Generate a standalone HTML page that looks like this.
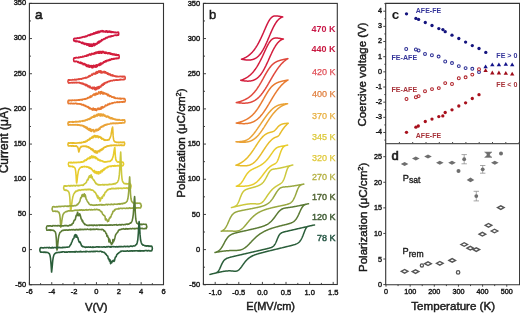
<!DOCTYPE html>
<html><head><meta charset="utf-8"><title>Figure</title>
<style>
html,body{margin:0;padding:0;background:#fff;}
svg{display:block;}
text{font-family:'Liberation Sans', Arial, Helvetica, sans-serif;}
</style></head>
<body>
<svg width="520" height="313" viewBox="0 0 520 313">
<rect width="520" height="313" fill="#fff"/>
<path d="M73.9 38.65 L74.12 38.82 L74.35 38.72 L74.57 38.39 L74.79 38.35 L75.02 38.33 L75.24 38.52 L75.46 38.3 L75.68 38.58 L75.91 38.51 L76.13 38.73 L76.35 38.62 L76.58 38.14 L76.8 38.21 L77.02 38.09 L77.25 38.34 L77.47 38.25 L77.69 37.9 L77.91 38.26 L78.14 37.99 L78.36 38.04 L78.58 38.22 L78.81 37.82 L79.03 37.97 L79.25 38.06 L79.48 38.19 L79.7 37.77 L79.92 37.55 L80.14 37.43 L80.37 37.88 L80.59 37.91 L80.81 37.74 L81.04 37.62 L81.26 37.75 L81.48 37.45 L81.7 37.11 L81.93 37.48 L82.15 37.55 L82.37 37.19 L82.6 36.87 L82.82 36.92 L83.04 36.78 L83.27 36.78 L83.49 36.92 L83.71 36.62 L83.94 36.93 L84.16 37.08 L84.38 36.59 L84.6 36.6 L84.83 37.02 L85.05 36.32 L85.27 36.3 L85.5 36.53 L85.72 35.97 L85.94 36.21 L86.17 36.65 L86.39 36.2 L86.61 36.27 L86.83 36.41 L87.06 36.32 L87.28 35.8 L87.5 35.45 L87.73 35.33 L87.95 35.39 L88.17 35.44 L88.4 35.02 L88.62 35.04 L88.84 34.88 L89.06 35.4 L89.29 34.94 L89.51 34.98 L89.73 35.42 L89.96 34.92 L90.18 34.41 L90.4 34.61 L90.62 35.08 L90.85 34.07 L91.07 34.57 L91.29 34.5 L91.52 34.4 L91.74 34.73 L91.96 33.9 L92 33.77 L92.19 34.15 L92.41 33.81 L92.63 34.34 L92.86 34.32 L93.08 34.19 L93.3 33.32 L93.52 33.41 L93.75 32.87 L93.97 33.1 L94.19 33.99 L94.42 33.89 L94.64 33.84 L94.86 32.71 L95.09 32.59 L95.31 33.14 L95.53 33.38 L95.75 33.03 L95.98 32.1 L96.2 33.28 L96.42 32.97 L96.65 32.02 L96.87 32.18 L97.09 33.12 L97.31 32.16 L97.54 32.61 L97.76 31.59 L97.98 32.78 L98.21 31.5 L98.43 32.8 L98.65 31.72 L98.88 31.31 L99.1 32.64 L99.32 31.86 L99.55 31.66 L99.77 32.27 L99.99 31.28 L100.21 31.22 L100.44 31.22 L100.66 30.97 L100.88 31.31 L101 31.68 L101.11 31.39 L101.33 31.5 L101.55 31.51 L101.78 31.35 L102 30.61 L102.22 30.87 L102.44 31.77 L102.67 31.1 L102.89 31.47 L103.11 30.73 L103.34 30.95 L103.56 31.8 L103.78 31.46 L104 32.02 L104.23 31.54 L104.45 31.38 L104.67 31.3 L104.9 31.34 L105.12 31.7 L105.34 32.08 L105.57 31.5 L105.79 31.94 L106.01 30.87 L106.23 30.82 L106.46 30.84 L106.68 31.91 L106.9 31.01 L107.13 31.77 L107.35 32.11 L107.57 31.19 L107.8 31.47 L108.02 32.31 L108.24 31.2 L108.47 31.71 L108.69 31.31 L108.91 32.04 L109.13 31.84 L109.36 31.18 L109.58 31.99 L109.8 31.31 L110.03 32.24 L110.25 31.43 L110.47 31.38 L110.69 31.7 L110.92 31.91 L111.14 32.4 L111.36 31.65 L111.59 32.16 L111.81 31.65 L112.03 32.34 L112.26 31.7 L112.48 32.33 L112.7 31.77 L112.93 31.78 L113.15 32.21 L113.37 32.33 L113.59 32.07 L113.82 32.35 L114.04 31.96 L114.26 31.93 L114.49 32.2 L114.71 32.64 L114.93 32.41 L115.16 32.29 L115.38 32.21 L115.6 32.66 L115.82 32.19 L116.05 32.85 L116.27 32.76 L116.49 32.49 L116.72 32.41 L116.94 32.66 L117.16 32.39 L117.38 32.68 L117.61 32.45 L117.83 32.17 L118.05 32.19 L118.28 32.34 L118.5 32.21 Q119.04 34 118.5 35.14 L118.5 35.14 L118.28 34.75 L118.05 35.14 L117.83 34.8 L117.61 34.96 L117.38 35.17 L117.16 35.32 L116.94 35.45 L116.72 35.19 L116.49 35.43 L116.27 35.21 L116.05 35.04 L115.82 35.31 L115.6 35.39 L115.38 35.09 L115.16 35.13 L114.93 35.26 L114.71 35.37 L114.49 35.42 L114.26 35.39 L114.04 35.41 L113.82 35.49 L113.59 35.46 L113.37 36.03 L113.15 35.68 L112.93 36.08 L112.7 36.12 L112.48 36.13 L112.26 36.27 L112.03 35.97 L111.81 35.77 L111.59 36.26 L111.36 36.47 L111.14 36.06 L110.92 36.58 L110.69 36.07 L110.47 36.6 L110.25 36.28 L110.03 36.87 L109.8 36.95 L109.58 36.66 L109.36 36.58 L109.13 36.74 L108.91 36.47 L108.69 36.78 L108.47 36.87 L108.24 37.02 L108.02 37.44 L107.8 37.23 L107.57 37.72 L107.35 37.83 L107.13 37.16 L106.9 37.78 L106.68 38.05 L106.46 37.93 L106.23 37.61 L106.01 37.9 L105.79 37.69 L105.57 38.63 L105.34 38.02 L105.12 38.79 L104.9 38.99 L104.67 38.64 L104.45 38.95 L104.23 38.85 L104 38.89 L103.78 39.4 L103.56 39.21 L103.34 39.04 L103.11 39.54 L102.89 39.97 L102.67 39.74 L102.44 39.93 L102.22 39.95 L102 40.56 L101.78 39.78 L101.55 39.66 L101.33 40.59 L101.11 41.35 L101 41.4 L100.88 40.75 L100.66 41.65 L100.44 40.97 L100.21 41.4 L99.99 41.03 L99.77 41.02 L99.55 42.36 L99.32 42.63 L99.1 42.25 L98.88 41.18 L98.65 42.34 L98.43 42.7 L98.21 43.18 L97.98 43.29 L97.76 42.08 L97.54 42.24 L97.31 44.01 L97.09 42.96 L96.87 43.97 L96.65 44.08 L96.42 43.51 L96.2 44.31 L95.98 44.15 L95.75 44.59 L95.53 43.96 L95.31 45.05 L95.09 43.51 L94.86 43.65 L94.64 44.06 L94.42 45.66 L94.19 44.43 L93.97 45.1 L93.75 44.16 L93.52 43.61 L93.3 44.87 L93.08 45.48 L92.86 45.7 L92.63 46.2 L92.41 44.33 L92.19 45.76 L92 45.77 L91.96 44.76 L91.74 45.61 L91.52 46.33 L91.29 43.97 L91.07 44.28 L90.85 46.28 L90.62 44.32 L90.4 44.58 L90.18 44.17 L89.96 45.09 L89.73 46.31 L89.51 44.17 L89.29 44.69 L89.06 44.18 L88.84 45.86 L88.62 44.62 L88.4 44.08 L88.17 43.81 L87.95 44.02 L87.73 43.75 L87.5 44.97 L87.28 44.38 L87.06 45.18 L86.83 45.07 L86.61 43.45 L86.39 44.57 L86.17 44.64 L85.94 44.3 L85.72 43.92 L85.5 43.54 L85.27 43.89 L85.05 43.33 L84.83 43.1 L84.6 44.37 L84.38 43.43 L84.16 44.14 L83.94 44.08 L83.71 43.23 L83.49 43.86 L83.27 42.73 L83.04 43.5 L82.82 42.37 L82.6 42.84 L82.37 43.07 L82.15 42.41 L81.93 43.37 L81.7 42.86 L81.48 42.73 L81.26 43.03 L81.04 42.29 L80.81 42.4 L80.59 41.96 L80.37 42.23 L80.14 42.28 L79.92 41.99 L79.7 42.25 L79.48 41.44 L79.25 41.59 L79.03 42.19 L78.81 41.8 L78.58 41.88 L78.36 41.41 L78.14 41.66 L77.91 41.46 L77.69 41.2 L77.47 41.03 L77.25 41.29 L77.02 41.46 L76.8 41.64 L76.58 40.98 L76.35 41.11 L76.13 40.87 L75.91 41.15 L75.68 41.6 L75.46 40.97 L75.24 41.45 L75.02 40.84 L74.79 41.11 L74.57 41.15 L74.35 41.04 L74.12 40.81 L73.9 40.87 Q73.36 39.7 73.9 38.65Z" fill="none" stroke="#d01840" stroke-width="1.6" stroke-linejoin="round"/>
<path d="M73.9 58.29 L74.12 57.89 L74.35 57.87 L74.58 57.76 L74.8 57.81 L75.03 58.25 L75.25 57.75 L75.48 57.77 L75.7 57.53 L75.93 57.83 L76.15 57.62 L76.38 57.45 L76.6 57.48 L76.83 57.42 L77.05 57.57 L77.28 57.74 L77.5 57.83 L77.73 57.77 L77.95 57.51 L78.18 57.9 L78.4 57.69 L78.62 57.16 L78.85 57.74 L79.08 57.59 L79.3 57.11 L79.53 57.35 L79.75 57.54 L79.98 57.34 L80.2 57.37 L80.43 56.98 L80.65 56.85 L80.88 56.79 L81.1 57.11 L81.33 57.12 L81.55 56.96 L81.78 57.17 L82 56.88 L82.23 56.96 L82.45 56.98 L82.68 56.35 L82.9 56.88 L83.12 56.84 L83.35 56.56 L83.58 56.49 L83.8 56.71 L84.03 56.54 L84.25 56 L84.48 56.52 L84.7 56.29 L84.93 55.71 L85.15 56.27 L85.38 56.22 L85.6 55.99 L85.83 55.87 L86.05 56.27 L86.28 56.3 L86.5 55.17 L86.73 56 L86.95 55.51 L87.18 55.16 L87.4 55.09 L87.62 54.93 L87.85 55.84 L88.08 55.61 L88.3 55.63 L88.53 54.73 L88.75 54.98 L88.98 54.28 L89.2 54.79 L89.43 54.3 L89.65 54.45 L89.88 53.94 L90.1 55.03 L90.33 55.08 L90.55 54.98 L90.78 54.15 L91 54.99 L91.23 53.98 L91.45 53.78 L91.68 53.44 L91.9 53.64 L92.12 53.51 L92.35 53.84 L92.58 53.55 L92.8 54.3 L93 53.83 L93.03 54.33 L93.25 53.91 L93.48 53.86 L93.7 53.83 L93.93 52.99 L94.15 54.01 L94.38 53.18 L94.6 52.82 L94.83 53.93 L95.05 53.32 L95.28 53.09 L95.5 52.35 L95.73 52.37 L95.95 52.83 L96.18 53.52 L96.4 52.65 L96.62 52.13 L96.85 52.36 L97.08 52.13 L97.3 52.7 L97.53 52.99 L97.75 52.34 L97.98 52.23 L98.2 51.61 L98.43 53.28 L98.65 52.38 L98.88 53.03 L99.1 51.9 L99.33 52.12 L99.55 53.15 L99.78 52.98 L100 51.38 L100.23 53 L100.45 52.41 L100.68 52.04 L100.9 52.85 L101.12 53.13 L101.35 51.51 L101.58 52.28 L101.8 53.07 L102.03 52.53 L102.25 52.19 L102.48 51.43 L102.7 51.8 L102.93 52.58 L103.15 51.65 L103.38 52.6 L103.6 51.67 L103.83 52.44 L104.05 52.22 L104.28 52.63 L104.5 52.13 L104.73 53.31 L104.95 53.21 L105.18 52.12 L105.4 53.4 L105.62 52.32 L105.85 52.69 L106.08 52.6 L106.3 53.05 L106.53 52.37 L106.75 52.59 L106.98 53.2 L107.2 53.42 L107.43 53 L107.65 53.78 L107.88 53.58 L108.1 52.71 L108.33 52.88 L108.55 53.23 L108.78 52.88 L109 53.58 L109.23 52.88 L109.45 53.03 L109.68 52.99 L109.9 52.93 L110.12 54.14 L110.35 53.96 L110.58 54.27 L110.8 53.33 L111.03 54.12 L111.25 54.06 L111.48 53.74 L111.7 53.53 L111.93 53.73 L112.15 54.6 L112.38 54.65 L112.6 53.97 L112.83 54.56 L113.05 53.72 L113.28 54.14 L113.5 53.98 L113.73 54.81 L113.95 54.32 L114.18 54.74 L114.4 54.01 L114.62 54.98 L114.85 54.83 L115.08 54.46 L115.3 55.11 L115.53 54.46 L115.75 54.55 L115.98 54.29 L116.2 55.19 L116.43 55.25 L116.65 54.62 L116.88 55.31 L117.1 54.82 L117.33 54.89 L117.55 55.36 L117.78 55.27 L118 55.31 L118.23 55.15 L118.45 54.93 L118.68 55.34 L118.9 54.88 Q119.56 57 118.9 58.37 L118.9 58.37 L118.68 57.97 L118.45 58.17 L118.23 58.17 L118 58.47 L117.78 58.47 L117.55 58.14 L117.33 58.36 L117.1 58.23 L116.88 58.72 L116.65 58.43 L116.43 58.15 L116.2 58.59 L115.98 58.7 L115.75 58.4 L115.53 58.74 L115.3 58.7 L115.08 58.49 L114.85 58.97 L114.62 58.55 L114.4 58.44 L114.18 58.46 L113.95 59.06 L113.73 58.52 L113.5 58.81 L113.28 59.28 L113.05 58.98 L112.83 58.99 L112.6 59.35 L112.38 58.91 L112.15 58.89 L111.93 59.12 L111.7 58.89 L111.48 59.21 L111.25 59.31 L111.03 59.06 L110.8 59.92 L110.58 59.44 L110.35 60.11 L110.12 60.08 L109.9 59.69 L109.68 59.43 L109.45 60.4 L109.23 59.91 L109 60.54 L108.78 60.08 L108.55 59.92 L108.33 60.81 L108.1 60.7 L107.88 60.2 L107.65 60.38 L107.43 60.34 L107.2 61.05 L106.98 60.5 L106.75 60.86 L106.53 60.48 L106.3 61.7 L106.08 60.95 L105.85 61.6 L105.62 60.82 L105.4 61.86 L105.18 61.33 L104.95 61.76 L104.73 62.12 L104.5 61.96 L104.28 61.39 L104.05 61.82 L103.83 62.49 L103.6 61.79 L103.38 62.92 L103.15 62.3 L102.93 62.5 L102.7 63.68 L102.48 63.57 L102.25 63.29 L102.03 63.8 L101.8 63.85 L101.58 63.9 L101.35 63.02 L101.12 63.31 L100.9 64.62 L100.68 64.89 L100.45 63.14 L100.23 64.22 L100 64.82 L99.78 63.49 L99.55 65.36 L99.33 64.61 L99.1 64.28 L98.88 64.31 L98.65 65.34 L98.43 64.3 L98.2 64.74 L97.98 64.97 L97.75 65.5 L97.53 65.33 L97.3 66.56 L97.08 65.13 L96.85 64.8 L96.62 64.87 L96.4 65.06 L96.18 67.27 L95.95 65.39 L95.73 67.19 L95.5 65.36 L95.28 66.01 L95.05 65.82 L94.83 65.77 L94.6 67.05 L94.38 66.06 L94.15 65.54 L93.93 65.36 L93.7 66.94 L93.48 66.46 L93.25 65.43 L93.03 66.75 L93 67.71 L92.8 67.45 L92.58 67.83 L92.35 65.83 L92.12 66.02 L91.9 67.76 L91.68 67.48 L91.45 65.43 L91.23 66.39 L91 66.78 L90.78 66.25 L90.55 65.95 L90.33 66.99 L90.1 65.45 L89.88 66.99 L89.65 67.16 L89.43 65.88 L89.2 65.72 L88.98 66.12 L88.75 64.94 L88.53 66.96 L88.3 66.43 L88.08 65.89 L87.85 64.95 L87.62 65.78 L87.4 65.83 L87.18 66.56 L86.95 64.97 L86.73 66.41 L86.5 65.21 L86.28 66.14 L86.05 64.49 L85.83 64.24 L85.6 64.86 L85.38 64.42 L85.15 65.13 L84.93 64.2 L84.7 63.62 L84.48 64.09 L84.25 63.9 L84.03 63.49 L83.8 64.37 L83.58 64.39 L83.35 63.77 L83.12 64.68 L82.9 63.28 L82.68 63.29 L82.45 63.19 L82.23 62.8 L82 63.45 L81.78 63.68 L81.55 62.47 L81.33 63.39 L81.1 63.22 L80.88 63.42 L80.65 62.67 L80.43 62.14 L80.2 62.95 L79.98 63.13 L79.75 62.96 L79.53 62.88 L79.3 62.41 L79.08 62.69 L78.85 62.39 L78.62 62.56 L78.4 62.26 L78.18 61.64 L77.95 61.78 L77.73 62.32 L77.5 62.02 L77.28 61.82 L77.05 61.46 L76.83 61.2 L76.6 61.53 L76.38 61.35 L76.15 61.54 L75.93 61.49 L75.7 61.33 L75.48 61.27 L75.25 61.77 L75.03 61.36 L74.8 61.68 L74.58 61.21 L74.35 61.18 L74.12 60.97 L73.9 61.3 Q73.24 59.3 73.9 58.29Z" fill="none" stroke="#d41e3c" stroke-width="1.6" stroke-linejoin="round"/>
<path d="M68.3 79.95 L68.58 79.8 L68.87 79.96 L69.15 80.27 L69.43 79.88 L69.72 79.76 L70 80.12 L70.28 79.81 L70.56 80.03 L70.85 80.08 L71.13 80.01 L71.41 80.1 L71.7 79.92 L71.98 80 L72.26 79.69 L72.55 79.61 L72.83 79.85 L73.11 79.72 L73.39 79.76 L73.68 79.93 L73.96 80.02 L74.24 79.68 L74.53 79.88 L74.81 79.37 L75.09 79.4 L75.38 79.9 L75.66 79.85 L75.94 79.79 L76.22 79.38 L76.51 79.79 L76.79 79.54 L77.07 79.28 L77.36 79.2 L77.64 79.24 L77.92 79.46 L78.2 79.02 L78.49 79.42 L78.77 79.14 L79.05 79.42 L79.34 78.9 L79.62 79.08 L79.9 79.21 L80.19 78.84 L80.47 78.97 L80.75 78.85 L81.03 78.8 L81.32 78.78 L81.6 79.09 L81.88 78.67 L82.17 78.89 L82.45 78.28 L82.73 78.54 L83.02 78.45 L83.3 78.43 L83.58 77.99 L83.86 78.43 L84.15 77.89 L84.43 78.04 L84.71 77.76 L85 78 L85.28 77.53 L85.56 78.08 L85.85 77.4 L86.13 78.04 L86.41 77.47 L86.69 77.83 L86.98 77.7 L87.26 77.51 L87.54 77.36 L87.83 76.8 L88.11 77.18 L88.39 76.32 L88.68 76.55 L88.96 75.91 L89.24 76.55 L89.53 75.5 L89.81 76.33 L90.09 76.31 L90.37 75.83 L90.66 75.72 L90.94 75.26 L91.22 75.12 L91.51 74.99 L91.79 74.14 L92.07 74.76 L92.36 75.07 L92.64 74.4 L92.92 74.27 L93.2 73.49 L93.49 73.26 L93.77 73.89 L94.05 73.99 L94.34 74.05 L94.62 73.47 L94.9 73.32 L95 74.19 L95.19 73.92 L95.47 73.54 L95.75 72.28 L96.03 72.8 L96.32 73.61 L96.6 73.23 L96.88 71.52 L97.17 72.98 L97.45 73.21 L97.73 72.95 L98.02 72.16 L98.3 71.41 L98.58 72.04 L98.86 70.89 L99.15 71.13 L99.43 72.31 L99.71 71.08 L100 70.93 L100 72.16 L100.28 72.71 L100.56 72.01 L100.84 70.89 L101.13 72.14 L101.41 72.55 L101.69 73.02 L101.98 71.58 L102.26 71.81 L102.54 72.55 L102.83 72.77 L103.11 72.42 L103.39 72.36 L103.68 71.83 L103.96 71.31 L104.24 72.65 L104.52 72.52 L104.81 71.82 L105.09 72.99 L105.37 71.78 L105.66 72.11 L105.94 72.46 L106.22 73.27 L106.5 73.44 L106.79 72.66 L107.07 72.98 L107.35 72.85 L107.64 74.31 L107.92 73.63 L108.2 73.11 L108.49 74.13 L108.77 74.37 L109.05 74.93 L109.34 74 L109.62 73.82 L109.9 74.46 L110.18 74.1 L110.47 74.16 L110.75 75.5 L111.03 74.64 L111.32 75.13 L111.6 75.6 L111.88 75.09 L112.17 74.88 L112.45 75.81 L112.73 75.03 L113.01 75.92 L113.3 75.99 L113.58 75.53 L113.86 75.61 L114.15 75.79 L114.43 76.19 L114.71 76.26 L115 76.17 L115.28 76.43 L115.56 76.02 L115.84 76.67 L116.13 76.63 L116.41 76.16 L116.69 76.59 L116.98 76.62 L117.26 76.75 L117.54 76.29 L117.83 76.61 L118.11 76.66 L118.39 76.53 L118.67 76.71 L118.96 76.54 L119.24 76.65 L119.52 76.41 L119.81 76.33 L120.09 76.39 L120.37 76.37 L120.66 76.53 L120.94 76.33 L121.22 76.77 L121.5 76.77 L121.79 76.36 L122.07 76.55 L122.35 76.83 L122.64 76.35 L122.92 76.88 L123.2 76.37 L123.49 76.36 L123.77 76.81 L124.05 76.67 L124.33 76.65 L124.62 76.32 L124.9 76.71 Q125.74 78 124.9 79.22 L124.9 79.22 L124.62 79.18 L124.33 79.31 L124.05 79.65 L123.77 79.66 L123.49 79.21 L123.2 79.33 L122.92 79.79 L122.64 79.76 L122.35 79.8 L122.07 79.77 L121.79 79.65 L121.5 79.76 L121.22 79.71 L120.94 79.38 L120.66 79.46 L120.37 79.95 L120.09 79.42 L119.81 79.98 L119.52 79.82 L119.24 79.65 L118.96 79.92 L118.67 80.03 L118.39 80.04 L118.11 80.14 L117.83 79.99 L117.54 80.15 L117.26 79.81 L116.98 79.84 L116.69 80.24 L116.41 79.83 L116.13 79.72 L115.84 79.87 L115.56 80.16 L115.28 80.12 L115 80.1 L114.71 80.02 L114.43 80.42 L114.15 80.4 L113.86 79.97 L113.58 80.05 L113.3 80.33 L113.01 80.38 L112.73 80.68 L112.45 80.65 L112.17 80.82 L111.88 80.46 L111.6 80.43 L111.32 80.83 L111.03 80.87 L110.75 80.58 L110.47 80.97 L110.18 81.23 L109.9 80.87 L109.62 81.2 L109.34 81.6 L109.05 81.56 L108.77 81.4 L108.49 81.42 L108.2 81.8 L107.92 81.55 L107.64 82.18 L107.35 82.17 L107.07 81.78 L106.79 82.77 L106.5 82.4 L106.22 82.23 L105.94 82.83 L105.66 82.7 L105.37 82.86 L105.09 82.58 L104.81 83.01 L104.52 84.11 L104.24 83.63 L103.96 83.39 L103.68 83.33 L103.39 84.55 L103.11 85.28 L102.83 84.26 L102.54 84.08 L102.26 84.48 L101.98 85.75 L101.69 85.6 L101.41 85.19 L101.13 85.64 L100.84 87.05 L100.56 87.03 L100.28 86.53 L100 86.29 L100 86.67 L99.71 87.41 L99.43 87.85 L99.15 88.13 L98.86 86.53 L98.58 87 L98.3 87 L98.02 88.75 L97.73 86.96 L97.45 87.4 L97.17 87.2 L96.88 87.79 L96.6 89.38 L96.32 87.47 L96.03 89.6 L95.75 89.73 L95.47 89.34 L95.19 89.85 L95 87.59 L94.9 88.23 L94.62 87.38 L94.34 89.29 L94.05 87.44 L93.77 87.31 L93.49 88.32 L93.2 88.24 L92.92 87.36 L92.64 87.48 L92.36 88.91 L92.07 87.46 L91.79 88.31 L91.51 87.76 L91.22 88.17 L90.94 87.86 L90.66 87.1 L90.37 87.52 L90.09 86.42 L89.81 86.12 L89.53 87.1 L89.24 87.63 L88.96 86.14 L88.68 86.27 L88.39 86.14 L88.11 85.58 L87.83 86.64 L87.54 85.36 L87.26 85.11 L86.98 85.73 L86.69 85.19 L86.41 84.52 L86.13 85.79 L85.85 84.37 L85.56 85.44 L85.28 84.62 L85 85.07 L84.71 84.08 L84.43 84.24 L84.15 84.26 L83.86 84.48 L83.58 83.94 L83.3 83.4 L83.02 84.09 L82.73 83.91 L82.45 83.89 L82.17 83.11 L81.88 83.03 L81.6 83.71 L81.32 83.1 L81.03 83.17 L80.75 83.44 L80.47 82.81 L80.19 83.1 L79.9 82.57 L79.62 82.89 L79.34 82.51 L79.05 82.82 L78.77 82.53 L78.49 82.49 L78.2 82.57 L77.92 82.47 L77.64 82.73 L77.36 82.44 L77.07 82.54 L76.79 82.7 L76.51 82.35 L76.22 82.79 L75.94 82.57 L75.66 82.52 L75.38 82.66 L75.09 82.41 L74.81 82.48 L74.53 82.88 L74.24 82.82 L73.96 82.38 L73.68 82.73 L73.39 82.48 L73.11 82.96 L72.83 82.56 L72.55 82.92 L72.26 82.54 L71.98 82.52 L71.7 82.64 L71.41 82.61 L71.13 82.52 L70.85 82.97 L70.56 82.88 L70.28 82.74 L70 82.78 L69.72 82.82 L69.43 82.59 L69.15 83.15 L68.87 83.16 L68.58 82.92 L68.3 82.64 Q67.46 81.5 68.3 79.95Z" fill="none" stroke="#e0483c" stroke-width="1.6" stroke-linejoin="round"/>
<path d="M68.3 100.39 L68.58 100.2 L68.87 100.35 L69.15 100.39 L69.43 100.74 L69.72 100.66 L70 100.16 L70.28 100.4 L70.56 100.33 L70.85 100.44 L71.13 100.63 L71.41 100.59 L71.7 100.09 L71.98 100.54 L72.26 100.07 L72.55 100.35 L72.83 100.16 L73.11 100.24 L73.39 100.18 L73.68 100.18 L73.96 100.42 L74.24 100.05 L74.53 100.02 L74.81 100.39 L75.09 100.33 L75.38 100.18 L75.66 100.47 L75.94 100.45 L76.22 100.01 L76.51 100.43 L76.79 100.09 L77.07 99.98 L77.36 100.15 L77.64 100.27 L77.92 99.99 L78.2 99.84 L78.49 100.15 L78.77 99.8 L79.05 100.17 L79.34 99.72 L79.62 100.19 L79.9 99.7 L80.19 100.01 L80.47 99.61 L80.75 99.63 L81.03 99.79 L81.32 99.61 L81.6 100.03 L81.88 99.36 L82.17 99.31 L82.45 99.91 L82.73 99.67 L83.02 99.21 L83.3 99.08 L83.58 99.24 L83.86 99.18 L84.15 99.36 L84.43 99.24 L84.71 98.74 L85 98.89 L85.28 99.26 L85.56 98.88 L85.85 98.65 L86.13 98.85 L86.41 98.81 L86.69 98.8 L86.98 98.48 L87.26 98.03 L87.54 97.67 L87.83 98.32 L88.11 98.04 L88.39 97.67 L88.68 97.79 L88.96 97.73 L89.24 96.97 L89.53 97.62 L89.81 97.1 L90.09 96.32 L90.37 96.34 L90.66 97.34 L90.94 95.93 L91.22 96.46 L91.51 96.26 L91.79 96.63 L92.07 95.79 L92.36 95.29 L92.64 95.45 L92.92 94.8 L93.2 95.07 L93.49 94.76 L93.77 94.1 L94.05 94.73 L94.34 94.44 L94.62 94.04 L94.9 95.37 L95.19 93.73 L95.47 93.96 L95.75 93.25 L96 94.63 L96.03 93.87 L96.32 93.2 L96.6 93.37 L96.88 94.32 L97.17 93.42 L97.45 93.51 L97.73 94.1 L98.02 94.06 L98.3 92.85 L98.58 92.9 L98.86 91.81 L99.15 92.43 L99.43 92.44 L99.71 92.71 L100 93.26 L100.28 93.9 L100.5 91.74 L100.56 93.84 L100.84 91.94 L101.13 93.16 L101.41 91.65 L101.69 93.25 L101.98 91.93 L102.26 92.29 L102.54 92.62 L102.83 94.01 L103.11 92.31 L103.39 93.43 L103.68 93.64 L103.96 93.99 L104.24 92.72 L104.52 93.58 L104.81 93.47 L105.09 93.83 L105.37 93.25 L105.66 93.92 L105.94 93.98 L106.22 94.16 L106.5 94.38 L106.79 93.45 L107.07 94.49 L107.35 95 L107.64 94.59 L107.92 95.79 L108.2 95.33 L108.49 94.4 L108.77 95.67 L109.05 95.21 L109.34 95.64 L109.62 96.39 L109.9 96.23 L110.18 95.78 L110.47 95.95 L110.75 96.31 L111.03 96 L111.32 96.42 L111.6 97.07 L111.88 97.18 L112.17 96.87 L112.45 96.99 L112.73 97.27 L113.01 96.99 L113.3 97.06 L113.58 97.53 L113.86 96.98 L114.15 97.96 L114.43 97.19 L114.71 97.24 L115 98.21 L115.28 98.02 L115.56 98.32 L115.84 98.11 L116.13 98.24 L116.41 98.28 L116.69 98.32 L116.98 98.45 L117.26 98.02 L117.54 98.55 L117.83 98.49 L118.11 98.66 L118.39 98.49 L118.67 98.33 L118.96 98.38 L119.24 98.64 L119.52 98.25 L119.81 98.27 L120.09 98.83 L120.37 98.92 L120.66 98.32 L120.94 98.72 L121.22 99 L121.5 98.63 L121.79 98.79 L122.07 98.48 L122.35 98.4 L122.64 98.48 L122.92 98.47 L123.2 98.5 L123.49 98.87 L123.77 98.88 L124.05 98.46 L124.33 98.87 L124.62 98.88 L124.9 98.82 Q125.8 100.3 124.9 101.94 L124.9 101.94 L124.62 101.57 L124.33 102.04 L124.05 102.01 L123.77 101.66 L123.49 101.71 L123.2 101.58 L122.92 102.11 L122.64 102.18 L122.35 102.02 L122.07 101.62 L121.79 101.76 L121.5 101.7 L121.22 101.94 L120.94 102.24 L120.66 101.92 L120.37 101.97 L120.09 102.06 L119.81 101.8 L119.52 102.09 L119.24 102.34 L118.96 102.05 L118.67 102.06 L118.39 101.98 L118.11 102.34 L117.83 102.09 L117.54 102.47 L117.26 101.92 L116.98 101.99 L116.69 102.26 L116.41 102.12 L116.13 102.42 L115.84 102.47 L115.56 102.5 L115.28 102.67 L115 102.58 L114.71 102.32 L114.43 102.45 L114.15 102.68 L113.86 102.86 L113.58 102.97 L113.3 102.87 L113.01 102.72 L112.73 103.17 L112.45 103.39 L112.17 102.87 L111.88 103.06 L111.6 103.03 L111.32 103.34 L111.03 103.32 L110.75 103.72 L110.47 103.53 L110.18 104.01 L109.9 103.88 L109.62 103.37 L109.34 103.95 L109.05 104.6 L108.77 104.68 L108.49 104.43 L108.2 104.59 L107.92 104.03 L107.64 104.58 L107.35 105.25 L107.07 105.03 L106.79 105.55 L106.5 105.73 L106.22 105.36 L105.94 104.99 L105.66 104.99 L105.37 105.25 L105.09 105.58 L104.81 106.74 L104.52 106.67 L104.24 106.75 L103.96 107.17 L103.68 107.44 L103.39 107.4 L103.11 107.77 L102.83 107.75 L102.54 106.66 L102.26 108.04 L101.98 106.9 L101.69 107.26 L101.41 108.87 L101.13 107.01 L100.84 108.91 L100.56 108.94 L100.5 109.07 L100.28 109.23 L100 108.24 L99.71 108.98 L99.43 108.72 L99.15 108.26 L98.86 109.49 L98.58 108.29 L98.3 108.53 L98.02 108.63 L97.73 108.9 L97.45 108.39 L97.17 108.85 L96.88 110.19 L96.6 109.78 L96.32 110.61 L96.03 109.62 L96 109.8 L95.75 110.16 L95.47 108.75 L95.19 110.21 L94.9 109.5 L94.62 110.01 L94.34 108.79 L94.05 109.81 L93.77 109.08 L93.49 108.97 L93.2 108.09 L92.92 110.22 L92.64 109.61 L92.36 109.33 L92.07 109.84 L91.79 108.76 L91.51 108.92 L91.22 108.98 L90.94 108.55 L90.66 108.31 L90.37 108.74 L90.09 108.11 L89.81 108.85 L89.53 107.54 L89.24 107.93 L88.96 108.31 L88.68 107.19 L88.39 107.14 L88.11 106.64 L87.83 107.32 L87.54 106.68 L87.26 106.89 L86.98 106.47 L86.69 106.69 L86.41 106.58 L86.13 106.71 L85.85 105.62 L85.56 106.24 L85.28 105.66 L85 105.96 L84.71 105.66 L84.43 105.36 L84.15 105.29 L83.86 105.53 L83.58 104.53 L83.3 104.64 L83.02 105.03 L82.73 104.72 L82.45 105.01 L82.17 104.49 L81.88 104.99 L81.6 104.67 L81.32 104.07 L81.03 103.98 L80.75 104.07 L80.47 103.86 L80.19 104.41 L79.9 103.88 L79.62 103.78 L79.34 103.91 L79.05 103.96 L78.77 103.81 L78.49 104 L78.2 104.04 L77.92 103.61 L77.64 103.82 L77.36 103.86 L77.07 103.62 L76.79 103.9 L76.51 103.6 L76.22 103.42 L75.94 103.24 L75.66 103.27 L75.38 103.46 L75.09 103.42 L74.81 103.7 L74.53 103.69 L74.24 103.58 L73.96 103.48 L73.68 103.29 L73.39 103.75 L73.11 103.68 L72.83 103.46 L72.55 103.65 L72.26 103.46 L71.98 103.76 L71.7 103.28 L71.41 103.26 L71.13 103.22 L70.85 103.3 L70.56 103.6 L70.28 103.65 L70 103.43 L69.72 103.56 L69.43 103.5 L69.15 103.39 L68.87 103.64 L68.58 103.36 L68.3 103.47 Q67.4 102 68.3 100.39Z" fill="none" stroke="#e87a30" stroke-width="1.6" stroke-linejoin="round"/>
<path d="M68.3 122.07 L68.58 121.94 L68.86 122.21 L69.14 121.77 L69.43 122.25 L69.71 121.93 L69.99 121.83 L70.27 122.02 L70.55 121.93 L70.83 121.97 L71.11 121.78 L71.4 121.9 L71.68 122.05 L71.96 121.89 L72.24 122.21 L72.52 121.97 L72.8 121.65 L73.09 122.03 L73.37 121.79 L73.65 122.17 L73.93 121.93 L74.21 121.81 L74.49 121.77 L74.77 121.89 L75.06 122 L75.34 121.49 L75.62 121.73 L75.9 121.96 L76.18 121.46 L76.46 121.92 L76.75 121.75 L77.03 121.91 L77.31 121.79 L77.59 121.55 L77.87 121.66 L78.15 121.41 L78.43 121.86 L78.72 121.62 L79 121.5 L79.28 121.33 L79.56 121.66 L79.84 121.15 L80.12 121.58 L80.4 121.42 L80.69 121.59 L80.97 121.27 L81.25 121.02 L81.53 120.97 L81.81 121.05 L82.09 121.03 L82.38 120.79 L82.66 121.38 L82.94 120.64 L83.22 121.11 L83.5 120.9 L83.78 120.77 L84.06 120.3 L84.35 120.93 L84.63 120.6 L84.91 120.71 L85.19 120.79 L85.47 120.6 L85.75 119.98 L86.03 119.83 L86.32 119.61 L86.6 119.99 L86.88 119.78 L87.16 120.16 L87.44 119.72 L87.72 119.07 L88 119.1 L88.29 119.44 L88.57 119.35 L88.85 118.96 L89.13 119.5 L89.41 118.4 L89.69 118.3 L89.98 119.06 L90.26 118.85 L90.54 118.65 L90.82 118.31 L91.1 117.27 L91.38 118.21 L91.66 117.95 L91.95 117.68 L92.23 116.72 L92.51 116.82 L92.79 117.07 L93.07 116.49 L93.35 117.14 L93.63 117.09 L93.92 115.67 L94 115.97 L94.2 117.12 L94.48 115.57 L94.76 115.35 L95.04 116.73 L95.32 115.82 L95.61 116.47 L95.89 115.96 L96.17 114.98 L96.45 115.95 L96.73 114.61 L97.01 114.78 L97.29 114.44 L97.58 115.9 L97.86 114.31 L98.14 114.59 L98.42 114.06 L98.7 113.88 L98.98 115.25 L99.27 114.77 L99.55 114.23 L99.83 114.46 L100 115.94 L100.11 113.83 L100.39 115.69 L100.67 115.3 L100.95 115.9 L101.24 115.51 L101.52 114 L101.8 115.63 L102.08 114.19 L102.36 115.89 L102.64 115.17 L102.92 114.36 L103.21 115.6 L103.49 114.3 L103.77 115.53 L104.05 114.89 L104.33 115.7 L104.61 116.2 L104.89 115.05 L105.18 116.23 L105.46 116.31 L105.74 116.58 L106.02 116.74 L106.3 116.19 L106.58 117.07 L106.87 117.11 L107.15 116.01 L107.43 116.45 L107.71 116.59 L107.99 116.11 L108.27 116.96 L108.55 116.57 L108.84 117.78 L109.12 117.14 L109.4 117.36 L109.68 117.02 L109.96 118.4 L110.24 117.9 L110.53 118.04 L110.81 118.71 L111.09 117.81 L111.37 118 L111.65 117.85 L111.93 118.74 L112.21 118.06 L112.5 118.78 L112.78 119.01 L113.06 119.26 L113.34 118.49 L113.62 119.03 L113.9 118.89 L114.18 119.09 L114.47 119.34 L114.75 118.99 L115.03 119.6 L115.31 119.72 L115.59 119.4 L115.87 119.83 L116.16 119.51 L116.44 119.86 L116.72 119.48 L117 119.67 L117.28 119.99 L117.56 120.03 L117.84 119.49 L118.13 120.19 L118.41 119.7 L118.69 120 L118.97 119.95 L119.25 119.9 L119.53 119.64 L119.81 120.3 L120.1 120.29 L120.38 120.21 L120.66 120.27 L120.94 120.12 L121.22 120.15 L121.5 120.07 L121.78 120.13 L122.07 120.06 L122.35 120.34 L122.63 119.93 L122.91 119.82 L123.19 120.34 L123.47 119.91 L123.76 120.08 L124.04 119.82 L124.32 119.92 L124.6 119.91 Q125.44 121.5 124.6 122.75 L124.6 122.75 L124.32 122.85 L124.04 122.7 L123.76 122.72 L123.47 122.92 L123.19 122.96 L122.91 123.02 L122.63 123.06 L122.35 122.85 L122.07 122.95 L121.78 122.85 L121.5 123.27 L121.22 122.89 L120.94 122.89 L120.66 122.76 L120.38 123.28 L120.1 123.14 L119.81 123.24 L119.53 122.87 L119.25 123.1 L118.97 122.85 L118.69 123.03 L118.41 123.08 L118.13 123.4 L117.84 123.16 L117.56 123.37 L117.28 123.42 L117 123.47 L116.72 123.1 L116.44 123.11 L116.16 123.49 L115.87 123.25 L115.59 123.2 L115.31 123.53 L115.03 123.07 L114.75 123.34 L114.47 123.53 L114.18 123.1 L113.9 123.11 L113.62 123.36 L113.34 123.15 L113.06 123.54 L112.78 123.17 L112.5 123.46 L112.21 123.54 L111.93 123.31 L111.65 123.27 L111.37 123.77 L111.09 123.33 L110.81 123.45 L110.53 123.34 L110.24 123.73 L109.96 123.75 L109.68 124.06 L109.4 124.03 L109.12 124.06 L108.84 124.23 L108.55 124.19 L108.27 124.1 L107.99 124.18 L107.71 124.31 L107.43 124.04 L107.15 124.68 L106.87 124.29 L106.58 124.56 L106.3 124.24 L106.02 125.13 L105.74 124.74 L105.46 124.57 L105.18 125.05 L104.89 124.81 L104.61 125.49 L104.33 125.78 L104.05 125.34 L103.77 125.83 L103.49 125.48 L103.21 125.76 L102.92 126.68 L102.64 125.99 L102.36 126.26 L102.08 126.74 L101.8 127.06 L101.52 126.42 L101.24 127.13 L100.95 126.77 L100.67 127.41 L100.39 127.17 L100.11 127.76 L100 129 L99.83 129.25 L99.55 127.94 L99.27 128.28 L98.98 128.3 L98.7 129.87 L98.42 130.24 L98.14 130.26 L97.86 129.53 L97.58 129.33 L97.29 129.33 L97.01 129.78 L96.73 130.98 L96.45 130.36 L96.17 129.28 L95.89 129.57 L95.61 130.47 L95.32 130.21 L95.04 130.98 L94.76 131.78 L94.48 130.62 L94.2 131.75 L94 131.87 L93.92 131.86 L93.63 130.03 L93.35 129.56 L93.07 129.86 L92.79 129.89 L92.51 129.74 L92.23 130.17 L91.95 131.15 L91.66 129.97 L91.38 131.39 L91.1 129.42 L90.82 131.24 L90.54 130.48 L90.26 128.88 L89.98 130.62 L89.69 129.29 L89.41 128.49 L89.13 130.3 L88.85 128.46 L88.57 128.77 L88.29 129.68 L88 128.76 L87.72 129.3 L87.44 128.13 L87.16 127.4 L86.88 128.71 L86.6 128.4 L86.32 126.95 L86.03 127 L85.75 126.65 L85.47 127.82 L85.19 127.38 L84.91 126.77 L84.63 126.42 L84.35 126.57 L84.06 127.04 L83.78 125.77 L83.5 126.03 L83.22 125.72 L82.94 126.12 L82.66 125.75 L82.38 125.33 L82.09 125.7 L81.81 125.65 L81.53 125.69 L81.25 125.16 L80.97 125.44 L80.69 125.31 L80.4 125.56 L80.12 124.96 L79.84 125.36 L79.56 125.05 L79.28 125.22 L79 124.78 L78.72 125.09 L78.43 124.74 L78.15 125.07 L77.87 125.08 L77.59 124.57 L77.31 125.11 L77.03 125.02 L76.75 124.65 L76.46 125.03 L76.18 124.99 L75.9 125.02 L75.62 124.82 L75.34 124.61 L75.06 124.62 L74.77 125 L74.49 124.87 L74.21 125 L73.93 124.64 L73.65 124.96 L73.37 124.83 L73.09 124.97 L72.8 125.06 L72.52 124.65 L72.24 124.96 L71.96 124.97 L71.68 124.75 L71.4 124.89 L71.11 124.99 L70.83 124.93 L70.55 124.88 L70.27 124.57 L69.99 125.06 L69.71 124.99 L69.43 124.61 L69.14 124.97 L68.86 124.59 L68.58 125.17 L68.3 125.16 Q67.46 123.5 68.3 122.07Z" fill="none" stroke="#eaa236" stroke-width="1.6" stroke-linejoin="round"/>
<path d="M68.3 142.83 L68.58 143.28 L68.86 143.11 L69.14 142.89 L69.42 143.04 L69.7 143.13 L69.98 142.94 L70.26 142.89 L70.54 142.98 L70.82 142.75 L71.1 143.26 L71.38 143.07 L71.66 142.9 L71.94 142.91 L72.22 142.82 L72.5 143.24 L72.78 142.75 L73.06 142.98 L73.34 142.77 L73.62 143.28 L73.9 142.79 L74.18 142.9 L74.46 143.06 L74.74 143.17 L75.02 143.12 L75.3 143.13 L75.58 143.13 L75.86 143.21 L76.14 143.17 L76.42 143.1 L76.7 142.93 L76.98 142.96 L77.26 143.08 L77.54 142.96 L77.82 142.86 L78.1 143.01 L78.38 142.79 L78.66 142.77 L78.8 143.01 L78.94 142.82 L79.22 142.6 L79.5 142.55 L79.78 142.81 L80.06 143.01 L80.34 142.93 L80.62 142.98 L80.9 142.59 L81.18 142.27 L81.46 142.61 L81.74 142.81 L82.02 142.5 L82.3 142.43 L82.58 142.5 L82.86 142.19 L83.14 142.12 L83.42 142.31 L83.7 141.76 L83.98 141.93 L84.26 141.99 L84.54 142.24 L84.82 141.68 L85.1 142.1 L85.38 141.55 L85.66 141.07 L85.94 141.77 L86.22 141.17 L86.5 141.45 L86.78 141.24 L87.06 141.19 L87.34 140.16 L87.62 140.44 L87.9 139.85 L88.18 140.27 L88.46 139.72 L88.74 139.95 L89.02 139.44 L89.3 139.09 L89.58 138.42 L89.86 139.59 L90.14 139.13 L90.42 138.65 L90.7 138.06 L90.98 138.35 L91.26 138.26 L91.54 137.21 L91.82 138.29 L92.1 136.8 L92.38 137.5 L92.66 137.54 L92.94 136.22 L93.22 137.62 L93.5 137.38 L93.78 136.05 L94.06 135.78 L94.34 136.79 L94.62 136.4 L94.9 135.41 L95.18 136.59 L95.46 136.21 L95.74 135.74 L96 137.33 L96.02 135.88 L96.3 137.06 L96.58 136.57 L96.86 136.34 L97 135.77 L97.14 136.9 L97.42 136 L97.7 136.47 L97.98 136 L98.26 136.35 L98.54 137.81 L98.82 137.01 L99.1 137.07 L99.38 136.92 L99.66 136.47 L99.94 137.09 L100.22 136.92 L100.5 137.18 L100.78 138.15 L101.06 137.36 L101.34 137.42 L101.62 138.89 L101.9 138.37 L102.18 139.12 L102.46 138.55 L102.74 138.74 L103.02 138.65 L103.3 139.23 L103.58 139.3 L103.86 139.78 L104.14 140.14 L104.42 139.58 L104.7 139.98 L104.98 140.39 L105.26 140.06 L105.54 139.87 L105.82 140.07 L106.1 140.31 L106.38 140.17 L106.66 139.99 L106.94 140.14 L107.22 139.94 L107.5 140.14 L107.78 140.03 L108.06 139.95 L108.34 139.68 L108.62 139.65 L108.9 139.92 L109.18 139.62 L109.46 138.71 L109.74 138.21 L110.02 138.12 L110.3 137.25 L110.58 136.6 L110.86 135.64 L111.14 134.21 L111.42 132.36 L111.7 131.11 L111.98 129.03 L112.26 127.82 L112.54 127.3 L112.6 127.11 L112.82 129.94 L113.1 135.15 L113.38 138.21 L113.66 139.68 L113.94 140.53 L114.22 141.37 L114.5 141.37 L114.78 141.94 L115.06 141.6 L115.34 141.76 L115.62 141.9 L115.9 142.29 L116.18 142.31 L116.46 142.38 L116.74 142.13 L117.02 142.56 L117.3 142.57 L117.58 142.47 L117.86 142.42 L118.14 142.08 L118.42 142.31 L118.7 142.62 L118.98 142.53 L119.26 142.5 L119.54 142.24 L119.82 142.66 L120.1 142.41 L120.38 142.12 L120.66 142.33 L120.94 142.27 L121.22 142.51 L121.5 142.23 L121.78 142.4 L122.06 142.65 L122.34 142.26 L122.62 142.17 L122.9 142.28 L123.18 142.41 L123.46 142.18 L123.74 142.44 L124.02 142.53 L124.3 142.14 Q125.14 143.8 124.3 145.08 L124.3 145.08 L124.02 145.41 L123.74 145.19 L123.46 145.31 L123.18 145.37 L122.9 145.41 L122.62 145.26 L122.34 145.46 L122.06 145.14 L121.78 145.2 L121.5 145.08 L121.22 145.34 L120.94 145.03 L120.66 145.07 L120.38 145.17 L120.1 145.11 L119.82 145.34 L119.54 145.29 L119.26 145.45 L118.98 145 L118.7 145.05 L118.42 145.29 L118.14 145.4 L117.86 145.26 L117.58 145.49 L117.3 145.41 L117.02 145.25 L116.74 145.05 L116.46 145.5 L116.18 145.25 L115.9 145.07 L115.62 145.57 L115.34 145.5 L115.06 145.18 L114.78 145.4 L114.5 145.07 L114.22 145.51 L113.94 145.05 L113.66 145.47 L113.38 145.22 L113.1 145.42 L112.82 145.2 L112.6 145.28 L112.54 145.33 L112.26 145.23 L111.98 145.15 L111.7 145.58 L111.42 145.73 L111.14 145.29 L110.86 145.42 L110.58 145.38 L110.3 145.67 L110.02 145.5 L109.74 145.76 L109.46 145.53 L109.18 145.97 L108.9 145.97 L108.62 145.76 L108.34 146.05 L108.06 145.76 L107.78 145.7 L107.5 146.12 L107.22 146.26 L106.94 146.45 L106.66 146.73 L106.38 146.16 L106.1 146.48 L105.82 146.94 L105.54 147.21 L105.26 147.13 L104.98 146.83 L104.7 147.08 L104.42 147.28 L104.14 147.88 L103.86 147.65 L103.58 147.66 L103.3 147.98 L103.02 149.24 L102.74 149.49 L102.46 149.36 L102.18 148.67 L101.9 150.03 L101.62 149.01 L101.34 149.47 L101.06 150.49 L100.78 150.01 L100.5 149.59 L100.22 150.27 L99.94 150.36 L99.66 151.78 L99.38 150.28 L99.1 151.13 L98.82 150.65 L98.54 151.16 L98.26 151.01 L97.98 151.05 L97.7 152.58 L97.42 152.83 L97.14 151.29 L97 151.7 L96.86 153.03 L96.58 153.04 L96.3 151.44 L96.02 152.79 L96 152.68 L95.74 150.71 L95.46 151.96 L95.18 152.62 L94.9 152.33 L94.62 151.06 L94.34 150.83 L94.06 151.84 L93.78 150.33 L93.5 150.33 L93.22 150.08 L92.94 149.3 L92.66 150.58 L92.38 150.38 L92.1 149.03 L91.82 148.74 L91.54 148.63 L91.26 148.83 L90.98 149.49 L90.7 148.76 L90.42 148.43 L90.14 147.78 L89.86 148.1 L89.58 147.58 L89.3 147.87 L89.02 147.81 L88.74 146.86 L88.46 147.7 L88.18 147.17 L87.9 146.65 L87.62 146.84 L87.34 146.55 L87.06 146.57 L86.78 146.96 L86.5 146.63 L86.22 146.11 L85.94 146.6 L85.66 146.16 L85.38 146.48 L85.1 146.1 L84.82 146.27 L84.54 146.15 L84.26 146.4 L83.98 146.18 L83.7 146.05 L83.42 146.16 L83.14 146.44 L82.86 146.24 L82.58 146.14 L82.3 146.27 L82.02 146.64 L81.74 146.58 L81.46 146.53 L81.18 146.41 L80.9 147.14 L80.62 146.99 L80.34 147.76 L80.06 147.99 L79.78 148.58 L79.5 149.85 L79.22 150.76 L78.94 151.63 L78.8 151.99 L78.66 151.36 L78.38 149.84 L78.1 148.2 L77.82 147.4 L77.54 146.82 L77.26 146.81 L76.98 146.33 L76.7 146.53 L76.42 146.21 L76.14 145.8 L75.86 145.82 L75.58 146.14 L75.3 145.97 L75.02 146.11 L74.74 145.96 L74.46 146.15 L74.18 146.03 L73.9 145.82 L73.62 146.06 L73.34 145.74 L73.06 146.05 L72.78 145.84 L72.5 145.87 L72.22 145.64 L71.94 146.06 L71.66 146.19 L71.38 145.9 L71.1 145.74 L70.82 145.81 L70.54 145.95 L70.26 145.91 L69.98 145.75 L69.7 145.89 L69.42 145.94 L69.14 146.04 L68.86 146 L68.58 145.98 L68.3 145.95 Q67.46 144.5 68.3 142.83Z" fill="none" stroke="#e8bc2a" stroke-width="1.6" stroke-linejoin="round"/>
<path d="M68.8 162.5 L69.07 162.32 L69.34 162.4 L69.61 162.55 L69.89 162.47 L70.16 162.49 L70.43 162.32 L70.7 162.87 L70.97 162.32 L71.24 162.85 L71.52 162.33 L71.79 162.52 L72.06 162.58 L72.33 162.81 L72.6 162.63 L72.87 162.64 L73.14 162.4 L73.42 162.26 L73.69 162.75 L73.96 162.35 L74.23 162.74 L74.5 162.33 L74.77 162.73 L75.04 162.42 L75.32 162.72 L75.59 162.43 L75.86 162.43 L76.13 162.34 L76.4 162.53 L76.6 162.68 L76.67 162.73 L76.94 162.47 L77.22 162.26 L77.49 162.5 L77.76 162.56 L78.03 162.39 L78.3 162.15 L78.57 162.35 L78.85 162.51 L79.12 162.57 L79.39 162.51 L79.66 162.15 L79.93 162.27 L80.2 162.12 L80.47 162.3 L80.75 162.42 L81.02 161.95 L81.29 162.08 L81.56 161.75 L81.83 161.78 L82.1 162.21 L82.38 162.06 L82.65 162.06 L82.92 161.85 L83.19 161.65 L83.46 161.21 L83.73 161.7 L84 161.3 L84.28 160.88 L84.55 160.41 L84.82 160.95 L85.09 160.15 L85.36 160.31 L85.63 160.2 L85.9 160.22 L86.18 159.47 L86.45 160.31 L86.72 159.07 L86.99 159.08 L87.26 159.29 L87.53 159.05 L87.8 158.45 L88.08 158.06 L88.35 158.67 L88.62 158.18 L88.89 158.06 L89.16 158.1 L89.43 158.33 L89.71 158.64 L89.98 156.78 L90.25 157.21 L90.52 158.24 L90.79 157.76 L91.06 157.68 L91.33 156.48 L91.61 155.94 L91.88 156.31 L92.15 157.33 L92.42 157.7 L92.5 157.66 L92.69 157.76 L92.96 156.18 L93.23 156.58 L93.51 157.35 L93.78 156.24 L94.05 157.6 L94.32 157.65 L94.59 157.51 L94.86 157.51 L95.14 156.79 L95.41 158.02 L95.68 157.26 L95.95 158.6 L96.22 157.46 L96.49 157.64 L96.76 157.96 L97.04 158.32 L97.31 158.65 L97.58 159.58 L97.85 159.46 L98 159.93 L98.12 159.14 L98.39 159.53 L98.66 160.1 L98.94 159.46 L99.21 160.24 L99.48 160.15 L99.75 160.72 L100.02 160.88 L100.29 160.15 L100.57 160.44 L100.84 160.94 L101.11 160.65 L101.38 161.04 L101.65 161.06 L101.92 160.83 L102.19 161.2 L102.47 161.38 L102.74 161.12 L103.01 161.67 L103.28 161.43 L103.55 161.47 L103.82 161.71 L104.09 162.07 L104.37 161.79 L104.64 162.03 L104.91 161.88 L105.18 161.72 L105.45 162.01 L105.72 162.11 L106 161.7 L106.27 161.97 L106.54 161.89 L106.81 161.83 L107.08 161.5 L107.35 161.64 L107.62 161.71 L107.9 161.53 L108.17 161.55 L108.44 161.3 L108.71 161.52 L108.98 161.52 L109.25 161.21 L109.53 161.2 L109.8 161.36 L110.07 161.37 L110.34 161.23 L110.61 160.56 L110.88 160.68 L111.15 160.32 L111.43 160.09 L111.7 159.55 L111.97 159.65 L112.24 158.77 L112.51 158.1 L112.78 157.65 L113.05 156.5 L113.33 155.41 L113.6 153.96 L113.87 152.28 L114.14 150.38 L114.41 148.89 L114.68 147.67 L114.8 147.47 L114.95 149.17 L115.23 154.06 L115.5 157.2 L115.77 159.28 L116.04 160.32 L116.31 160.55 L116.58 160.91 L116.86 161.33 L117.13 161.66 L117.4 161.7 L117.67 162.07 L117.94 162.17 L118.21 162 L118.48 161.87 L118.76 161.8 L119.03 162.19 L119.3 162.24 L119.57 162.09 L119.84 162.11 L120.11 162.15 L120.38 162.25 L120.66 162.24 L120.93 162.29 L121.2 162.29 L121.47 162.1 L121.74 162.15 L122.01 161.92 L122.29 162.13 L122.56 162.31 L122.83 162.44 L123.1 162.3 Q124.18 164 123.1 165.57 L123.1 165.57 L122.83 165.65 L122.56 165.73 L122.29 165.91 L122.01 165.53 L121.74 166.09 L121.47 165.69 L121.2 166.11 L120.93 165.71 L120.66 165.99 L120.38 165.69 L120.11 165.73 L119.84 165.93 L119.57 165.89 L119.3 165.8 L119.03 165.6 L118.76 165.63 L118.48 165.61 L118.21 165.99 L117.94 165.59 L117.67 165.9 L117.4 165.57 L117.13 165.72 L116.86 165.86 L116.58 165.95 L116.31 165.82 L116.04 165.78 L115.77 165.83 L115.5 166.04 L115.23 165.72 L114.95 165.98 L114.8 165.92 L114.68 165.68 L114.41 166.14 L114.14 165.66 L113.87 166.21 L113.6 165.75 L113.33 166.18 L113.05 165.78 L112.78 165.81 L112.51 165.85 L112.24 165.72 L111.97 165.9 L111.7 166.06 L111.43 166.34 L111.15 166.31 L110.88 166.49 L110.61 165.98 L110.34 166.31 L110.07 166.19 L109.8 166.39 L109.53 166.27 L109.25 166.15 L108.98 166.4 L108.71 166.59 L108.44 167.03 L108.17 166.51 L107.9 166.69 L107.62 166.92 L107.35 167.62 L107.08 167.13 L106.81 167.33 L106.54 167.42 L106.27 167.75 L106 168.2 L105.72 168.3 L105.45 168.73 L105.18 168.17 L104.91 168.84 L104.64 169.25 L104.37 169.48 L104.09 168.59 L103.82 170.26 L103.55 169.87 L103.28 169.99 L103.01 169.81 L102.74 169.8 L102.47 171.62 L102.19 169.97 L101.92 171.3 L101.65 171.05 L101.38 171.74 L101.11 171.46 L100.84 170.93 L100.57 173.06 L100.29 171.91 L100.02 172.73 L99.75 172.34 L99.48 171.87 L99.21 172.55 L98.94 173.71 L98.66 171.79 L98.39 173.96 L98.12 172.14 L98 171.79 L97.85 173.82 L97.58 173.12 L97.31 172.07 L97.04 173.39 L96.76 172.98 L96.49 173.49 L96.22 171.46 L95.95 172.7 L95.68 172.23 L95.41 171.62 L95.14 172.98 L94.86 172.5 L94.59 170.77 L94.32 170.47 L94.05 172.13 L93.78 170.75 L93.51 171.4 L93.23 171.04 L92.96 170.76 L92.69 170.74 L92.5 170.05 L92.42 170.08 L92.15 169.54 L91.88 169.13 L91.61 169.37 L91.33 168.84 L91.06 168.23 L90.79 168.16 L90.52 168.53 L90.25 167.88 L89.98 168.49 L89.71 168.2 L89.43 167.4 L89.16 167.89 L88.89 167.89 L88.62 167.02 L88.35 166.94 L88.08 167.23 L87.8 167.19 L87.53 167.09 L87.26 166.77 L86.99 166.59 L86.72 167.12 L86.45 166.83 L86.18 166.53 L85.9 166.65 L85.63 166.71 L85.36 166.73 L85.09 166.76 L84.82 166.61 L84.55 166.44 L84.28 166.89 L84 166.53 L83.73 166.66 L83.46 166.73 L83.19 166.79 L82.92 166.48 L82.65 166.87 L82.38 167.14 L82.1 167.15 L81.83 166.95 L81.56 166.81 L81.29 167.07 L81.02 167.25 L80.75 167.22 L80.47 167.79 L80.2 167.76 L79.93 168 L79.66 168.45 L79.39 168.69 L79.12 169.44 L78.85 169.54 L78.57 170.45 L78.3 171.4 L78.03 173.31 L77.76 174.57 L77.49 176.68 L77.22 179.23 L76.94 181.57 L76.67 183.05 L76.6 182.97 L76.4 181.28 L76.13 176.23 L75.86 172.96 L75.59 170.52 L75.32 169.04 L75.04 168.13 L74.77 167.93 L74.5 167.59 L74.23 167.42 L73.96 167.06 L73.69 166.72 L73.42 166.9 L73.14 166.44 L72.87 166.44 L72.6 166.8 L72.33 166.58 L72.06 166.17 L71.79 166.25 L71.52 166.4 L71.24 166.43 L70.97 166.5 L70.7 166.51 L70.43 166.05 L70.16 166.13 L69.89 166.31 L69.61 166.08 L69.34 166.43 L69.07 166.17 L68.8 166.12 Q67.72 164.4 68.8 162.5Z" fill="none" stroke="#e8cc2c" stroke-width="1.6" stroke-linejoin="round"/>
<path d="M64.2 185.71 L64.53 185.72 L64.86 186 L65.2 186.23 L65.53 185.74 L65.86 186.08 L66.19 185.73 L66.52 186.09 L66.86 186.2 L67.19 185.98 L67.52 186.07 L67.85 185.78 L68.18 185.64 L68.52 185.6 L68.85 185.79 L69.18 185.58 L69.51 185.78 L69.84 186.09 L70.18 185.64 L70.51 185.66 L70.6 185.64 L70.84 185.95 L71.17 185.66 L71.5 185.6 L71.84 185.55 L72.17 185.97 L72.5 185.89 L72.83 185.6 L73.16 185.71 L73.5 185.51 L73.83 185.76 L74.16 185.74 L74.49 185.5 L74.82 185.58 L75.16 185.88 L75.49 185.87 L75.82 185.52 L76.15 185.39 L76.48 185.32 L76.82 185.4 L77.15 185.35 L77.48 185.7 L77.81 185.48 L78.14 185.69 L78.48 185.84 L78.81 185.38 L79.14 185.64 L79.47 185.52 L79.8 185.46 L80.14 185.19 L80.47 185.35 L80.8 185.2 L81.13 185.18 L81.46 185.17 L81.8 185.09 L82.13 185.26 L82.46 185.09 L82.79 185.38 L83.12 184.77 L83.46 185.12 L83.79 184.47 L84.12 184.24 L84.45 183.77 L84.78 183.8 L85.12 183.4 L85.45 183.39 L85.78 182.78 L86.11 182.51 L86.44 182.3 L86.78 180.95 L87.11 180.38 L87.44 179.69 L87.77 179.11 L88.1 179.93 L88.44 178.42 L88.77 176.95 L89.1 176.8 L89.43 175.87 L89.76 177.51 L90.1 177.54 L90.43 176.79 L90.5 176.64 L90.76 175.63 L91.09 174.8 L91.42 177.63 L91.76 177.16 L92.09 176.56 L92.42 178.43 L92.75 178.85 L93.08 178.95 L93.42 179.86 L93.75 180.32 L94.08 180.14 L94.41 180.81 L94.74 181.69 L95.08 182.25 L95.41 182.31 L95.74 183.54 L96.07 183.42 L96.4 183.99 L96.74 183.65 L97.07 184.11 L97.4 184.57 L97.73 184.72 L98.06 184.47 L98.4 184.85 L98.73 184.47 L99.06 184.49 L99.39 184.96 L99.72 184.76 L100.06 184.74 L100.39 184.93 L100.4 184.79 L100.72 184.97 L101.05 184.91 L101.38 184.81 L101.72 184.71 L102.05 184.71 L102.38 184.59 L102.71 184.49 L103.04 184.88 L103.38 184.63 L103.71 184.92 L104.04 184.79 L104.37 184.51 L104.7 184.85 L105.04 184.59 L105.37 184.62 L105.7 184.76 L106.03 184.56 L106.36 184.79 L106.7 184.52 L107.03 184.83 L107.36 184.84 L107.69 184.46 L108.02 184.42 L108.36 184.65 L108.69 184.5 L109.02 184.7 L109.35 184.16 L109.68 184.4 L110.02 184.6 L110.35 184.35 L110.68 184.31 L111.01 184.32 L111.34 184.39 L111.68 184.2 L112.01 184.33 L112.34 184.34 L112.67 183.91 L113 183.84 L113.34 183.81 L113.67 184.15 L114 183.67 L114.33 183.99 L114.66 183.52 L115 183.64 L115.33 183.89 L115.66 183.68 L115.99 183.21 L116.32 182.83 L116.66 182.77 L116.99 182.52 L117.32 182.5 L117.65 181.83 L117.98 180.94 L118.32 180.6 L118.65 179.41 L118.98 177.29 L119.31 174.89 L119.64 170.84 L119.98 164.94 L120.31 157.59 L120.64 152.69 L120.7 152.03 L120.97 157.77 L121.3 168.43 L121.64 174.81 L121.97 178.28 L122.3 180.49 L122.63 181.4 L122.96 182.1 L123.3 182.33 L123.63 183 L123.96 183.37 L124.29 183.38 L124.62 183.7 L124.96 183.73 L125.29 183.73 L125.62 183.56 L125.95 183.93 L126.28 184.02 L126.62 183.55 L126.95 183.99 L127.28 183.78 L127.61 183.71 L127.94 183.97 L128.28 183.6 L128.61 183.6 L128.94 183.76 L129.27 183.93 L129.6 183.92 L129.94 184.13 L130.27 184.09 L130.6 184.06 Q131.8 186 130.6 188.3 L130.6 188.3 L130.27 187.82 L129.94 187.93 L129.6 187.84 L129.27 187.95 L128.94 187.91 L128.61 188.28 L128.28 188.2 L127.94 187.89 L127.61 188.35 L127.28 188.21 L126.95 188.4 L126.62 187.89 L126.28 187.97 L125.95 187.94 L125.62 187.99 L125.29 188.28 L124.96 188.19 L124.62 188.24 L124.29 188.02 L123.96 187.96 L123.63 187.96 L123.3 188.2 L122.96 188.48 L122.63 188.52 L122.3 188.33 L121.97 188.41 L121.64 188.47 L121.3 188.2 L120.97 188.26 L120.7 188.21 L120.64 188.36 L120.31 188.15 L119.98 188.26 L119.64 188.35 L119.31 188.29 L118.98 188.1 L118.65 188.24 L118.32 188.57 L117.98 188.29 L117.65 188.37 L117.32 188.46 L116.99 188.29 L116.66 188.3 L116.32 188.75 L115.99 188.48 L115.66 188.26 L115.33 188.68 L115 188.55 L114.66 188.62 L114.33 188.51 L114 188.64 L113.67 188.59 L113.34 188.31 L113 188.77 L112.67 188.42 L112.34 188.78 L112.01 188.67 L111.68 188.38 L111.34 188.84 L111.01 188.93 L110.68 188.77 L110.35 189.08 L110.02 188.84 L109.68 188.95 L109.35 189.14 L109.02 189.38 L108.69 189.33 L108.36 189.4 L108.02 189.32 L107.69 190.08 L107.36 190.41 L107.03 190.16 L106.7 190.94 L106.36 191.04 L106.03 191.87 L105.7 191.82 L105.37 192.42 L105.04 192.35 L104.7 193.99 L104.37 194.19 L104.04 195.79 L103.71 194.56 L103.38 195.5 L103.04 196.14 L102.71 196.38 L102.38 198.07 L102.05 196.75 L101.72 198.17 L101.38 198.13 L101.05 198.8 L100.72 198.18 L100.4 200.53 L100.39 199.29 L100.06 201.18 L99.72 197.86 L99.39 199.15 L99.06 198.3 L98.73 197.59 L98.4 196.78 L98.06 198.44 L97.73 195.64 L97.4 197.39 L97.07 196.11 L96.74 195.91 L96.4 194.03 L96.07 194.06 L95.74 193.51 L95.41 192.35 L95.08 192.43 L94.74 192.33 L94.41 192.14 L94.08 191.39 L93.75 190.98 L93.42 190.48 L93.08 190.52 L92.75 190.12 L92.42 189.94 L92.09 190 L91.76 190.15 L91.42 189.7 L91.09 189.79 L90.76 189.88 L90.5 189.57 L90.43 189.41 L90.1 189.21 L89.76 189.66 L89.43 189.23 L89.1 189.3 L88.77 189.53 L88.44 189.73 L88.1 189.18 L87.77 189.27 L87.44 189.43 L87.11 189.8 L86.78 189.42 L86.44 189.68 L86.11 189.85 L85.78 189.61 L85.45 189.69 L85.12 189.33 L84.78 189.68 L84.45 189.67 L84.12 189.43 L83.79 189.52 L83.46 189.88 L83.12 190.05 L82.79 189.71 L82.46 189.82 L82.13 189.62 L81.8 190.03 L81.46 190.04 L81.13 189.92 L80.8 190 L80.47 190.28 L80.14 190.39 L79.8 189.91 L79.47 190.04 L79.14 189.98 L78.81 190.5 L78.48 190.12 L78.14 190.71 L77.81 190.83 L77.48 190.43 L77.15 190.59 L76.82 191.07 L76.48 191.32 L76.15 191.53 L75.82 191.17 L75.49 191.99 L75.16 191.78 L74.82 192.48 L74.49 192.96 L74.16 193.46 L73.83 193.82 L73.5 194.74 L73.16 195.85 L72.83 196.77 L72.5 198.66 L72.17 200.33 L71.84 203.14 L71.5 205.74 L71.17 208.71 L70.84 210.42 L70.6 210.63 L70.51 210.29 L70.18 203.68 L69.84 198.02 L69.51 194.99 L69.18 193.07 L68.85 192.28 L68.52 191.56 L68.18 191.24 L67.85 191.09 L67.52 190.64 L67.19 190.45 L66.86 190.45 L66.52 190.22 L66.19 190.04 L65.86 190.53 L65.53 190.06 L65.2 190.15 L64.86 190.02 L64.53 190.19 L64.2 189.96 Q63 188 64.2 185.71Z" fill="none" stroke="#ccc83c" stroke-width="1.6" stroke-linejoin="round"/>
<path d="M52.7 206.73 L53.14 206.71 L53.58 206.6 L54.02 206.5 L54.46 206.86 L54.9 206.82 L55.34 206.89 L55.78 206.93 L56.22 206.92 L56.66 206.51 L57.09 206.77 L57.53 206.86 L57.97 206.58 L58.41 206.63 L58.85 206.3 L59.29 206.4 L59.73 206.72 L60.17 206.75 L60.61 206.54 L60.8 206.38 L61.05 206.56 L61.49 206.35 L61.93 206.28 L62.37 206.22 L62.81 206.27 L63.25 206.41 L63.69 206.39 L64.13 206.4 L64.57 206.04 L65.01 206.06 L65.45 206.07 L65.89 206.18 L66.32 206.35 L66.76 206.04 L67.2 206.12 L67.64 206.42 L68.08 205.97 L68.52 206.39 L68.96 206.14 L69.4 205.9 L69.84 205.91 L70.28 206.1 L70.72 205.89 L71.16 205.88 L71.6 205.88 L72.04 206.02 L72.48 205.7 L72.92 205.96 L73.36 205.98 L73.8 205.73 L74.24 205.63 L74.68 205.47 L75.11 205.69 L75.55 205.82 L75.99 205.44 L76.43 205.24 L76.87 205.05 L77.31 204.26 L77.75 204.57 L78.19 203.63 L78.63 203.26 L79.07 202.55 L79.51 201.97 L79.95 201.18 L80.39 199.04 L80.83 197.59 L81.27 197.84 L81.71 195.94 L82.15 194.66 L82.59 194.5 L83.03 196.53 L83.47 194.49 L83.5 195.59 L83.9 195.56 L84.34 193.88 L84.78 196.65 L85.22 194.86 L85.66 196.54 L86.1 199.17 L86.54 199.46 L86.98 200.53 L87.42 201.5 L87.86 202.12 L88.3 202.44 L88.74 203.37 L89.18 203.91 L89.62 204.4 L90.06 204.68 L90.5 204.93 L90.94 204.57 L91.38 204.71 L91.82 204.96 L92.25 205.05 L92.69 205.21 L93.13 205.04 L93.57 205.3 L94.01 205.38 L94.45 205.05 L94.89 205.19 L95.33 204.98 L95.77 205.27 L96.21 204.75 L96.65 204.74 L97.09 205.2 L97.53 205.06 L97.97 204.88 L98.41 204.87 L98.85 205.01 L99.29 204.67 L99.73 205.02 L100.17 204.98 L100.61 204.64 L101.04 204.57 L101.48 204.64 L101.92 205.09 L102.36 204.63 L102.8 204.84 L103.24 204.69 L103.68 205.01 L104.12 205.01 L104.56 204.9 L105 204.7 L105.44 204.47 L105.88 204.62 L106.32 204.48 L106.76 204.37 L107.2 204.8 L107.5 204.5 L107.64 204.8 L108.08 204.29 L108.52 204.5 L108.96 204.43 L109.4 204.57 L109.83 204.48 L110.27 204.69 L110.71 204.35 L111.15 204.14 L111.59 204.5 L112.03 204.34 L112.47 204.58 L112.91 204.48 L113.35 204.2 L113.79 204.55 L114.23 204.05 L114.67 204.28 L115.11 204.15 L115.55 204.27 L115.99 204.32 L116.43 204.17 L116.87 204.4 L117.31 204.27 L117.75 203.99 L118.19 204.15 L118.62 203.86 L119.06 204.01 L119.5 204.11 L119.94 203.68 L120.38 204.08 L120.82 203.96 L121.26 203.65 L121.7 203.59 L122.14 203.94 L122.58 203.41 L123.02 203.78 L123.46 203.32 L123.9 203.1 L124.34 203.14 L124.78 203.33 L125.22 202.69 L125.66 202.59 L126.1 202.37 L126.54 201.73 L126.98 201.34 L127.41 200.23 L127.85 198.77 L128.29 195.86 L128.73 191.25 L129.17 183.73 L129.61 177.15 L129.7 176.93 L130.05 183.55 L130.49 193.71 L130.93 198.24 L131.37 200.73 L131.81 201.58 L132.25 201.98 L132.69 202.66 L133.13 202.88 L133.57 203.11 L134.01 203.31 L134.45 203.03 L134.89 203.35 L135.33 203.02 L135.77 203.25 L136.2 203.35 L136.64 203.04 L137.08 203 L137.52 203.27 L137.96 203.36 L138.4 203.2 L138.84 203.12 L139.28 203.42 L139.72 203.03 L140.16 203.38 L140.6 203.46 Q141.92 205.5 140.6 207.94 L140.6 207.94 L140.16 207.72 L139.72 207.84 L139.28 207.96 L138.84 207.98 L138.4 207.84 L137.96 207.86 L137.52 208.04 L137.08 207.79 L136.64 207.77 L136.2 208.12 L135.77 207.91 L135.33 208.14 L134.89 207.84 L134.45 207.89 L134.01 208.11 L133.57 207.92 L133.13 208.12 L132.69 208.3 L132.25 207.92 L131.81 208.24 L131.37 208.18 L130.93 208.12 L130.49 207.95 L130.05 208.39 L129.7 208.18 L129.61 207.87 L129.17 208.02 L128.73 208.05 L128.29 208.45 L127.85 208.08 L127.41 208.33 L126.98 208.23 L126.54 208.06 L126.1 208.45 L125.66 208.5 L125.22 208.56 L124.78 208.2 L124.34 208.29 L123.9 208.23 L123.46 208.35 L123.02 208.23 L122.58 208.31 L122.14 208.72 L121.7 208.39 L121.26 208.21 L120.82 208.3 L120.38 208.32 L119.94 208.56 L119.5 208.49 L119.06 208.81 L118.62 208.44 L118.19 208.82 L117.75 209.07 L117.31 208.97 L116.87 209.06 L116.43 209.04 L115.99 209.11 L115.55 209.31 L115.11 209.98 L114.67 209.65 L114.23 210.59 L113.79 211.44 L113.35 211.02 L112.91 211.43 L112.47 213.23 L112.03 214.09 L111.59 214.54 L111.15 216.06 L110.71 217.36 L110.27 216.95 L109.83 218.28 L109.4 218.05 L108.96 219.61 L108.52 221.16 L108.08 220.31 L107.64 220.63 L107.5 221.61 L107.2 220.05 L106.76 220.01 L106.32 218.95 L105.88 220.02 L105.44 219.78 L105 216.16 L104.56 215.95 L104.12 215.28 L103.68 215.27 L103.24 214.45 L102.8 214.42 L102.36 213.63 L101.92 212.15 L101.48 211.49 L101.04 211.68 L100.61 211.08 L100.17 210.84 L99.73 210.23 L99.29 209.88 L98.85 209.74 L98.41 210.02 L97.97 209.49 L97.53 209.6 L97.09 209.53 L96.65 209.32 L96.21 209.54 L95.77 209.73 L95.33 209.61 L94.89 209.76 L94.45 209.32 L94.01 209.78 L93.57 209.71 L93.13 209.79 L92.69 209.76 L92.25 209.9 L91.82 209.51 L91.38 209.51 L90.94 209.91 L90.5 209.9 L90.06 209.51 L89.62 209.78 L89.18 209.66 L88.74 209.97 L88.3 209.78 L87.86 210.02 L87.42 210 L86.98 210.14 L86.54 209.67 L86.1 210.02 L85.66 209.73 L85.22 210.08 L84.78 210.14 L84.34 210.06 L83.9 210.09 L83.5 210.27 L83.47 210.03 L83.03 210.22 L82.59 210.35 L82.15 209.92 L81.71 209.89 L81.27 209.92 L80.83 210.29 L80.39 209.92 L79.95 210.14 L79.51 209.92 L79.07 210.21 L78.63 210.16 L78.19 210.39 L77.75 210.02 L77.31 210.38 L76.87 210.08 L76.43 210.54 L75.99 210.23 L75.55 210.16 L75.11 210.31 L74.68 210.4 L74.24 210.35 L73.8 210.67 L73.36 210.66 L72.92 210.75 L72.48 210.87 L72.04 210.88 L71.6 210.9 L71.16 210.49 L70.72 210.69 L70.28 210.72 L69.84 210.86 L69.4 210.87 L68.96 210.97 L68.52 210.78 L68.08 210.84 L67.64 211.15 L67.2 211.46 L66.76 211.63 L66.32 211.3 L65.89 211.58 L65.45 211.9 L65.01 212.19 L64.57 212.44 L64.13 212.84 L63.69 213.63 L63.25 214.06 L62.81 215.26 L62.37 217.5 L61.93 220.1 L61.49 223.3 L61.05 226.02 L60.8 227.14 L60.61 225.72 L60.17 218.25 L59.73 214.59 L59.29 213.36 L58.85 212.13 L58.41 211.95 L57.97 211.9 L57.53 211.29 L57.09 211.43 L56.66 211.28 L56.22 211.35 L55.78 211.6 L55.34 211.06 L54.9 211.04 L54.46 211.23 L54.02 211.25 L53.58 211.3 L53.14 211.36 L52.7 211.01 Q51.38 209 52.7 206.73Z" fill="none" stroke="#98a840" stroke-width="1.6" stroke-linejoin="round"/>
<path d="M46.9 226.14 L47.4 226.08 L47.89 225.76 L48.39 226.1 L48.89 225.83 L49.38 226.02 L49.88 225.81 L50.38 225.78 L50.87 226.04 L51.37 226.11 L51.86 226.04 L52.36 226.12 L52.86 225.61 L53.35 225.68 L53.85 225.63 L54.35 225.92 L54.84 225.6 L55.34 225.63 L55.84 225.94 L56.33 225.75 L56.83 225.68 L57 225.67 L57.33 226.02 L57.82 225.55 L58.32 225.54 L58.82 225.77 L59.31 225.89 L59.81 225.85 L60.31 225.8 L60.8 225.62 L61.3 226.07 L61.79 226.05 L62.29 226.05 L62.79 225.74 L63.28 225.72 L63.78 225.86 L64.28 225.64 L64.77 225.67 L65.27 225.53 L65.77 225.72 L66.26 225.52 L66.76 225.5 L67.26 225.71 L67.75 225.94 L68.25 225.9 L68.75 225.73 L69.24 225.26 L69.74 225.13 L70.24 225.48 L70.73 224.98 L71.23 224.63 L71.72 225.01 L72.22 223.66 L72.72 223.38 L73.21 223.26 L73.71 221.35 L74.21 220.35 L74.7 219.85 L75.2 219.79 L75.7 217.53 L76.19 215.32 L76.69 215.71 L77.19 213.65 L77.68 212.36 L78.18 214.74 L78.3 215.77 L78.68 214.89 L79.17 215.54 L79.67 213.75 L80.17 214.99 L80.66 216.61 L81.16 218.98 L81.66 219.17 L82.15 221.16 L82.65 220.65 L83.14 222.48 L83.64 223.04 L84.14 223.36 L84.63 224.56 L85.13 224.21 L85.63 224.53 L86.12 224.98 L86.62 225.23 L87.12 225.19 L87.61 225.42 L88.11 225.29 L88.61 225.43 L89.1 225.17 L89.6 225.45 L90.1 225.11 L90.59 225.38 L91.09 225.16 L91.58 225.15 L92.08 225.47 L92.58 225.37 L93.07 225.01 L93.57 225.56 L94.07 224.99 L94.56 225.11 L95.06 225.09 L95.56 225.5 L96.05 225.49 L96.55 225.02 L97.05 225.38 L97.54 225.5 L98.04 225.02 L98.54 225 L99.03 224.95 L99.53 225.42 L100.03 224.88 L100.52 225.2 L101.02 225.16 L101.51 225.21 L102.01 224.89 L102.51 225.16 L103 225.06 L103.5 225.26 L104 225.31 L104.49 225.07 L104.99 225.18 L105.49 225.04 L105.98 225.36 L106.48 224.98 L106.98 225.19 L107.47 225.26 L107.97 224.96 L108.47 225.19 L108.96 225.08 L109.46 225.17 L109.96 224.75 L110.45 225.11 L110.95 224.99 L111.3 224.92 L111.44 225.06 L111.94 225.1 L112.44 225.2 L112.93 225.07 L113.43 225.04 L113.93 224.88 L114.42 224.72 L114.92 224.87 L115.42 224.74 L115.91 224.79 L116.41 224.62 L116.91 225.14 L117.4 225.1 L117.9 225.03 L118.4 224.97 L118.89 224.65 L119.39 224.5 L119.89 225 L120.38 224.65 L120.88 224.9 L121.38 224.89 L121.87 224.46 L122.37 224.56 L122.86 224.57 L123.36 224.9 L123.86 224.62 L124.35 224.59 L124.85 224.48 L125.35 224.61 L125.84 224.2 L126.34 224.27 L126.84 224.04 L127.33 224.39 L127.83 223.99 L128.33 224.19 L128.82 224.1 L129.32 223.63 L129.82 223.29 L130.31 223.12 L130.81 223.19 L131.3 222.42 L131.8 221.61 L132.3 220.15 L132.79 217.87 L133.29 214.29 L133.79 207.59 L134.28 199.5 L134.6 196.54 L134.78 198.8 L135.28 212.23 L135.77 218.97 L136.27 221.59 L136.77 222.91 L137.26 223.48 L137.76 223.85 L138.26 224.1 L138.75 224.14 L139.25 223.85 L139.75 224.46 L140.24 224.37 L140.74 224.41 L141.23 224.13 L141.73 224.66 L142.23 224.48 L142.72 224.23 L143.22 224.12 L143.72 224.19 L144.21 224.34 L144.71 224.21 L145.21 224.28 L145.7 224.44 L146.2 224.27 Q147.4 226.5 146.2 228.68 L146.2 228.68 L145.7 228.28 L145.21 228.44 L144.71 228.7 L144.21 228.67 L143.72 228.82 L143.22 228.76 L142.72 228.3 L142.23 228.61 L141.73 228.5 L141.23 228.34 L140.74 228.39 L140.24 228.65 L139.75 228.4 L139.25 228.42 L138.75 228.48 L138.26 228.81 L137.76 228.47 L137.26 228.36 L136.77 228.55 L136.27 228.41 L135.77 228.63 L135.28 228.62 L134.78 228.44 L134.6 228.84 L134.28 228.8 L133.79 228.69 L133.29 228.49 L132.79 228.42 L132.3 228.45 L131.8 228.84 L131.3 228.82 L130.81 228.82 L130.31 228.6 L129.82 228.87 L129.32 228.61 L128.82 228.92 L128.33 228.89 L127.83 228.75 L127.33 229.09 L126.84 228.66 L126.34 229.05 L125.84 228.64 L125.35 229.11 L124.85 229.09 L124.35 229.11 L123.86 228.96 L123.36 228.68 L122.86 228.94 L122.37 229.04 L121.87 229.23 L121.38 229.12 L120.88 229.49 L120.38 229.57 L119.89 229.92 L119.39 229.63 L118.89 230.15 L118.4 230.45 L117.9 231.89 L117.4 232.34 L116.91 233.03 L116.41 233.6 L115.91 234.36 L115.42 235.38 L114.92 237.65 L114.42 239.67 L113.93 240.74 L113.43 241.8 L112.93 239.48 L112.44 243.55 L111.94 243.9 L111.44 244.68 L111.3 243.33 L110.95 242.58 L110.45 242.88 L109.96 240.26 L109.46 239.13 L108.96 241.88 L108.47 237.83 L107.97 237.26 L107.47 235.6 L106.98 236.38 L106.48 233.61 L105.98 233.56 L105.49 231.99 L104.99 231.45 L104.49 230.78 L104 231.04 L103.5 229.87 L103 229.59 L102.51 229.6 L102.01 229.27 L101.51 229.67 L101.02 229.46 L100.52 229.53 L100.03 229.51 L99.53 229.52 L99.03 229.43 L98.54 229.26 L98.04 229.44 L97.54 229.38 L97.05 229.03 L96.55 228.98 L96.05 229.14 L95.56 229.37 L95.06 229.4 L94.56 229.56 L94.07 229.04 L93.57 229.5 L93.07 229.08 L92.58 229.48 L92.08 229.54 L91.58 229.28 L91.09 229.65 L90.59 229.1 L90.1 229.62 L89.6 229.37 L89.1 229.48 L88.61 229.53 L88.11 229.35 L87.61 229.15 L87.12 229.16 L86.62 229.56 L86.12 229.49 L85.63 229.27 L85.13 229.51 L84.63 229.4 L84.14 229.32 L83.64 229.57 L83.14 229.73 L82.65 229.4 L82.15 229.53 L81.66 229.25 L81.16 229.7 L80.66 229.25 L80.17 229.6 L79.67 229.27 L79.17 229.78 L78.68 229.51 L78.3 229.55 L78.18 229.86 L77.68 229.85 L77.19 229.46 L76.69 229.63 L76.19 229.4 L75.7 229.84 L75.2 229.84 L74.7 229.97 L74.21 229.85 L73.71 229.46 L73.21 229.68 L72.72 229.97 L72.22 229.55 L71.72 229.64 L71.23 229.85 L70.73 229.7 L70.24 229.89 L69.74 230.05 L69.24 229.68 L68.75 230.01 L68.25 230.15 L67.75 230.08 L67.26 230.08 L66.76 229.86 L66.26 230.16 L65.77 230.05 L65.27 230.28 L64.77 230.07 L64.28 230.08 L63.78 230.33 L63.28 230.57 L62.79 230.36 L62.29 230.49 L61.79 230.85 L61.3 231.41 L60.8 231.82 L60.31 232.18 L59.81 232.83 L59.31 234.19 L58.82 235.64 L58.32 238.88 L57.82 243.6 L57.33 248.49 L57 250.05 L56.83 248.54 L56.33 238.85 L55.84 233.97 L55.34 232.02 L54.84 231.51 L54.35 231.05 L53.85 230.56 L53.35 230.3 L52.86 230.4 L52.36 230.14 L51.86 229.94 L51.37 230.07 L50.87 230.41 L50.38 229.87 L49.88 229.92 L49.38 230.28 L48.89 229.82 L48.39 230.14 L47.89 230.19 L47.4 230.3 L46.9 230.26 Q45.7 228 46.9 226.14Z" fill="none" stroke="#5a7a34" stroke-width="1.6" stroke-linejoin="round"/>
<path d="M40.5 247.67 L41.06 247.95 L41.61 247.6 L42.17 247.71 L42.72 247.85 L43.28 247.98 L43.84 247.85 L44.39 247.59 L44.95 247.7 L45.5 247.71 L46.06 247.48 L46.62 247.7 L47.17 247.55 L47.73 247.47 L48.28 247.61 L48.84 247.95 L49.4 247.42 L49.95 247.82 L50.51 247.89 L51.06 247.87 L51.6 247.91 L51.62 247.49 L52.18 247.86 L52.73 247.38 L53.29 247.88 L53.84 247.76 L54.4 247.58 L54.96 247.43 L55.51 247.51 L56.07 247.88 L56.62 247.39 L57.18 247.66 L57.74 247.28 L58.29 247.7 L58.85 247.39 L59.4 247.61 L59.96 247.32 L60.52 247.79 L61.07 247.73 L61.63 247.75 L62.18 247.34 L62.74 247.74 L63.3 247.32 L63.85 247.44 L64.41 247.28 L64.96 247.5 L65.52 247.37 L66.08 247.1 L66.63 247.18 L67.19 247.27 L67.74 247.14 L68.3 247.05 L68.86 246.95 L69.41 246.75 L69.97 245.48 L70.52 244.86 L71.08 243.99 L71.64 242.34 L72.19 241.3 L72.75 239.51 L73.3 238.76 L73.86 238.42 L74.42 235.91 L74.97 234.98 L75.53 234.58 L75.9 235.9 L76.08 237.31 L76.64 235.16 L77.2 237.13 L77.75 237.49 L78.31 239.43 L78.86 241.4 L79.42 242.47 L79.98 241.85 L80.53 243.14 L81.09 244.39 L81.64 245.92 L82.2 245.89 L82.76 246.67 L83.31 246.79 L83.87 246.61 L84.42 247.1 L84.98 247.27 L85.54 247.41 L86.09 246.88 L86.65 247.2 L87.2 247.27 L87.76 246.99 L88.32 247.16 L88.87 246.88 L89.43 247.21 L89.98 247.23 L90.54 246.82 L91.1 247.22 L91.65 247.19 L92.21 247.37 L92.76 246.93 L93.32 247.35 L93.88 247.02 L94.43 247.3 L94.99 247.2 L95.54 247.15 L96.1 246.82 L96.66 246.86 L97.21 246.75 L97.77 246.96 L98.32 246.76 L98.88 247.27 L99.44 246.91 L99.99 246.95 L100.55 246.97 L101.1 247.08 L101.66 246.89 L102.22 247.12 L102.77 247.03 L103.33 247.06 L103.88 246.75 L104.44 246.8 L105 247.11 L105.55 247.12 L106.11 246.95 L106.66 246.6 L107.22 247.02 L107.78 246.62 L108.33 246.67 L108.89 246.56 L109.44 246.71 L110 247.14 L110.56 246.6 L111.11 247.11 L111.67 246.72 L111.8 246.71 L112.22 246.8 L112.78 246.53 L113.34 246.59 L113.89 246.86 L114.45 246.63 L115 246.9 L115.56 246.75 L116.12 247.01 L116.67 246.47 L117.23 246.85 L117.78 246.85 L118.34 246.89 L118.9 246.46 L119.45 246.51 L120.01 246.87 L120.56 246.51 L121.12 246.76 L121.68 246.44 L122.23 246.69 L122.79 246.71 L123.34 246.47 L123.9 246.63 L124.46 246.31 L125.01 246.41 L125.57 246.65 L126.12 246.62 L126.68 246.36 L127.24 246.61 L127.79 246.29 L128.35 246.64 L128.9 246.58 L129.46 246.61 L130.02 246.29 L130.57 246.1 L131.13 246.08 L131.68 246.29 L132.24 246.49 L132.8 246.14 L133.35 245.84 L133.91 245.97 L134.46 245.94 L135.02 245.76 L135.58 245.03 L136.13 244.81 L136.69 244.13 L137.24 242.47 L137.8 239.75 L138.36 233 L138.91 223.04 L139.1 221.54 L139.47 225.02 L140.02 234.15 L140.58 239.99 L141.14 242.13 L141.69 243.82 L142.25 244.28 L142.8 245.19 L143.36 245.1 L143.92 245.32 L144.47 245.45 L145.03 245.99 L145.58 245.67 L146.14 245.77 L146.7 246.22 L147.25 245.86 L147.81 246.04 L148.36 245.89 L148.92 246.41 L149.48 246 L150.03 246.39 L150.59 246.15 L151.14 246.23 L151.7 246.15 Q153.02 248.5 151.7 250.83 L151.7 250.83 L151.14 250.58 L150.59 250.99 L150.03 250.97 L149.48 250.88 L148.92 250.51 L148.36 250.59 L147.81 250.66 L147.25 250.92 L146.7 250.57 L146.14 250.8 L145.58 250.53 L145.03 250.57 L144.47 250.67 L143.92 251.09 L143.36 250.75 L142.8 250.78 L142.25 250.98 L141.69 250.72 L141.14 250.82 L140.58 251.1 L140.02 250.58 L139.47 250.95 L139.1 250.64 L138.91 251.14 L138.36 250.85 L137.8 251.05 L137.24 250.88 L136.69 250.74 L136.13 250.76 L135.58 250.85 L135.02 250.69 L134.46 250.95 L133.91 250.86 L133.35 250.95 L132.8 250.78 L132.24 251.19 L131.68 250.76 L131.13 250.71 L130.57 251.05 L130.02 251.13 L129.46 250.89 L128.9 251.29 L128.35 251.21 L127.79 250.86 L127.24 250.89 L126.68 250.93 L126.12 251.29 L125.57 251.18 L125.01 250.95 L124.46 251.22 L123.9 251.24 L123.34 251.09 L122.79 251.02 L122.23 250.99 L121.68 251.12 L121.12 251.49 L120.56 251.32 L120.01 252.1 L119.45 252.38 L118.9 252.71 L118.34 253.51 L117.78 253.46 L117.23 254.44 L116.67 254.91 L116.12 256.69 L115.56 256.9 L115 258.33 L114.45 260.73 L113.89 261.48 L113.34 260.23 L112.78 260.75 L112.22 261.74 L111.8 262.43 L111.67 262.82 L111.11 261.21 L110.56 263.63 L110 259.7 L109.44 261.11 L108.89 258.64 L108.33 258.83 L107.78 256.12 L107.22 255.74 L106.66 255.29 L106.11 253.95 L105.55 254.14 L105 253.18 L104.44 252.37 L103.88 252.47 L103.33 252.33 L102.77 251.88 L102.22 251.87 L101.66 251.86 L101.1 251.28 L100.55 251.17 L99.99 251.25 L99.44 251.56 L98.88 251.48 L98.32 251.49 L97.77 251.39 L97.21 251.23 L96.66 251.31 L96.1 251.29 L95.54 251.63 L94.99 251.39 L94.43 251.32 L93.88 251.77 L93.32 251.32 L92.76 251.47 L92.21 251.69 L91.65 251.33 L91.1 251.66 L90.54 251.52 L89.98 251.73 L89.43 251.54 L88.87 251.71 L88.32 251.68 L87.76 251.5 L87.2 251.44 L86.65 251.4 L86.09 251.84 L85.54 251.43 L84.98 251.86 L84.42 251.68 L83.87 251.48 L83.31 251.65 L82.76 251.83 L82.2 251.68 L81.64 251.89 L81.09 251.55 L80.53 251.39 L79.98 251.94 L79.42 251.65 L78.86 251.57 L78.31 251.93 L77.75 251.96 L77.2 251.71 L76.64 251.54 L76.08 251.49 L75.9 251.81 L75.53 251.54 L74.97 252.05 L74.42 251.63 L73.86 251.92 L73.3 251.77 L72.75 251.87 L72.19 252.02 L71.64 251.75 L71.08 251.94 L70.52 251.79 L69.97 252.14 L69.41 251.85 L68.86 251.71 L68.3 251.73 L67.74 252.2 L67.19 252.19 L66.63 251.92 L66.08 252.22 L65.52 252.07 L64.96 252.25 L64.41 252.15 L63.85 251.8 L63.3 251.76 L62.74 251.81 L62.18 252.14 L61.63 251.92 L61.07 252.06 L60.52 252.32 L59.96 252.4 L59.4 252.36 L58.85 252.33 L58.29 252.42 L57.74 252.47 L57.18 252.61 L56.62 252.45 L56.07 252.93 L55.51 253 L54.96 253.73 L54.4 254.17 L53.84 255.08 L53.29 257.2 L52.73 260.66 L52.18 266.89 L51.62 271.84 L51.6 272.07 L51.06 264.43 L50.51 258.17 L49.95 255.17 L49.4 253.75 L48.84 253.33 L48.28 252.93 L47.73 252.48 L47.17 252.56 L46.62 252.31 L46.06 252.21 L45.5 252.52 L44.95 252.13 L44.39 252.05 L43.84 252.52 L43.28 252.03 L42.72 252.28 L42.17 252.21 L41.61 252.11 L41.06 252.11 L40.5 252.21 Q39.18 250 40.5 247.67Z" fill="none" stroke="#2a5e3a" stroke-width="1.6" stroke-linejoin="round"/>
<path d="M241.5 59.2 L241.69 59.24 L241.88 59.28 L242.06 59.31 L242.25 59.35 L242.44 59.39 L242.63 59.42 L242.81 59.46 L243 59.49 L243.19 59.53 L243.38 59.56 L243.56 59.59 L243.75 59.62 L243.94 59.65 L244.13 59.68 L244.32 59.71 L244.5 59.74 L244.69 59.76 L244.88 59.79 L245.07 59.82 L245.25 59.84 L245.44 59.86 L245.63 59.88 L245.82 59.9 L246.01 59.92 L246.19 59.94 L246.38 59.96 L246.57 59.97 L246.76 59.99 L246.94 60 L247.13 60.01 L247.32 60.02 L247.51 60.03 L247.69 60.04 L247.88 60.05 L248.07 60.05 L248.26 60.05 L248.45 60.05 L248.63 60.05 L248.82 60.05 L249.01 60.05 L249.2 60.04 L249.38 60.03 L249.57 60.02 L249.76 60.01 L249.95 59.99 L250.14 59.98 L250.32 59.96 L250.51 59.94 L250.7 59.92 L250.89 59.89 L251.07 59.86 L251.26 59.83 L251.45 59.8 L251.64 59.76 L251.82 59.72 L252.01 59.68 L252.2 59.64 L252.39 59.59 L252.58 59.54 L252.76 59.49 L252.95 59.43 L253.14 59.38 L253.33 59.31 L253.51 59.25 L253.7 59.18 L253.89 59.11 L254.08 59.03 L254.27 58.95 L254.45 58.87 L254.64 58.78 L254.83 58.69 L255.02 58.59 L255.2 58.49 L255.39 58.39 L255.58 58.28 L255.77 58.17 L255.96 58.05 L256.14 57.93 L256.33 57.81 L256.52 57.68 L256.71 57.54 L256.89 57.4 L257.08 57.26 L257.27 57.11 L257.46 56.95 L257.64 56.79 L257.83 56.63 L258.02 56.46 L258.21 56.28 L258.4 56.1 L258.58 55.92 L258.77 55.72 L258.96 55.53 L259.15 55.32 L259.33 55.12 L259.52 54.9 L259.71 54.68 L259.9 54.45 L260.08 54.22 L260.27 53.98 L260.46 53.74 L260.65 53.49 L260.84 53.23 L261.02 52.97 L261.21 52.7 L261.4 52.43 L261.59 52.15 L261.77 51.86 L261.96 51.57 L262.15 51.27 L262.34 50.97 L262.53 50.66 L262.71 50.34 L262.9 50.02 L263.09 49.69 L263.28 49.36 L263.46 49.02 L263.65 48.67 L263.84 48.32 L264.03 47.96 L264.22 47.6 L264.4 47.23 L264.59 46.86 L264.78 46.48 L264.97 46.1 L265.15 45.71 L265.34 45.32 L265.53 44.92 L265.72 44.52 L265.9 44.12 L266.09 43.71 L266.28 43.29 L266.47 42.88 L266.66 42.46 L266.84 42.03 L267.03 41.61 L267.22 41.18 L267.41 40.75 L267.59 40.31 L267.78 39.88 L267.97 39.44 L268.16 39 L268.35 38.56 L268.53 38.12 L268.72 37.67 L268.91 37.23 L269.1 36.79 L269.28 36.34 L269.47 35.9 L269.66 35.46 L269.85 35.02 L270.03 34.57 L270.22 34.14 L270.41 33.7 L270.6 33.26 L270.79 32.83 L270.97 32.4 L271.16 31.97 L271.35 31.55 L271.54 31.13 L271.72 30.71 L271.91 30.29 L272.1 29.88 L272.29 29.48 L272.48 29.08 L272.66 28.68 L272.85 28.29 L273.04 27.9 L273.23 27.52 L273.41 27.15 L273.6 26.78 L273.79 26.42 L273.98 26.06 L274.16 25.71 L274.35 25.36 L274.54 25.03 L274.73 24.7 L274.92 24.37 L275.1 24.05 L275.29 23.74 L275.48 23.44 L275.67 23.14 L275.85 22.86 L276.04 22.57 L276.23 22.3 L276.42 22.03 L276.61 21.77 L276.79 21.52 L276.98 21.27 L277.17 21.03 L277.36 20.8 L277.54 20.58 L277.73 20.36 L277.92 20.15 L278.11 19.95 L278.29 19.75 L278.48 19.57 L278.67 19.38 L278.86 19.21 L279.05 19.04 L279.23 18.88 L279.42 18.72 L279.61 18.57 L279.8 18.43 L279.98 18.29 L280.17 18.16 L280.36 18.04 L280.55 17.92 L280.74 17.81 L280.92 17.7 L281.11 17.6 L281.3 17.5 L281.49 17.41 L281.67 17.32 L281.86 17.24 L282.05 17.16 L282.24 17.09 L282.42 17.02 L282.61 16.96 L282.8 16.9 L282.8 16.9 L282.61 16.87 L282.42 16.84 L282.24 16.81 L282.05 16.77 L281.86 16.74 L281.67 16.71 L281.49 16.68 L281.3 16.64 L281.11 16.61 L280.92 16.58 L280.74 16.54 L280.55 16.51 L280.36 16.47 L280.17 16.44 L279.98 16.41 L279.8 16.37 L279.61 16.34 L279.42 16.31 L279.23 16.27 L279.05 16.24 L278.86 16.21 L278.67 16.18 L278.48 16.15 L278.29 16.12 L278.11 16.09 L277.92 16.06 L277.73 16.04 L277.54 16.01 L277.36 15.99 L277.17 15.97 L276.98 15.95 L276.79 15.93 L276.61 15.91 L276.42 15.9 L276.23 15.89 L276.04 15.88 L275.85 15.88 L275.67 15.88 L275.48 15.88 L275.29 15.89 L275.1 15.9 L274.92 15.92 L274.73 15.94 L274.54 15.97 L274.35 16.01 L274.16 16.05 L273.98 16.09 L273.79 16.15 L273.6 16.21 L273.41 16.28 L273.23 16.35 L273.04 16.44 L272.85 16.53 L272.66 16.63 L272.48 16.74 L272.29 16.87 L272.1 17 L271.91 17.14 L271.72 17.29 L271.54 17.45 L271.35 17.63 L271.16 17.81 L270.97 18.01 L270.79 18.22 L270.6 18.43 L270.41 18.66 L270.22 18.91 L270.03 19.16 L269.85 19.42 L269.66 19.69 L269.47 19.98 L269.28 20.28 L269.1 20.58 L268.91 20.9 L268.72 21.22 L268.53 21.56 L268.35 21.9 L268.16 22.25 L267.97 22.61 L267.78 22.98 L267.59 23.36 L267.41 23.74 L267.22 24.13 L267.03 24.52 L266.84 24.92 L266.66 25.33 L266.47 25.74 L266.28 26.15 L266.09 26.57 L265.9 26.99 L265.72 27.41 L265.53 27.84 L265.34 28.26 L265.15 28.69 L264.97 29.13 L264.78 29.56 L264.59 29.99 L264.4 30.43 L264.22 30.86 L264.03 31.29 L263.84 31.72 L263.65 32.16 L263.46 32.59 L263.28 33.02 L263.09 33.44 L262.9 33.87 L262.71 34.3 L262.53 34.72 L262.34 35.14 L262.15 35.55 L261.96 35.97 L261.77 36.38 L261.59 36.79 L261.4 37.2 L261.21 37.6 L261.02 38 L260.84 38.4 L260.65 38.79 L260.46 39.18 L260.27 39.56 L260.08 39.94 L259.9 40.32 L259.71 40.7 L259.52 41.07 L259.33 41.43 L259.15 41.79 L258.96 42.15 L258.77 42.5 L258.58 42.85 L258.4 43.2 L258.21 43.54 L258.02 43.88 L257.83 44.21 L257.64 44.54 L257.46 44.86 L257.27 45.18 L257.08 45.5 L256.89 45.81 L256.71 46.11 L256.52 46.41 L256.33 46.71 L256.14 47.01 L255.96 47.3 L255.77 47.58 L255.58 47.86 L255.39 48.14 L255.2 48.41 L255.02 48.68 L254.83 48.94 L254.64 49.2 L254.45 49.46 L254.27 49.71 L254.08 49.95 L253.89 50.2 L253.7 50.44 L253.51 50.67 L253.33 50.9 L253.14 51.13 L252.95 51.35 L252.76 51.57 L252.58 51.79 L252.39 52 L252.2 52.21 L252.01 52.41 L251.82 52.61 L251.64 52.81 L251.45 53 L251.26 53.19 L251.07 53.38 L250.89 53.56 L250.7 53.74 L250.51 53.91 L250.32 54.09 L250.14 54.26 L249.95 54.42 L249.76 54.58 L249.57 54.74 L249.38 54.9 L249.2 55.05 L249.01 55.2 L248.82 55.35 L248.63 55.5 L248.45 55.64 L248.26 55.77 L248.07 55.91 L247.88 56.04 L247.69 56.17 L247.51 56.3 L247.32 56.43 L247.13 56.55 L246.94 56.67 L246.76 56.78 L246.57 56.9 L246.38 57.01 L246.19 57.12 L246.01 57.23 L245.82 57.33 L245.63 57.44 L245.44 57.54 L245.25 57.64 L245.07 57.73 L244.88 57.83 L244.69 57.92 L244.5 58.01 L244.32 58.1 L244.13 58.18 L243.94 58.27 L243.75 58.35 L243.56 58.43 L243.38 58.51 L243.19 58.58 L243 58.66 L242.81 58.73 L242.63 58.8 L242.44 58.87 L242.25 58.94 L242.06 59.01 L241.88 59.07 L241.69 59.14 L241.5 59.2Z" fill="none" stroke="#d01840" stroke-width="1.5" stroke-linejoin="round"/>
<path d="M240.7 80.3 L240.89 80.34 L241.09 80.38 L241.28 80.41 L241.48 80.45 L241.67 80.48 L241.86 80.52 L242.06 80.55 L242.25 80.59 L242.45 80.62 L242.64 80.65 L242.83 80.68 L243.03 80.71 L243.22 80.74 L243.42 80.77 L243.61 80.8 L243.81 80.83 L244 80.85 L244.19 80.88 L244.39 80.9 L244.58 80.92 L244.78 80.95 L244.97 80.97 L245.16 80.99 L245.36 81.01 L245.55 81.02 L245.75 81.04 L245.94 81.06 L246.13 81.07 L246.33 81.08 L246.52 81.09 L246.72 81.1 L246.91 81.11 L247.1 81.12 L247.3 81.13 L247.49 81.13 L247.69 81.13 L247.88 81.13 L248.08 81.13 L248.27 81.13 L248.46 81.13 L248.66 81.12 L248.85 81.11 L249.05 81.1 L249.24 81.09 L249.43 81.08 L249.63 81.06 L249.82 81.04 L250.02 81.02 L250.21 81 L250.4 80.97 L250.6 80.95 L250.79 80.92 L250.99 80.88 L251.18 80.85 L251.38 80.81 L251.57 80.77 L251.76 80.73 L251.96 80.68 L252.15 80.63 L252.35 80.58 L252.54 80.53 L252.73 80.47 L252.93 80.41 L253.12 80.35 L253.32 80.28 L253.51 80.21 L253.7 80.13 L253.9 80.06 L254.09 79.97 L254.29 79.89 L254.48 79.8 L254.67 79.71 L254.87 79.61 L255.06 79.51 L255.26 79.4 L255.45 79.29 L255.64 79.18 L255.84 79.06 L256.03 78.94 L256.23 78.81 L256.42 78.68 L256.62 78.54 L256.81 78.4 L257 78.26 L257.2 78.11 L257.39 77.95 L257.59 77.79 L257.78 77.62 L257.97 77.45 L258.17 77.28 L258.36 77.09 L258.56 76.91 L258.75 76.71 L258.94 76.52 L259.14 76.31 L259.33 76.1 L259.53 75.89 L259.72 75.67 L259.91 75.44 L260.11 75.21 L260.3 74.97 L260.5 74.73 L260.69 74.48 L260.89 74.22 L261.08 73.96 L261.27 73.69 L261.47 73.42 L261.66 73.14 L261.86 72.85 L262.05 72.56 L262.24 72.26 L262.44 71.96 L262.63 71.65 L262.83 71.34 L263.02 71.02 L263.21 70.69 L263.41 70.36 L263.6 70.02 L263.8 69.68 L263.99 69.33 L264.19 68.97 L264.38 68.62 L264.57 68.25 L264.77 67.88 L264.96 67.51 L265.16 67.13 L265.35 66.75 L265.54 66.36 L265.74 65.97 L265.93 65.57 L266.13 65.17 L266.32 64.77 L266.51 64.36 L266.71 63.95 L266.9 63.54 L267.1 63.12 L267.29 62.7 L267.48 62.28 L267.68 61.86 L267.87 61.43 L268.07 61.01 L268.26 60.58 L268.45 60.15 L268.65 59.71 L268.84 59.28 L269.04 58.85 L269.23 58.42 L269.43 57.98 L269.62 57.55 L269.81 57.12 L270.01 56.69 L270.2 56.26 L270.4 55.83 L270.59 55.4 L270.78 54.98 L270.98 54.55 L271.17 54.13 L271.37 53.72 L271.56 53.3 L271.75 52.89 L271.95 52.48 L272.14 52.08 L272.34 51.68 L272.53 51.28 L272.72 50.89 L272.92 50.5 L273.11 50.12 L273.31 49.74 L273.5 49.37 L273.7 49.01 L273.89 48.65 L274.08 48.29 L274.28 47.94 L274.47 47.6 L274.67 47.26 L274.86 46.94 L275.05 46.61 L275.25 46.3 L275.44 45.99 L275.64 45.68 L275.83 45.39 L276.02 45.1 L276.22 44.81 L276.41 44.54 L276.61 44.27 L276.8 44.01 L277 43.76 L277.19 43.51 L277.38 43.27 L277.58 43.04 L277.77 42.81 L277.97 42.59 L278.16 42.38 L278.35 42.18 L278.55 41.98 L278.74 41.79 L278.94 41.6 L279.13 41.42 L279.32 41.25 L279.52 41.09 L279.71 40.93 L279.91 40.78 L280.1 40.63 L280.29 40.49 L280.49 40.36 L280.68 40.23 L280.88 40.11 L281.07 39.99 L281.26 39.88 L281.46 39.78 L281.65 39.68 L281.85 39.58 L282.04 39.5 L282.24 39.41 L282.43 39.33 L282.62 39.26 L282.82 39.19 L283.01 39.12 L283.21 39.06 L283.4 39 L283.4 39 L283.21 38.97 L283.01 38.94 L282.82 38.91 L282.62 38.88 L282.43 38.85 L282.24 38.81 L282.04 38.78 L281.85 38.75 L281.65 38.72 L281.46 38.68 L281.26 38.65 L281.07 38.62 L280.88 38.58 L280.68 38.55 L280.49 38.52 L280.29 38.49 L280.1 38.45 L279.91 38.42 L279.71 38.39 L279.52 38.36 L279.32 38.33 L279.13 38.3 L278.94 38.27 L278.74 38.24 L278.55 38.21 L278.35 38.18 L278.16 38.16 L277.97 38.13 L277.77 38.11 L277.58 38.09 L277.38 38.07 L277.19 38.05 L277 38.04 L276.8 38.02 L276.61 38.01 L276.41 38.01 L276.22 38 L276.02 38 L275.83 38.01 L275.64 38.02 L275.44 38.03 L275.25 38.04 L275.05 38.07 L274.86 38.09 L274.67 38.13 L274.47 38.17 L274.28 38.21 L274.08 38.26 L273.89 38.32 L273.7 38.39 L273.5 38.46 L273.31 38.55 L273.11 38.64 L272.92 38.74 L272.72 38.85 L272.53 38.97 L272.34 39.09 L272.14 39.23 L271.95 39.38 L271.75 39.54 L271.56 39.71 L271.37 39.89 L271.17 40.08 L270.98 40.28 L270.78 40.5 L270.59 40.72 L270.4 40.96 L270.2 41.2 L270.01 41.46 L269.81 41.73 L269.62 42.01 L269.43 42.3 L269.23 42.59 L269.04 42.9 L268.84 43.22 L268.65 43.55 L268.45 43.88 L268.26 44.23 L268.07 44.58 L267.87 44.94 L267.68 45.3 L267.48 45.68 L267.29 46.06 L267.1 46.44 L266.9 46.83 L266.71 47.23 L266.51 47.63 L266.32 48.03 L266.13 48.44 L265.93 48.85 L265.74 49.26 L265.54 49.68 L265.35 50.1 L265.16 50.52 L264.96 50.94 L264.77 51.36 L264.57 51.78 L264.38 52.21 L264.19 52.63 L263.99 53.05 L263.8 53.47 L263.6 53.9 L263.41 54.32 L263.21 54.74 L263.02 55.15 L262.83 55.57 L262.63 55.98 L262.44 56.4 L262.24 56.81 L262.05 57.21 L261.86 57.62 L261.66 58.02 L261.47 58.42 L261.27 58.82 L261.08 59.21 L260.89 59.6 L260.69 59.99 L260.5 60.37 L260.3 60.75 L260.11 61.13 L259.91 61.5 L259.72 61.87 L259.53 62.23 L259.33 62.59 L259.14 62.95 L258.94 63.3 L258.75 63.65 L258.56 64 L258.36 64.34 L258.17 64.68 L257.97 65.01 L257.78 65.34 L257.59 65.66 L257.39 65.98 L257.2 66.3 L257 66.61 L256.81 66.92 L256.62 67.22 L256.42 67.52 L256.23 67.82 L256.03 68.11 L255.84 68.39 L255.64 68.68 L255.45 68.96 L255.26 69.23 L255.06 69.5 L254.87 69.76 L254.67 70.03 L254.48 70.28 L254.29 70.54 L254.09 70.79 L253.9 71.03 L253.7 71.27 L253.51 71.51 L253.32 71.74 L253.12 71.97 L252.93 72.2 L252.73 72.42 L252.54 72.64 L252.35 72.85 L252.15 73.06 L251.96 73.27 L251.76 73.47 L251.57 73.67 L251.38 73.87 L251.18 74.06 L250.99 74.25 L250.79 74.43 L250.6 74.61 L250.4 74.79 L250.21 74.97 L250.02 75.14 L249.82 75.31 L249.63 75.47 L249.43 75.63 L249.24 75.79 L249.05 75.95 L248.85 76.1 L248.66 76.25 L248.46 76.4 L248.27 76.54 L248.08 76.68 L247.88 76.82 L247.69 76.96 L247.49 77.09 L247.3 77.22 L247.1 77.34 L246.91 77.47 L246.72 77.59 L246.52 77.71 L246.33 77.83 L246.13 77.94 L245.94 78.05 L245.75 78.16 L245.55 78.27 L245.36 78.37 L245.16 78.48 L244.97 78.58 L244.78 78.68 L244.58 78.77 L244.39 78.87 L244.19 78.96 L244 79.05 L243.81 79.14 L243.61 79.22 L243.42 79.31 L243.22 79.39 L243.03 79.47 L242.83 79.55 L242.64 79.62 L242.45 79.7 L242.25 79.77 L242.06 79.84 L241.86 79.91 L241.67 79.98 L241.48 80.05 L241.28 80.11 L241.09 80.18 L240.89 80.24 L240.7 80.3Z" fill="none" stroke="#d41e3c" stroke-width="1.5" stroke-linejoin="round"/>
<path d="M236.3 102.6 L236.53 102.63 L236.77 102.66 L237 102.69 L237.24 102.71 L237.47 102.74 L237.71 102.77 L237.94 102.79 L238.18 102.82 L238.41 102.84 L238.65 102.87 L238.88 102.89 L239.11 102.91 L239.35 102.94 L239.58 102.96 L239.82 102.98 L240.05 103 L240.29 103.02 L240.52 103.03 L240.76 103.05 L240.99 103.06 L241.23 103.08 L241.46 103.09 L241.69 103.11 L241.93 103.12 L242.16 103.13 L242.4 103.14 L242.63 103.14 L242.87 103.15 L243.1 103.15 L243.34 103.16 L243.57 103.16 L243.81 103.16 L244.04 103.16 L244.27 103.16 L244.51 103.15 L244.74 103.15 L244.98 103.14 L245.21 103.13 L245.45 103.12 L245.68 103.11 L245.92 103.09 L246.15 103.07 L246.39 103.06 L246.62 103.03 L246.85 103.01 L247.09 102.98 L247.32 102.96 L247.56 102.93 L247.79 102.89 L248.03 102.86 L248.26 102.82 L248.5 102.78 L248.73 102.74 L248.97 102.69 L249.2 102.64 L249.43 102.59 L249.67 102.53 L249.9 102.48 L250.14 102.42 L250.37 102.35 L250.61 102.28 L250.84 102.21 L251.08 102.14 L251.31 102.06 L251.55 101.98 L251.78 101.89 L252.01 101.8 L252.25 101.71 L252.48 101.61 L252.72 101.51 L252.95 101.41 L253.19 101.3 L253.42 101.18 L253.66 101.06 L253.89 100.94 L254.13 100.82 L254.36 100.68 L254.59 100.55 L254.83 100.41 L255.06 100.26 L255.3 100.11 L255.53 99.96 L255.77 99.8 L256 99.63 L256.24 99.46 L256.47 99.29 L256.71 99.1 L256.94 98.92 L257.17 98.73 L257.41 98.53 L257.64 98.33 L257.88 98.12 L258.11 97.91 L258.35 97.69 L258.58 97.47 L258.82 97.24 L259.05 97.01 L259.29 96.77 L259.52 96.52 L259.75 96.27 L259.99 96.02 L260.22 95.76 L260.46 95.49 L260.69 95.22 L260.93 94.94 L261.16 94.66 L261.4 94.37 L261.63 94.07 L261.87 93.77 L262.1 93.47 L262.33 93.16 L262.57 92.85 L262.8 92.53 L263.04 92.2 L263.27 91.88 L263.51 91.54 L263.74 91.2 L263.98 90.86 L264.21 90.52 L264.45 90.16 L264.68 89.81 L264.91 89.45 L265.15 89.09 L265.38 88.72 L265.62 88.35 L265.85 87.98 L266.09 87.6 L266.32 87.22 L266.56 86.84 L266.79 86.45 L267.03 86.06 L267.26 85.67 L267.49 85.28 L267.73 84.89 L267.96 84.49 L268.2 84.09 L268.43 83.69 L268.67 83.29 L268.9 82.88 L269.14 82.48 L269.37 82.08 L269.61 81.67 L269.84 81.27 L270.07 80.86 L270.31 80.45 L270.54 80.05 L270.78 79.64 L271.01 79.24 L271.25 78.83 L271.48 78.43 L271.72 78.03 L271.95 77.63 L272.19 77.23 L272.42 76.83 L272.65 76.43 L272.89 76.04 L273.12 75.65 L273.36 75.25 L273.59 74.87 L273.83 74.48 L274.06 74.1 L274.3 73.72 L274.53 73.34 L274.77 72.97 L275 72.59 L275.23 72.23 L275.47 71.86 L275.7 71.5 L275.94 71.14 L276.17 70.79 L276.41 70.44 L276.64 70.09 L276.88 69.75 L277.11 69.41 L277.35 69.08 L277.58 68.75 L277.81 68.42 L278.05 68.1 L278.28 67.78 L278.52 67.47 L278.75 67.16 L278.99 66.85 L279.22 66.55 L279.46 66.26 L279.69 65.97 L279.93 65.68 L280.16 65.4 L280.39 65.12 L280.63 64.85 L280.86 64.58 L281.1 64.32 L281.33 64.06 L281.57 63.81 L281.8 63.56 L282.04 63.31 L282.27 63.07 L282.51 62.84 L282.74 62.61 L282.97 62.38 L283.21 62.16 L283.44 61.94 L283.68 61.73 L283.91 61.52 L284.15 61.31 L284.38 61.11 L284.62 60.92 L284.85 60.72 L285.09 60.54 L285.32 60.35 L285.55 60.17 L285.79 60 L286.02 59.83 L286.26 59.66 L286.49 59.5 L286.73 59.34 L286.96 59.18 L287.2 59.03 L287.43 58.88 L287.67 58.74 L287.9 58.6 L287.9 58.6 L287.67 58.64 L287.43 58.69 L287.2 58.73 L286.96 58.78 L286.73 58.82 L286.49 58.87 L286.26 58.91 L286.02 58.96 L285.79 59 L285.55 59.05 L285.32 59.1 L285.09 59.14 L284.85 59.19 L284.62 59.24 L284.38 59.29 L284.15 59.34 L283.91 59.39 L283.68 59.44 L283.44 59.49 L283.21 59.54 L282.97 59.6 L282.74 59.65 L282.51 59.7 L282.27 59.76 L282.04 59.82 L281.8 59.88 L281.57 59.93 L281.33 60 L281.1 60.06 L280.86 60.12 L280.63 60.19 L280.39 60.25 L280.16 60.32 L279.93 60.39 L279.69 60.46 L279.46 60.54 L279.22 60.61 L278.99 60.69 L278.75 60.78 L278.52 60.86 L278.28 60.95 L278.05 61.04 L277.81 61.13 L277.58 61.23 L277.35 61.33 L277.11 61.43 L276.88 61.54 L276.64 61.65 L276.41 61.77 L276.17 61.89 L275.94 62.01 L275.7 62.14 L275.47 62.28 L275.23 62.42 L275 62.57 L274.77 62.72 L274.53 62.88 L274.3 63.04 L274.06 63.21 L273.83 63.39 L273.59 63.57 L273.36 63.76 L273.12 63.96 L272.89 64.17 L272.65 64.38 L272.42 64.6 L272.19 64.83 L271.95 65.06 L271.72 65.3 L271.48 65.56 L271.25 65.81 L271.01 66.08 L270.78 66.36 L270.54 66.64 L270.31 66.93 L270.07 67.23 L269.84 67.53 L269.61 67.85 L269.37 68.17 L269.14 68.5 L268.9 68.83 L268.67 69.18 L268.43 69.53 L268.2 69.88 L267.96 70.25 L267.73 70.61 L267.49 70.99 L267.26 71.37 L267.03 71.75 L266.79 72.14 L266.56 72.54 L266.32 72.94 L266.09 73.34 L265.85 73.74 L265.62 74.15 L265.38 74.57 L265.15 74.98 L264.91 75.4 L264.68 75.82 L264.45 76.24 L264.21 76.66 L263.98 77.08 L263.74 77.51 L263.51 77.93 L263.27 78.35 L263.04 78.78 L262.8 79.2 L262.57 79.62 L262.33 80.04 L262.1 80.46 L261.87 80.88 L261.63 81.29 L261.4 81.71 L261.16 82.12 L260.93 82.53 L260.69 82.93 L260.46 83.33 L260.22 83.73 L259.99 84.13 L259.75 84.52 L259.52 84.91 L259.29 85.29 L259.05 85.67 L258.82 86.05 L258.58 86.42 L258.35 86.79 L258.11 87.15 L257.88 87.5 L257.64 87.86 L257.41 88.2 L257.17 88.55 L256.94 88.88 L256.71 89.22 L256.47 89.54 L256.24 89.87 L256 90.18 L255.77 90.49 L255.53 90.8 L255.3 91.1 L255.06 91.39 L254.83 91.68 L254.59 91.97 L254.36 92.25 L254.13 92.52 L253.89 92.79 L253.66 93.05 L253.42 93.31 L253.19 93.56 L252.95 93.81 L252.72 94.05 L252.48 94.29 L252.25 94.52 L252.01 94.75 L251.78 94.97 L251.55 95.19 L251.31 95.4 L251.08 95.61 L250.84 95.81 L250.61 96.01 L250.37 96.2 L250.14 96.39 L249.9 96.58 L249.67 96.76 L249.43 96.93 L249.2 97.11 L248.97 97.27 L248.73 97.44 L248.5 97.6 L248.26 97.76 L248.03 97.91 L247.79 98.06 L247.56 98.21 L247.32 98.35 L247.09 98.49 L246.85 98.63 L246.62 98.76 L246.39 98.89 L246.15 99.02 L245.92 99.14 L245.68 99.26 L245.45 99.38 L245.21 99.5 L244.98 99.61 L244.74 99.73 L244.51 99.83 L244.27 99.94 L244.04 100.05 L243.81 100.15 L243.57 100.25 L243.34 100.35 L243.1 100.44 L242.87 100.54 L242.63 100.63 L242.4 100.72 L242.16 100.81 L241.93 100.89 L241.69 100.98 L241.46 101.06 L241.23 101.15 L240.99 101.23 L240.76 101.31 L240.52 101.38 L240.29 101.46 L240.05 101.54 L239.82 101.61 L239.58 101.68 L239.35 101.76 L239.11 101.83 L238.88 101.9 L238.65 101.96 L238.41 102.03 L238.18 102.1 L237.94 102.16 L237.71 102.23 L237.47 102.29 L237.24 102.36 L237 102.42 L236.77 102.48 L236.53 102.54 L236.3 102.6Z" fill="none" stroke="#e0483c" stroke-width="1.5" stroke-linejoin="round"/>
<path d="M236.3 123.1 L236.54 123.13 L236.77 123.16 L237.01 123.18 L237.24 123.21 L237.48 123.24 L237.71 123.26 L237.95 123.29 L238.18 123.32 L238.42 123.34 L238.65 123.36 L238.89 123.39 L239.12 123.41 L239.36 123.43 L239.59 123.45 L239.83 123.47 L240.06 123.49 L240.3 123.51 L240.53 123.52 L240.77 123.54 L241 123.56 L241.24 123.57 L241.47 123.58 L241.71 123.59 L241.94 123.61 L242.18 123.62 L242.41 123.62 L242.65 123.63 L242.88 123.64 L243.12 123.64 L243.35 123.65 L243.59 123.65 L243.82 123.65 L244.06 123.65 L244.29 123.65 L244.53 123.64 L244.76 123.64 L245 123.63 L245.23 123.62 L245.47 123.61 L245.7 123.6 L245.94 123.58 L246.17 123.56 L246.41 123.55 L246.64 123.53 L246.88 123.5 L247.11 123.48 L247.34 123.45 L247.58 123.42 L247.81 123.39 L248.05 123.35 L248.28 123.32 L248.52 123.28 L248.75 123.23 L248.99 123.19 L249.23 123.14 L249.46 123.09 L249.69 123.04 L249.93 122.98 L250.17 122.92 L250.4 122.86 L250.64 122.79 L250.87 122.72 L251.11 122.65 L251.34 122.57 L251.58 122.49 L251.81 122.41 L252.05 122.32 L252.28 122.23 L252.52 122.13 L252.75 122.03 L252.99 121.93 L253.22 121.82 L253.46 121.71 L253.69 121.6 L253.93 121.48 L254.16 121.35 L254.4 121.22 L254.63 121.09 L254.87 120.95 L255.1 120.81 L255.34 120.66 L255.57 120.51 L255.81 120.35 L256.04 120.19 L256.27 120.02 L256.51 119.85 L256.75 119.68 L256.98 119.49 L257.22 119.31 L257.45 119.12 L257.69 118.92 L257.92 118.72 L258.16 118.51 L258.39 118.29 L258.62 118.08 L258.86 117.85 L259.1 117.62 L259.33 117.39 L259.56 117.15 L259.8 116.9 L260.04 116.65 L260.27 116.4 L260.5 116.13 L260.74 115.87 L260.98 115.59 L261.21 115.32 L261.44 115.04 L261.68 114.75 L261.92 114.45 L262.15 114.16 L262.38 113.85 L262.62 113.55 L262.86 113.23 L263.09 112.92 L263.32 112.59 L263.56 112.27 L263.8 111.94 L264.03 111.6 L264.26 111.26 L264.5 110.92 L264.74 110.57 L264.97 110.22 L265.2 109.86 L265.44 109.5 L265.68 109.14 L265.91 108.78 L266.14 108.41 L266.38 108.04 L266.62 107.66 L266.85 107.28 L267.09 106.9 L267.32 106.52 L267.56 106.13 L267.79 105.75 L268.02 105.36 L268.26 104.97 L268.5 104.58 L268.73 104.18 L268.97 103.79 L269.2 103.39 L269.44 103 L269.67 102.6 L269.91 102.2 L270.14 101.8 L270.38 101.41 L270.61 101.01 L270.85 100.61 L271.08 100.22 L271.31 99.82 L271.55 99.42 L271.79 99.03 L272.02 98.64 L272.25 98.25 L272.49 97.86 L272.73 97.47 L272.96 97.08 L273.19 96.7 L273.43 96.31 L273.67 95.93 L273.9 95.56 L274.13 95.18 L274.37 94.81 L274.61 94.44 L274.84 94.07 L275.07 93.71 L275.31 93.35 L275.55 92.99 L275.78 92.64 L276.01 92.29 L276.25 91.94 L276.49 91.6 L276.72 91.26 L276.95 90.92 L277.19 90.59 L277.43 90.26 L277.66 89.94 L277.89 89.62 L278.13 89.3 L278.37 88.99 L278.6 88.69 L278.83 88.38 L279.07 88.09 L279.31 87.79 L279.54 87.5 L279.77 87.22 L280.01 86.94 L280.25 86.66 L280.48 86.39 L280.71 86.12 L280.95 85.86 L281.19 85.6 L281.42 85.35 L281.66 85.1 L281.89 84.86 L282.12 84.62 L282.36 84.38 L282.6 84.15 L282.83 83.92 L283.06 83.7 L283.3 83.48 L283.53 83.27 L283.77 83.06 L284 82.86 L284.24 82.66 L284.48 82.46 L284.71 82.27 L284.94 82.08 L285.18 81.9 L285.42 81.72 L285.65 81.54 L285.88 81.37 L286.12 81.2 L286.36 81.04 L286.59 80.88 L286.82 80.72 L287.06 80.57 L287.3 80.42 L287.53 80.28 L287.76 80.14 L288 80 L288 80 L287.76 80.04 L287.53 80.09 L287.3 80.13 L287.06 80.17 L286.82 80.22 L286.59 80.26 L286.36 80.31 L286.12 80.35 L285.88 80.4 L285.65 80.44 L285.42 80.49 L285.18 80.53 L284.94 80.58 L284.71 80.63 L284.48 80.68 L284.24 80.72 L284 80.77 L283.77 80.82 L283.53 80.87 L283.3 80.92 L283.06 80.98 L282.83 81.03 L282.6 81.08 L282.36 81.14 L282.12 81.19 L281.89 81.25 L281.66 81.31 L281.42 81.37 L281.19 81.43 L280.95 81.49 L280.71 81.55 L280.48 81.62 L280.25 81.69 L280.01 81.75 L279.77 81.83 L279.54 81.9 L279.31 81.97 L279.07 82.05 L278.83 82.13 L278.6 82.21 L278.37 82.3 L278.13 82.39 L277.89 82.48 L277.66 82.57 L277.43 82.67 L277.19 82.77 L276.95 82.88 L276.72 82.99 L276.49 83.1 L276.25 83.22 L276.01 83.34 L275.78 83.47 L275.55 83.6 L275.31 83.74 L275.07 83.89 L274.84 84.03 L274.61 84.19 L274.37 84.35 L274.13 84.52 L273.9 84.69 L273.67 84.87 L273.43 85.06 L273.19 85.25 L272.96 85.45 L272.73 85.66 L272.49 85.88 L272.25 86.1 L272.02 86.33 L271.79 86.57 L271.55 86.81 L271.31 87.07 L271.08 87.33 L270.85 87.6 L270.61 87.87 L270.38 88.16 L270.14 88.45 L269.91 88.75 L269.67 89.06 L269.44 89.37 L269.2 89.7 L268.97 90.02 L268.73 90.36 L268.5 90.7 L268.26 91.05 L268.02 91.41 L267.79 91.77 L267.56 92.13 L267.32 92.51 L267.09 92.88 L266.85 93.27 L266.62 93.65 L266.38 94.04 L266.14 94.44 L265.91 94.83 L265.68 95.24 L265.44 95.64 L265.2 96.05 L264.97 96.45 L264.74 96.86 L264.5 97.28 L264.26 97.69 L264.03 98.1 L263.8 98.52 L263.56 98.93 L263.32 99.35 L263.09 99.76 L262.86 100.18 L262.62 100.59 L262.38 101 L262.15 101.41 L261.92 101.82 L261.68 102.23 L261.44 102.63 L261.21 103.04 L260.98 103.44 L260.74 103.83 L260.5 104.23 L260.27 104.62 L260.04 105.01 L259.8 105.39 L259.56 105.77 L259.33 106.15 L259.1 106.52 L258.86 106.89 L258.62 107.25 L258.39 107.61 L258.16 107.96 L257.92 108.31 L257.69 108.66 L257.45 109 L257.22 109.33 L256.98 109.66 L256.75 109.99 L256.51 110.31 L256.27 110.63 L256.04 110.94 L255.81 111.24 L255.57 111.54 L255.34 111.83 L255.1 112.12 L254.87 112.41 L254.63 112.69 L254.4 112.96 L254.16 113.23 L253.93 113.49 L253.69 113.75 L253.46 114 L253.22 114.25 L252.99 114.49 L252.75 114.73 L252.52 114.96 L252.28 115.18 L252.05 115.41 L251.81 115.62 L251.58 115.84 L251.34 116.05 L251.11 116.25 L250.87 116.45 L250.64 116.64 L250.4 116.83 L250.17 117.02 L249.93 117.2 L249.69 117.38 L249.46 117.55 L249.23 117.72 L248.99 117.88 L248.75 118.04 L248.52 118.2 L248.28 118.36 L248.05 118.51 L247.81 118.65 L247.58 118.8 L247.34 118.94 L247.11 119.07 L246.88 119.21 L246.64 119.34 L246.41 119.47 L246.17 119.59 L245.94 119.71 L245.7 119.83 L245.47 119.95 L245.23 120.06 L245 120.18 L244.76 120.28 L244.53 120.39 L244.29 120.5 L244.06 120.6 L243.82 120.7 L243.59 120.8 L243.35 120.89 L243.12 120.99 L242.88 121.08 L242.65 121.17 L242.41 121.26 L242.18 121.34 L241.94 121.43 L241.71 121.51 L241.47 121.6 L241.24 121.68 L241 121.75 L240.77 121.83 L240.53 121.91 L240.3 121.98 L240.06 122.06 L239.83 122.13 L239.59 122.2 L239.36 122.27 L239.12 122.34 L238.89 122.41 L238.65 122.48 L238.42 122.54 L238.18 122.61 L237.95 122.67 L237.71 122.74 L237.48 122.8 L237.24 122.86 L237.01 122.92 L236.77 122.98 L236.54 123.04 L236.3 123.1Z" fill="none" stroke="#e87a30" stroke-width="1.5" stroke-linejoin="round"/>
<path d="M236 141.8 L236.23 141.83 L236.47 141.85 L236.7 141.88 L236.94 141.9 L237.17 141.92 L237.41 141.95 L237.64 141.97 L237.88 141.99 L238.11 142.01 L238.35 142.03 L238.58 142.05 L238.81 142.07 L239.05 142.09 L239.28 142.11 L239.52 142.13 L239.75 142.14 L239.99 142.16 L240.22 142.17 L240.46 142.19 L240.69 142.2 L240.93 142.21 L241.16 142.22 L241.39 142.23 L241.63 142.24 L241.86 142.25 L242.1 142.25 L242.33 142.26 L242.57 142.26 L242.8 142.26 L243.04 142.26 L243.27 142.26 L243.51 142.25 L243.74 142.25 L243.97 142.24 L244.21 142.23 L244.44 142.22 L244.68 142.21 L244.91 142.2 L245.15 142.18 L245.38 142.16 L245.62 142.14 L245.85 142.12 L246.09 142.09 L246.32 142.06 L246.55 142.03 L246.79 142 L247.02 141.96 L247.26 141.92 L247.49 141.88 L247.73 141.83 L247.96 141.78 L248.2 141.73 L248.43 141.68 L248.67 141.62 L248.9 141.55 L249.13 141.49 L249.37 141.42 L249.6 141.35 L249.84 141.27 L250.07 141.19 L250.31 141.1 L250.54 141.01 L250.78 140.92 L251.01 140.82 L251.25 140.72 L251.48 140.61 L251.71 140.5 L251.95 140.38 L252.18 140.26 L252.42 140.13 L252.65 140 L252.89 139.86 L253.12 139.72 L253.36 139.58 L253.59 139.42 L253.83 139.27 L254.06 139.1 L254.29 138.93 L254.53 138.76 L254.76 138.58 L255 138.39 L255.23 138.2 L255.47 138.01 L255.7 137.8 L255.94 137.6 L256.17 137.38 L256.41 137.16 L256.64 136.94 L256.87 136.71 L257.11 136.47 L257.34 136.23 L257.58 135.98 L257.81 135.72 L258.05 135.46 L258.28 135.2 L258.52 134.93 L258.75 134.65 L258.99 134.37 L259.22 134.08 L259.45 133.79 L259.69 133.49 L259.92 133.19 L260.16 132.89 L260.39 132.57 L260.63 132.26 L260.86 131.94 L261.1 131.61 L261.33 131.28 L261.57 130.95 L261.8 130.61 L262.03 130.27 L262.27 129.93 L262.5 129.58 L262.74 129.23 L262.97 128.88 L263.21 128.53 L263.44 128.17 L263.68 127.81 L263.91 127.44 L264.15 127.08 L264.38 126.71 L264.61 126.35 L264.85 125.98 L265.08 125.61 L265.32 125.24 L265.55 124.87 L265.79 124.5 L266.02 124.12 L266.26 123.75 L266.49 123.38 L266.73 123.01 L266.96 122.64 L267.19 122.27 L267.43 121.9 L267.66 121.54 L267.9 121.17 L268.13 120.81 L268.37 120.45 L268.6 120.09 L268.84 119.73 L269.07 119.38 L269.31 119.02 L269.54 118.67 L269.77 118.33 L270.01 117.98 L270.24 117.64 L270.48 117.3 L270.71 116.97 L270.95 116.64 L271.18 116.31 L271.42 115.99 L271.65 115.67 L271.89 115.35 L272.12 115.04 L272.35 114.74 L272.59 114.43 L272.82 114.13 L273.06 113.84 L273.29 113.55 L273.53 113.26 L273.76 112.98 L274 112.7 L274.23 112.43 L274.47 112.16 L274.7 111.9 L274.93 111.64 L275.17 111.38 L275.4 111.13 L275.64 110.89 L275.87 110.65 L276.11 110.41 L276.34 110.18 L276.58 109.95 L276.81 109.73 L277.05 109.51 L277.28 109.3 L277.51 109.09 L277.75 108.89 L277.98 108.69 L278.22 108.49 L278.45 108.3 L278.69 108.11 L278.92 107.93 L279.16 107.75 L279.39 107.58 L279.63 107.41 L279.86 107.24 L280.09 107.08 L280.33 106.92 L280.56 106.77 L280.8 106.62 L281.03 106.47 L281.27 106.33 L281.5 106.19 L281.74 106.05 L281.97 105.92 L282.21 105.79 L282.44 105.67 L282.67 105.55 L282.91 105.43 L283.14 105.32 L283.38 105.21 L283.61 105.1 L283.85 104.99 L284.08 104.89 L284.32 104.79 L284.55 104.7 L284.79 104.6 L285.02 104.51 L285.25 104.43 L285.49 104.34 L285.72 104.26 L285.96 104.18 L286.19 104.11 L286.43 104.03 L286.66 103.96 L286.9 103.89 L287.13 103.83 L287.37 103.76 L287.6 103.7 L287.6 103.7 L287.37 103.71 L287.13 103.73 L286.9 103.74 L286.66 103.76 L286.43 103.77 L286.19 103.79 L285.96 103.81 L285.72 103.83 L285.49 103.85 L285.25 103.87 L285.02 103.89 L284.79 103.91 L284.55 103.94 L284.32 103.96 L284.08 103.99 L283.85 104.01 L283.61 104.04 L283.38 104.08 L283.14 104.11 L282.91 104.14 L282.67 104.18 L282.44 104.22 L282.21 104.26 L281.97 104.3 L281.74 104.34 L281.5 104.39 L281.27 104.43 L281.03 104.49 L280.8 104.54 L280.56 104.59 L280.33 104.65 L280.09 104.71 L279.86 104.78 L279.63 104.85 L279.39 104.92 L279.16 104.99 L278.92 105.07 L278.69 105.15 L278.45 105.23 L278.22 105.32 L277.98 105.41 L277.75 105.51 L277.51 105.61 L277.28 105.71 L277.05 105.82 L276.81 105.94 L276.58 106.05 L276.34 106.18 L276.11 106.3 L275.87 106.43 L275.64 106.57 L275.4 106.71 L275.17 106.86 L274.93 107.01 L274.7 107.17 L274.47 107.33 L274.23 107.5 L274 107.67 L273.76 107.85 L273.53 108.03 L273.29 108.22 L273.06 108.41 L272.82 108.61 L272.59 108.82 L272.35 109.03 L272.12 109.24 L271.89 109.46 L271.65 109.69 L271.42 109.92 L271.18 110.15 L270.95 110.39 L270.71 110.64 L270.48 110.89 L270.24 111.14 L270.01 111.4 L269.77 111.66 L269.54 111.93 L269.31 112.2 L269.07 112.47 L268.84 112.75 L268.6 113.03 L268.37 113.32 L268.13 113.61 L267.9 113.9 L267.66 114.2 L267.43 114.5 L267.19 114.8 L266.96 115.11 L266.73 115.42 L266.49 115.73 L266.26 116.04 L266.02 116.36 L265.79 116.68 L265.55 117 L265.32 117.32 L265.08 117.65 L264.85 117.97 L264.61 118.3 L264.38 118.63 L264.15 118.96 L263.91 119.3 L263.68 119.63 L263.44 119.97 L263.21 120.31 L262.97 120.64 L262.74 120.98 L262.5 121.32 L262.27 121.66 L262.03 122.01 L261.8 122.35 L261.57 122.69 L261.33 123.04 L261.1 123.38 L260.86 123.72 L260.63 124.07 L260.39 124.41 L260.16 124.76 L259.92 125.1 L259.69 125.45 L259.45 125.79 L259.22 126.13 L258.99 126.48 L258.75 126.82 L258.52 127.16 L258.28 127.5 L258.05 127.84 L257.81 128.18 L257.58 128.52 L257.34 128.85 L257.11 129.19 L256.87 129.52 L256.64 129.85 L256.41 130.18 L256.17 130.51 L255.94 130.84 L255.7 131.16 L255.47 131.48 L255.23 131.8 L255 132.11 L254.76 132.43 L254.53 132.73 L254.29 133.04 L254.06 133.34 L253.83 133.64 L253.59 133.93 L253.36 134.22 L253.12 134.51 L252.89 134.79 L252.65 135.06 L252.42 135.33 L252.18 135.6 L251.95 135.86 L251.71 136.11 L251.48 136.36 L251.25 136.6 L251.01 136.84 L250.78 137.07 L250.54 137.29 L250.31 137.51 L250.07 137.72 L249.84 137.92 L249.6 138.12 L249.37 138.31 L249.13 138.49 L248.9 138.67 L248.67 138.84 L248.43 139 L248.2 139.16 L247.96 139.31 L247.73 139.45 L247.49 139.59 L247.26 139.72 L247.02 139.84 L246.79 139.96 L246.55 140.08 L246.32 140.18 L246.09 140.28 L245.85 140.38 L245.62 140.47 L245.38 140.56 L245.15 140.64 L244.91 140.72 L244.68 140.79 L244.44 140.86 L244.21 140.92 L243.97 140.98 L243.74 141.04 L243.51 141.09 L243.27 141.14 L243.04 141.19 L242.8 141.23 L242.57 141.28 L242.33 141.31 L242.1 141.35 L241.86 141.39 L241.63 141.42 L241.39 141.45 L241.16 141.48 L240.93 141.5 L240.69 141.53 L240.46 141.55 L240.22 141.57 L239.99 141.59 L239.75 141.61 L239.52 141.63 L239.28 141.65 L239.05 141.66 L238.81 141.68 L238.58 141.69 L238.35 141.7 L238.11 141.72 L237.88 141.73 L237.64 141.74 L237.41 141.75 L237.17 141.76 L236.94 141.77 L236.7 141.78 L236.47 141.79 L236.23 141.79 L236 141.8Z" fill="none" stroke="#eaa236" stroke-width="1.5" stroke-linejoin="round"/>
<path d="M235.9 165.2 L236.14 165.22 L236.38 165.25 L236.61 165.27 L236.85 165.3 L237.09 165.32 L237.33 165.35 L237.57 165.37 L237.81 165.4 L238.04 165.42 L238.28 165.45 L238.52 165.47 L238.76 165.49 L239 165.52 L239.23 165.54 L239.47 165.56 L239.71 165.59 L239.95 165.61 L240.19 165.63 L240.43 165.65 L240.66 165.67 L240.9 165.69 L241.14 165.71 L241.38 165.72 L241.62 165.74 L241.85 165.76 L242.09 165.77 L242.33 165.78 L242.57 165.8 L242.81 165.81 L243.05 165.82 L243.28 165.82 L243.52 165.83 L243.76 165.83 L244 165.84 L244.24 165.84 L244.47 165.84 L244.71 165.83 L244.95 165.83 L245.19 165.82 L245.43 165.81 L245.67 165.79 L245.9 165.78 L246.14 165.76 L246.38 165.74 L246.62 165.71 L246.86 165.68 L247.09 165.65 L247.33 165.61 L247.57 165.58 L247.81 165.53 L248.05 165.48 L248.29 165.43 L248.52 165.38 L248.76 165.32 L249 165.25 L249.24 165.18 L249.48 165.11 L249.71 165.03 L249.95 164.94 L250.19 164.85 L250.43 164.75 L250.67 164.65 L250.91 164.54 L251.14 164.43 L251.38 164.31 L251.62 164.18 L251.86 164.05 L252.1 163.91 L252.33 163.77 L252.57 163.62 L252.81 163.46 L253.05 163.29 L253.29 163.12 L253.53 162.94 L253.76 162.76 L254 162.56 L254.24 162.36 L254.48 162.16 L254.72 161.94 L254.95 161.72 L255.19 161.5 L255.43 161.26 L255.67 161.02 L255.91 160.78 L256.15 160.52 L256.38 160.26 L256.62 159.99 L256.86 159.72 L257.1 159.44 L257.34 159.15 L257.57 158.86 L257.81 158.57 L258.05 158.26 L258.29 157.95 L258.53 157.64 L258.77 157.32 L259 157 L259.24 156.67 L259.48 156.34 L259.72 156 L259.96 155.66 L260.19 155.32 L260.43 154.97 L260.67 154.62 L260.91 154.27 L261.15 153.91 L261.39 153.56 L261.62 153.2 L261.86 152.83 L262.1 152.47 L262.34 152.11 L262.58 151.74 L262.81 151.38 L263.05 151.01 L263.29 150.65 L263.53 150.28 L263.77 149.92 L264.01 149.55 L264.24 149.19 L264.48 148.83 L264.72 148.47 L264.96 148.11 L265.2 147.75 L265.43 147.4 L265.67 147.05 L265.91 146.7 L266.15 146.36 L266.39 146.01 L266.63 145.68 L266.86 145.34 L267.1 145.01 L267.34 144.68 L267.58 144.36 L267.82 144.05 L268.05 143.73 L268.29 143.43 L268.53 143.12 L268.77 142.83 L269.01 142.54 L269.25 142.25 L269.48 141.97 L269.72 141.7 L269.96 141.43 L270.2 141.17 L270.44 140.92 L270.67 140.67 L270.91 140.43 L271.15 140.2 L271.39 139.97 L271.63 139.76 L271.87 139.54 L272.1 139.34 L272.34 139.14 L272.58 138.96 L272.82 138.77 L273.06 138.6 L273.29 138.44 L273.53 138.28 L273.77 138.13 L274.01 137.99 L274.25 137.85 L274.49 137.73 L274.72 137.61 L274.96 137.5 L275.2 137.39 L275.44 137.3 L275.68 137.2 L275.91 137.12 L276.15 137.03 L276.39 136.95 L276.63 136.87 L276.87 136.78 L277.11 136.69 L277.34 136.58 L277.58 136.46 L277.82 136.31 L278.06 136.14 L278.3 135.95 L278.53 135.71 L278.77 135.45 L279.01 135.16 L279.25 134.84 L279.49 134.5 L279.73 134.13 L279.96 133.76 L280.2 133.38 L280.44 132.99 L280.68 132.6 L280.92 132.22 L281.15 131.83 L281.39 131.45 L281.63 131.07 L281.87 130.7 L282.11 130.34 L282.35 129.98 L282.58 129.63 L282.82 129.29 L283.06 128.95 L283.3 128.62 L283.54 128.29 L283.77 127.98 L284.01 127.67 L284.25 127.37 L284.49 127.07 L284.73 126.78 L284.97 126.5 L285.2 126.23 L285.44 125.96 L285.68 125.7 L285.92 125.44 L286.16 125.19 L286.39 124.95 L286.63 124.71 L286.87 124.48 L287.11 124.25 L287.35 124.03 L287.59 123.81 L287.82 123.6 L288.06 123.4 L288.3 123.2 L288.3 123.2 L288.06 123.22 L287.82 123.24 L287.59 123.26 L287.35 123.28 L287.11 123.31 L286.87 123.33 L286.63 123.35 L286.39 123.38 L286.16 123.4 L285.92 123.43 L285.68 123.45 L285.44 123.48 L285.2 123.51 L284.97 123.54 L284.73 123.57 L284.49 123.61 L284.25 123.65 L284.01 123.69 L283.77 123.73 L283.54 123.78 L283.3 123.82 L283.06 123.88 L282.82 123.94 L282.58 124 L282.35 124.07 L282.11 124.14 L281.87 124.22 L281.63 124.31 L281.39 124.4 L281.15 124.5 L280.92 124.61 L280.68 124.74 L280.44 124.87 L280.2 125.01 L279.96 125.16 L279.73 125.32 L279.49 125.5 L279.25 125.69 L279.01 125.89 L278.77 126.1 L278.53 126.32 L278.3 126.56 L278.06 126.8 L277.82 127.06 L277.58 127.33 L277.34 127.6 L277.11 127.88 L276.87 128.16 L276.63 128.44 L276.39 128.73 L276.15 129.01 L275.91 129.28 L275.68 129.55 L275.44 129.8 L275.2 130.04 L274.96 130.27 L274.72 130.49 L274.49 130.68 L274.25 130.86 L274.01 131.02 L273.77 131.17 L273.53 131.3 L273.29 131.42 L273.06 131.53 L272.82 131.62 L272.58 131.71 L272.34 131.79 L272.1 131.86 L271.87 131.92 L271.63 131.99 L271.39 132.05 L271.15 132.11 L270.91 132.17 L270.67 132.23 L270.44 132.29 L270.2 132.35 L269.96 132.41 L269.72 132.48 L269.48 132.55 L269.25 132.62 L269.01 132.7 L268.77 132.78 L268.53 132.86 L268.29 132.95 L268.05 133.04 L267.82 133.14 L267.58 133.24 L267.34 133.35 L267.1 133.46 L266.86 133.58 L266.63 133.71 L266.39 133.84 L266.15 133.98 L265.91 134.12 L265.67 134.27 L265.43 134.43 L265.2 134.59 L264.96 134.76 L264.72 134.94 L264.48 135.12 L264.24 135.32 L264.01 135.52 L263.77 135.72 L263.53 135.94 L263.29 136.16 L263.05 136.39 L262.81 136.62 L262.58 136.87 L262.34 137.12 L262.1 137.38 L261.86 137.64 L261.62 137.91 L261.39 138.19 L261.15 138.48 L260.91 138.77 L260.67 139.07 L260.43 139.37 L260.19 139.68 L259.96 140 L259.72 140.32 L259.48 140.65 L259.24 140.98 L259 141.32 L258.77 141.66 L258.53 142 L258.29 142.35 L258.05 142.7 L257.81 143.06 L257.57 143.42 L257.34 143.78 L257.1 144.14 L256.86 144.5 L256.62 144.87 L256.38 145.23 L256.15 145.6 L255.91 145.97 L255.67 146.34 L255.43 146.71 L255.19 147.07 L254.95 147.44 L254.72 147.81 L254.48 148.17 L254.24 148.54 L254 148.9 L253.76 149.26 L253.53 149.62 L253.29 149.97 L253.05 150.33 L252.81 150.68 L252.57 151.02 L252.33 151.37 L252.1 151.71 L251.86 152.05 L251.62 152.38 L251.38 152.71 L251.14 153.04 L250.91 153.36 L250.67 153.68 L250.43 153.99 L250.19 154.3 L249.95 154.61 L249.71 154.91 L249.48 155.2 L249.24 155.49 L249 155.78 L248.76 156.06 L248.52 156.34 L248.29 156.61 L248.05 156.88 L247.81 157.15 L247.57 157.41 L247.33 157.66 L247.09 157.91 L246.86 158.15 L246.62 158.39 L246.38 158.63 L246.14 158.86 L245.9 159.09 L245.67 159.31 L245.43 159.53 L245.19 159.74 L244.95 159.95 L244.71 160.15 L244.47 160.35 L244.24 160.55 L244 160.74 L243.76 160.92 L243.52 161.11 L243.28 161.29 L243.05 161.46 L242.81 161.63 L242.57 161.8 L242.33 161.96 L242.09 162.12 L241.85 162.28 L241.62 162.43 L241.38 162.58 L241.14 162.73 L240.9 162.87 L240.66 163.01 L240.43 163.14 L240.19 163.28 L239.95 163.41 L239.71 163.53 L239.47 163.66 L239.23 163.78 L239 163.89 L238.76 164.01 L238.52 164.12 L238.28 164.23 L238.04 164.34 L237.81 164.44 L237.57 164.55 L237.33 164.65 L237.09 164.74 L236.85 164.84 L236.61 164.93 L236.38 165.02 L236.14 165.11 L235.9 165.2Z" fill="none" stroke="#e8bc2a" stroke-width="1.5" stroke-linejoin="round"/>
<path d="M236.3 186.2 L236.53 186.2 L236.77 186.21 L237 186.21 L237.23 186.22 L237.47 186.22 L237.7 186.22 L237.93 186.23 L238.17 186.23 L238.4 186.23 L238.63 186.23 L238.87 186.24 L239.1 186.24 L239.33 186.24 L239.56 186.24 L239.8 186.24 L240.03 186.24 L240.26 186.24 L240.5 186.24 L240.73 186.24 L240.96 186.24 L241.2 186.23 L241.43 186.23 L241.66 186.23 L241.9 186.23 L242.13 186.22 L242.36 186.22 L242.6 186.21 L242.83 186.21 L243.06 186.2 L243.3 186.19 L243.53 186.18 L243.76 186.17 L244 186.16 L244.23 186.15 L244.46 186.14 L244.69 186.13 L244.93 186.11 L245.16 186.1 L245.39 186.08 L245.63 186.06 L245.86 186.04 L246.09 186.02 L246.33 186 L246.56 185.98 L246.79 185.95 L247.03 185.93 L247.26 185.9 L247.49 185.87 L247.73 185.84 L247.96 185.8 L248.19 185.77 L248.43 185.73 L248.66 185.69 L248.89 185.64 L249.12 185.6 L249.36 185.55 L249.59 185.5 L249.82 185.45 L250.06 185.39 L250.29 185.33 L250.52 185.27 L250.76 185.2 L250.99 185.13 L251.22 185.06 L251.46 184.98 L251.69 184.9 L251.92 184.82 L252.16 184.73 L252.39 184.64 L252.62 184.54 L252.86 184.44 L253.09 184.34 L253.32 184.22 L253.56 184.11 L253.79 183.99 L254.02 183.86 L254.26 183.73 L254.49 183.59 L254.72 183.45 L254.95 183.31 L255.19 183.15 L255.42 182.99 L255.65 182.83 L255.89 182.66 L256.12 182.48 L256.35 182.29 L256.59 182.11 L256.82 181.91 L257.05 181.71 L257.29 181.5 L257.52 181.28 L257.75 181.06 L257.99 180.84 L258.22 180.6 L258.45 180.36 L258.69 180.12 L258.92 179.87 L259.15 179.61 L259.38 179.35 L259.62 179.08 L259.85 178.81 L260.08 178.53 L260.32 178.25 L260.55 177.97 L260.78 177.68 L261.02 177.38 L261.25 177.08 L261.48 176.78 L261.72 176.48 L261.95 176.17 L262.18 175.87 L262.42 175.56 L262.65 175.25 L262.88 174.93 L263.12 174.62 L263.35 174.31 L263.58 174 L263.82 173.68 L264.05 173.37 L264.28 173.06 L264.51 172.76 L264.75 172.45 L264.98 172.15 L265.21 171.85 L265.45 171.55 L265.68 171.25 L265.91 170.96 L266.15 170.68 L266.38 170.4 L266.61 170.12 L266.85 169.85 L267.08 169.58 L267.31 169.32 L267.55 169.06 L267.78 168.81 L268.01 168.57 L268.25 168.33 L268.48 168.09 L268.71 167.87 L268.95 167.64 L269.18 167.43 L269.41 167.22 L269.65 167.02 L269.88 166.82 L270.11 166.63 L270.34 166.45 L270.58 166.28 L270.81 166.11 L271.04 165.94 L271.28 165.78 L271.51 165.63 L271.74 165.49 L271.98 165.34 L272.21 165.21 L272.44 165.08 L272.68 164.95 L272.91 164.83 L273.14 164.71 L273.38 164.6 L273.61 164.48 L273.84 164.37 L274.08 164.25 L274.31 164.13 L274.54 164.01 L274.78 163.88 L275.01 163.75 L275.24 163.6 L275.47 163.44 L275.71 163.25 L275.94 163.05 L276.17 162.82 L276.41 162.56 L276.64 162.27 L276.87 161.94 L277.11 161.57 L277.34 161.16 L277.57 160.71 L277.81 160.2 L278.04 159.66 L278.27 159.08 L278.51 158.45 L278.74 157.8 L278.97 157.12 L279.21 156.42 L279.44 155.71 L279.67 155 L279.91 154.29 L280.14 153.6 L280.37 152.92 L280.6 152.26 L280.84 151.63 L281.07 151.04 L281.3 150.48 L281.54 149.95 L281.77 149.46 L282 149.01 L282.24 148.59 L282.47 148.21 L282.7 147.86 L282.94 147.55 L283.17 147.26 L283.4 147 L283.64 146.76 L283.87 146.55 L284.1 146.36 L284.34 146.2 L284.57 146.04 L284.8 145.91 L285.04 145.79 L285.27 145.68 L285.5 145.59 L285.73 145.5 L285.97 145.43 L286.2 145.36 L286.43 145.3 L286.67 145.25 L286.9 145.21 L287.13 145.17 L287.37 145.13 L287.6 145.1 L287.6 145.1 L287.37 145.15 L287.13 145.2 L286.9 145.25 L286.67 145.3 L286.43 145.35 L286.2 145.4 L285.97 145.45 L285.73 145.5 L285.5 145.55 L285.27 145.6 L285.04 145.64 L284.8 145.69 L284.57 145.73 L284.34 145.78 L284.1 145.82 L283.87 145.87 L283.64 145.91 L283.4 145.95 L283.17 146 L282.94 146.04 L282.7 146.08 L282.47 146.12 L282.24 146.16 L282 146.21 L281.77 146.25 L281.54 146.29 L281.3 146.33 L281.07 146.37 L280.84 146.42 L280.6 146.46 L280.37 146.51 L280.14 146.56 L279.91 146.61 L279.67 146.66 L279.44 146.72 L279.21 146.77 L278.97 146.84 L278.74 146.91 L278.51 146.98 L278.27 147.06 L278.04 147.15 L277.81 147.24 L277.57 147.34 L277.34 147.45 L277.11 147.58 L276.87 147.71 L276.64 147.85 L276.41 148.01 L276.17 148.18 L275.94 148.36 L275.71 148.55 L275.47 148.76 L275.24 148.98 L275.01 149.22 L274.78 149.47 L274.54 149.73 L274.31 150 L274.08 150.28 L273.84 150.57 L273.61 150.87 L273.38 151.18 L273.14 151.49 L272.91 151.82 L272.68 152.14 L272.44 152.47 L272.21 152.81 L271.98 153.15 L271.74 153.48 L271.51 153.82 L271.28 154.16 L271.04 154.5 L270.81 154.84 L270.58 155.17 L270.34 155.5 L270.11 155.83 L269.88 156.16 L269.65 156.48 L269.41 156.8 L269.18 157.12 L268.95 157.43 L268.71 157.73 L268.48 158.03 L268.25 158.33 L268.01 158.62 L267.78 158.9 L267.55 159.18 L267.31 159.46 L267.08 159.73 L266.85 159.99 L266.61 160.25 L266.38 160.51 L266.15 160.75 L265.91 161 L265.68 161.23 L265.45 161.47 L265.21 161.69 L264.98 161.91 L264.75 162.13 L264.51 162.34 L264.28 162.55 L264.05 162.75 L263.82 162.95 L263.58 163.14 L263.35 163.33 L263.12 163.51 L262.88 163.69 L262.65 163.87 L262.42 164.04 L262.18 164.21 L261.95 164.37 L261.72 164.53 L261.48 164.69 L261.25 164.84 L261.02 164.99 L260.78 165.13 L260.55 165.28 L260.32 165.42 L260.08 165.55 L259.85 165.69 L259.62 165.82 L259.38 165.95 L259.15 166.08 L258.92 166.2 L258.69 166.32 L258.45 166.44 L258.22 166.56 L257.99 166.68 L257.75 166.79 L257.52 166.9 L257.29 167.02 L257.05 167.13 L256.82 167.24 L256.59 167.34 L256.35 167.45 L256.12 167.56 L255.89 167.66 L255.65 167.77 L255.42 167.87 L255.19 167.98 L254.95 168.08 L254.72 168.19 L254.49 168.29 L254.26 168.4 L254.02 168.51 L253.79 168.62 L253.56 168.73 L253.32 168.84 L253.09 168.95 L252.86 169.06 L252.62 169.18 L252.39 169.3 L252.16 169.42 L251.92 169.55 L251.69 169.68 L251.46 169.82 L251.22 169.96 L250.99 170.1 L250.76 170.25 L250.52 170.41 L250.29 170.57 L250.06 170.74 L249.82 170.92 L249.59 171.1 L249.36 171.3 L249.12 171.5 L248.89 171.72 L248.66 171.94 L248.43 172.18 L248.19 172.43 L247.96 172.69 L247.73 172.96 L247.49 173.24 L247.26 173.54 L247.03 173.85 L246.79 174.17 L246.56 174.51 L246.33 174.85 L246.09 175.21 L245.86 175.58 L245.63 175.95 L245.39 176.34 L245.16 176.73 L244.93 177.13 L244.69 177.53 L244.46 177.93 L244.23 178.34 L244 178.74 L243.76 179.14 L243.53 179.53 L243.3 179.92 L243.06 180.3 L242.83 180.67 L242.6 181.02 L242.36 181.37 L242.13 181.7 L241.9 182.02 L241.66 182.33 L241.43 182.62 L241.2 182.9 L240.96 183.16 L240.73 183.41 L240.5 183.64 L240.26 183.86 L240.03 184.07 L239.8 184.27 L239.56 184.45 L239.33 184.63 L239.1 184.79 L238.87 184.95 L238.63 185.09 L238.4 185.23 L238.17 185.36 L237.93 185.48 L237.7 185.6 L237.47 185.71 L237.23 185.82 L237 185.92 L236.77 186.02 L236.53 186.11 L236.3 186.2Z" fill="none" stroke="#e8cc2c" stroke-width="1.5" stroke-linejoin="round"/>
<path d="M231.4 207.6 L231.68 207.53 L231.96 207.46 L232.24 207.39 L232.52 207.33 L232.8 207.26 L233.07 207.19 L233.35 207.12 L233.63 207.05 L233.91 206.99 L234.19 206.92 L234.47 206.85 L234.75 206.78 L235.03 206.72 L235.31 206.65 L235.59 206.58 L235.87 206.51 L236.14 206.45 L236.42 206.38 L236.7 206.31 L236.98 206.25 L237.26 206.18 L237.54 206.12 L237.82 206.05 L238.1 205.99 L238.38 205.92 L238.66 205.86 L238.94 205.79 L239.21 205.73 L239.49 205.66 L239.77 205.6 L240.05 205.54 L240.33 205.48 L240.61 205.41 L240.89 205.35 L241.17 205.29 L241.45 205.23 L241.73 205.17 L242.01 205.11 L242.28 205.05 L242.56 204.99 L242.84 204.94 L243.12 204.88 L243.4 204.82 L243.68 204.77 L243.96 204.71 L244.24 204.66 L244.52 204.61 L244.8 204.55 L245.08 204.5 L245.35 204.45 L245.63 204.41 L245.91 204.36 L246.19 204.31 L246.47 204.27 L246.75 204.22 L247.03 204.18 L247.31 204.14 L247.59 204.1 L247.87 204.07 L248.15 204.03 L248.42 204 L248.7 203.97 L248.98 203.94 L249.26 203.91 L249.54 203.88 L249.82 203.86 L250.1 203.84 L250.38 203.82 L250.66 203.8 L250.94 203.79 L251.22 203.77 L251.49 203.76 L251.77 203.76 L252.05 203.75 L252.33 203.75 L252.61 203.75 L252.89 203.75 L253.17 203.75 L253.45 203.76 L253.73 203.77 L254.01 203.78 L254.29 203.79 L254.56 203.8 L254.84 203.82 L255.12 203.83 L255.4 203.85 L255.68 203.86 L255.96 203.88 L256.24 203.89 L256.52 203.9 L256.8 203.91 L257.08 203.92 L257.36 203.92 L257.63 203.92 L257.91 203.91 L258.19 203.9 L258.47 203.88 L258.75 203.85 L259.03 203.8 L259.31 203.75 L259.59 203.69 L259.87 203.61 L260.15 203.52 L260.43 203.41 L260.7 203.29 L260.98 203.14 L261.26 202.98 L261.54 202.81 L261.82 202.61 L262.1 202.39 L262.38 202.16 L262.66 201.9 L262.94 201.63 L263.22 201.34 L263.5 201.03 L263.77 200.71 L264.05 200.37 L264.33 200.01 L264.61 199.65 L264.89 199.27 L265.17 198.88 L265.45 198.49 L265.73 198.08 L266.01 197.68 L266.29 197.26 L266.57 196.85 L266.84 196.44 L267.12 196.02 L267.4 195.61 L267.68 195.2 L267.96 194.79 L268.24 194.39 L268.52 193.99 L268.8 193.6 L269.08 193.22 L269.36 192.85 L269.64 192.48 L269.91 192.12 L270.19 191.77 L270.47 191.43 L270.75 191.1 L271.03 190.77 L271.31 190.46 L271.59 190.15 L271.87 189.86 L272.15 189.57 L272.43 189.29 L272.71 189.02 L272.98 188.76 L273.26 188.51 L273.54 188.27 L273.82 188.03 L274.1 187.8 L274.38 187.58 L274.66 187.36 L274.94 187.16 L275.22 186.95 L275.5 186.76 L275.78 186.57 L276.05 186.38 L276.33 186.2 L276.61 186.03 L276.89 185.85 L277.17 185.69 L277.45 185.52 L277.73 185.36 L278.01 185.2 L278.29 185.04 L278.57 184.88 L278.85 184.72 L279.12 184.56 L279.4 184.39 L279.68 184.22 L279.96 184.05 L280.24 183.86 L280.52 183.67 L280.8 183.46 L281.08 183.24 L281.36 183 L281.64 182.73 L281.92 182.44 L282.19 182.12 L282.47 181.76 L282.75 181.37 L283.03 180.92 L283.31 180.43 L283.59 179.88 L283.87 179.27 L284.15 178.6 L284.43 177.87 L284.71 177.08 L284.99 176.24 L285.26 175.36 L285.54 174.44 L285.82 173.51 L286.1 172.57 L286.38 171.66 L286.66 170.79 L286.94 169.97 L287.22 169.23 L287.5 168.57 L287.78 168 L288.06 167.51 L288.33 167.11 L288.61 166.78 L288.89 166.5 L289.17 166.28 L289.45 166.1 L289.73 165.95 L290.01 165.82 L290.29 165.71 L290.57 165.61 L290.85 165.52 L291.13 165.44 L291.4 165.36 L291.68 165.28 L291.96 165.21 L292.24 165.14 L292.52 165.07 L292.8 165 L292.8 165 L292.52 165.07 L292.24 165.14 L291.96 165.21 L291.68 165.28 L291.4 165.35 L291.13 165.42 L290.85 165.49 L290.57 165.56 L290.29 165.63 L290.01 165.7 L289.73 165.76 L289.45 165.83 L289.17 165.9 L288.89 165.97 L288.61 166.04 L288.33 166.11 L288.06 166.18 L287.78 166.25 L287.5 166.32 L287.22 166.39 L286.94 166.45 L286.66 166.52 L286.38 166.59 L286.1 166.66 L285.82 166.73 L285.54 166.8 L285.26 166.86 L284.99 166.93 L284.71 167 L284.43 167.07 L284.15 167.13 L283.87 167.2 L283.59 167.27 L283.31 167.33 L283.03 167.4 L282.75 167.46 L282.47 167.53 L282.19 167.59 L281.92 167.66 L281.64 167.72 L281.36 167.78 L281.08 167.84 L280.8 167.9 L280.52 167.96 L280.24 168.02 L279.96 168.08 L279.68 168.14 L279.4 168.19 L279.12 168.25 L278.85 168.3 L278.57 168.35 L278.29 168.4 L278.01 168.45 L277.73 168.5 L277.45 168.54 L277.17 168.59 L276.89 168.63 L276.61 168.67 L276.33 168.71 L276.05 168.75 L275.78 168.78 L275.5 168.82 L275.22 168.85 L274.94 168.89 L274.66 168.92 L274.38 168.96 L274.1 169 L273.82 169.04 L273.54 169.09 L273.26 169.14 L272.98 169.2 L272.71 169.27 L272.43 169.36 L272.15 169.46 L271.87 169.57 L271.59 169.71 L271.31 169.87 L271.03 170.06 L270.75 170.28 L270.47 170.53 L270.19 170.82 L269.91 171.13 L269.64 171.49 L269.36 171.87 L269.08 172.29 L268.8 172.74 L268.52 173.22 L268.24 173.72 L267.96 174.24 L267.68 174.77 L267.4 175.31 L267.12 175.86 L266.84 176.4 L266.57 176.94 L266.29 177.48 L266.01 178 L265.73 178.51 L265.45 179 L265.17 179.47 L264.89 179.93 L264.61 180.36 L264.33 180.77 L264.05 181.17 L263.77 181.54 L263.5 181.89 L263.22 182.22 L262.94 182.53 L262.66 182.82 L262.38 183.09 L262.1 183.35 L261.82 183.6 L261.54 183.83 L261.26 184.04 L260.98 184.24 L260.7 184.43 L260.43 184.61 L260.15 184.78 L259.87 184.94 L259.59 185.1 L259.31 185.24 L259.03 185.38 L258.75 185.51 L258.47 185.64 L258.19 185.76 L257.91 185.87 L257.63 185.98 L257.36 186.09 L257.08 186.19 L256.8 186.29 L256.52 186.39 L256.24 186.48 L255.96 186.58 L255.68 186.67 L255.4 186.75 L255.12 186.84 L254.84 186.93 L254.56 187.01 L254.29 187.09 L254.01 187.17 L253.73 187.25 L253.45 187.33 L253.17 187.41 L252.89 187.49 L252.61 187.56 L252.33 187.64 L252.05 187.72 L251.77 187.79 L251.49 187.87 L251.22 187.94 L250.94 188.02 L250.66 188.09 L250.38 188.17 L250.1 188.25 L249.82 188.32 L249.54 188.4 L249.26 188.48 L248.98 188.56 L248.7 188.64 L248.42 188.72 L248.15 188.8 L247.87 188.89 L247.59 188.98 L247.31 189.08 L247.03 189.17 L246.75 189.28 L246.47 189.39 L246.19 189.5 L245.91 189.63 L245.63 189.77 L245.35 189.91 L245.08 190.08 L244.8 190.25 L244.52 190.45 L244.24 190.67 L243.96 190.92 L243.68 191.19 L243.4 191.5 L243.12 191.84 L242.84 192.22 L242.56 192.64 L242.28 193.11 L242.01 193.62 L241.73 194.18 L241.45 194.79 L241.17 195.44 L240.89 196.12 L240.61 196.83 L240.33 197.56 L240.05 198.31 L239.77 199.05 L239.49 199.77 L239.21 200.48 L238.94 201.15 L238.66 201.78 L238.38 202.37 L238.1 202.92 L237.82 203.41 L237.54 203.86 L237.26 204.26 L236.98 204.62 L236.7 204.94 L236.42 205.23 L236.14 205.48 L235.87 205.71 L235.59 205.91 L235.31 206.1 L235.03 206.26 L234.75 206.41 L234.47 206.55 L234.19 206.67 L233.91 206.79 L233.63 206.9 L233.35 207 L233.07 207.09 L232.8 207.19 L232.52 207.27 L232.24 207.36 L231.96 207.44 L231.68 207.52 L231.4 207.6Z" fill="none" stroke="#ccc83c" stroke-width="1.5" stroke-linejoin="round"/>
<path d="M221.2 231.2 L221.58 231.16 L221.95 231.13 L222.33 231.1 L222.7 231.06 L223.08 231.04 L223.45 231.01 L223.83 230.98 L224.2 230.96 L224.58 230.94 L224.95 230.92 L225.33 230.91 L225.71 230.9 L226.08 230.89 L226.46 230.88 L226.83 230.88 L227.21 230.87 L227.58 230.88 L227.96 230.88 L228.33 230.89 L228.71 230.89 L229.08 230.91 L229.46 230.92 L229.84 230.94 L230.21 230.95 L230.59 230.97 L230.96 230.99 L231.34 231.02 L231.71 231.04 L232.09 231.06 L232.46 231.08 L232.84 231.11 L233.21 231.13 L233.59 231.15 L233.97 231.16 L234.34 231.17 L234.72 231.18 L235.09 231.18 L235.47 231.18 L235.84 231.16 L236.22 231.14 L236.59 231.11 L236.97 231.06 L237.34 231.01 L237.72 230.93 L238.1 230.85 L238.47 230.74 L238.85 230.62 L239.22 230.48 L239.6 230.32 L239.97 230.14 L240.35 229.94 L240.72 229.72 L241.1 229.47 L241.47 229.21 L241.85 228.92 L242.23 228.61 L242.6 228.29 L242.98 227.94 L243.35 227.58 L243.73 227.19 L244.1 226.8 L244.48 226.39 L244.85 225.97 L245.23 225.53 L245.6 225.09 L245.98 224.65 L246.36 224.19 L246.73 223.74 L247.11 223.28 L247.48 222.82 L247.86 222.36 L248.23 221.9 L248.61 221.45 L248.98 221.01 L249.36 220.56 L249.73 220.13 L250.11 219.7 L250.49 219.28 L250.86 218.87 L251.24 218.47 L251.61 218.07 L251.99 217.69 L252.36 217.32 L252.74 216.96 L253.11 216.6 L253.49 216.26 L253.86 215.93 L254.24 215.61 L254.62 215.3 L254.99 214.99 L255.37 214.7 L255.74 214.42 L256.12 214.15 L256.49 213.88 L256.87 213.63 L257.24 213.38 L257.62 213.14 L257.99 212.91 L258.37 212.69 L258.75 212.48 L259.12 212.27 L259.5 212.07 L259.87 211.87 L260.25 211.68 L260.62 211.5 L261 211.32 L261.37 211.15 L261.75 210.99 L262.12 210.83 L262.5 210.67 L262.88 210.52 L263.25 210.37 L263.63 210.23 L264 210.09 L264.38 209.95 L264.75 209.82 L265.13 209.69 L265.5 209.57 L265.88 209.45 L266.25 209.33 L266.63 209.21 L267.01 209.09 L267.38 208.98 L267.76 208.87 L268.13 208.76 L268.51 208.66 L268.88 208.55 L269.26 208.45 L269.63 208.35 L270.01 208.25 L270.38 208.16 L270.76 208.06 L271.14 207.97 L271.51 207.87 L271.89 207.78 L272.26 207.69 L272.64 207.6 L273.01 207.51 L273.39 207.42 L273.76 207.34 L274.14 207.25 L274.51 207.17 L274.89 207.08 L275.27 207 L275.64 206.92 L276.02 206.83 L276.39 206.75 L276.77 206.67 L277.14 206.59 L277.52 206.51 L277.89 206.43 L278.27 206.35 L278.64 206.27 L279.02 206.19 L279.4 206.11 L279.77 206.03 L280.15 205.95 L280.52 205.88 L280.9 205.8 L281.27 205.72 L281.65 205.64 L282.02 205.56 L282.4 205.48 L282.77 205.4 L283.15 205.32 L283.53 205.24 L283.9 205.16 L284.28 205.08 L284.65 204.99 L285.03 204.91 L285.4 204.82 L285.78 204.73 L286.15 204.63 L286.53 204.54 L286.9 204.43 L287.28 204.32 L287.66 204.21 L288.03 204.08 L288.41 203.95 L288.78 203.8 L289.16 203.64 L289.53 203.46 L289.91 203.26 L290.28 203.04 L290.66 202.79 L291.03 202.51 L291.41 202.19 L291.79 201.83 L292.16 201.42 L292.54 200.95 L292.91 200.43 L293.29 199.84 L293.66 199.19 L294.04 198.47 L294.41 197.68 L294.79 196.82 L295.16 195.91 L295.54 194.94 L295.92 193.93 L296.29 192.91 L296.67 191.88 L297.04 190.88 L297.42 189.92 L297.79 189.03 L298.17 188.22 L298.54 187.5 L298.92 186.88 L299.29 186.35 L299.67 185.92 L300.05 185.56 L300.42 185.27 L300.8 185.03 L301.17 184.84 L301.55 184.69 L301.92 184.56 L302.3 184.44 L302.67 184.35 L303.05 184.26 L303.42 184.18 L303.8 184.1 L303.8 184.1 L303.42 184.17 L303.05 184.24 L302.67 184.31 L302.3 184.38 L301.92 184.45 L301.55 184.52 L301.17 184.59 L300.8 184.65 L300.42 184.72 L300.05 184.79 L299.67 184.86 L299.29 184.93 L298.92 185 L298.54 185.06 L298.17 185.13 L297.79 185.2 L297.42 185.26 L297.04 185.33 L296.67 185.4 L296.29 185.46 L295.92 185.53 L295.54 185.59 L295.16 185.65 L294.79 185.72 L294.41 185.78 L294.04 185.84 L293.66 185.9 L293.29 185.96 L292.91 186.02 L292.54 186.07 L292.16 186.13 L291.79 186.19 L291.41 186.24 L291.03 186.29 L290.66 186.34 L290.28 186.39 L289.91 186.44 L289.53 186.48 L289.16 186.52 L288.78 186.56 L288.41 186.6 L288.03 186.64 L287.66 186.68 L287.28 186.71 L286.9 186.74 L286.53 186.77 L286.15 186.8 L285.78 186.83 L285.4 186.86 L285.03 186.89 L284.65 186.92 L284.28 186.96 L283.9 187 L283.53 187.04 L283.15 187.1 L282.77 187.17 L282.4 187.24 L282.02 187.34 L281.65 187.46 L281.27 187.59 L280.9 187.76 L280.52 187.95 L280.15 188.18 L279.77 188.44 L279.4 188.74 L279.02 189.08 L278.64 189.47 L278.27 189.89 L277.89 190.35 L277.52 190.85 L277.14 191.38 L276.77 191.94 L276.39 192.53 L276.02 193.13 L275.64 193.75 L275.27 194.38 L274.89 195.01 L274.51 195.63 L274.14 196.25 L273.76 196.86 L273.39 197.46 L273.01 198.03 L272.64 198.59 L272.26 199.12 L271.89 199.63 L271.51 200.12 L271.14 200.58 L270.76 201.01 L270.38 201.43 L270.01 201.81 L269.63 202.18 L269.26 202.52 L268.88 202.84 L268.51 203.14 L268.13 203.43 L267.76 203.69 L267.38 203.94 L267.01 204.18 L266.63 204.39 L266.25 204.6 L265.88 204.79 L265.5 204.98 L265.13 205.15 L264.75 205.31 L264.38 205.47 L264 205.61 L263.63 205.75 L263.25 205.89 L262.88 206.01 L262.5 206.13 L262.12 206.25 L261.75 206.36 L261.37 206.47 L261 206.57 L260.62 206.67 L260.25 206.77 L259.87 206.87 L259.5 206.96 L259.12 207.05 L258.75 207.14 L258.37 207.23 L257.99 207.31 L257.62 207.4 L257.24 207.48 L256.87 207.56 L256.49 207.64 L256.12 207.72 L255.74 207.8 L255.37 207.87 L254.99 207.95 L254.62 208.03 L254.24 208.1 L253.86 208.18 L253.49 208.25 L253.11 208.33 L252.74 208.4 L252.36 208.47 L251.99 208.55 L251.61 208.62 L251.24 208.69 L250.86 208.77 L250.49 208.84 L250.11 208.91 L249.73 208.98 L249.36 209.05 L248.98 209.13 L248.61 209.2 L248.23 209.27 L247.86 209.34 L247.48 209.41 L247.11 209.48 L246.73 209.55 L246.36 209.63 L245.98 209.7 L245.6 209.77 L245.23 209.84 L244.85 209.91 L244.48 209.98 L244.1 210.06 L243.73 210.13 L243.35 210.2 L242.98 210.28 L242.6 210.35 L242.23 210.43 L241.85 210.5 L241.47 210.58 L241.1 210.66 L240.72 210.73 L240.35 210.82 L239.97 210.9 L239.6 210.98 L239.22 211.07 L238.85 211.16 L238.47 211.26 L238.1 211.36 L237.72 211.47 L237.34 211.58 L236.97 211.7 L236.59 211.83 L236.22 211.97 L235.84 212.13 L235.47 212.3 L235.09 212.48 L234.72 212.69 L234.34 212.92 L233.97 213.19 L233.59 213.48 L233.21 213.81 L232.84 214.17 L232.46 214.59 L232.09 215.05 L231.71 215.56 L231.34 216.12 L230.96 216.74 L230.59 217.42 L230.21 218.14 L229.84 218.91 L229.46 219.72 L229.08 220.56 L228.71 221.41 L228.33 222.27 L227.96 223.12 L227.58 223.95 L227.21 224.75 L226.83 225.5 L226.46 226.21 L226.08 226.86 L225.71 227.46 L225.33 228 L224.95 228.49 L224.58 228.92 L224.2 229.31 L223.83 229.65 L223.45 229.96 L223.08 230.23 L222.7 230.47 L222.33 230.68 L221.95 230.87 L221.58 231.04 L221.2 231.2Z" fill="none" stroke="#98a840" stroke-width="1.5" stroke-linejoin="round"/>
<path d="M215 252.5 L215.43 252.42 L215.85 252.34 L216.28 252.27 L216.7 252.19 L217.12 252.11 L217.55 252.04 L217.97 251.96 L218.4 251.89 L218.82 251.82 L219.25 251.75 L219.68 251.68 L220.1 251.62 L220.53 251.55 L220.95 251.49 L221.38 251.42 L221.8 251.36 L222.22 251.3 L222.65 251.24 L223.07 251.19 L223.5 251.13 L223.93 251.08 L224.35 251.03 L224.78 250.98 L225.2 250.94 L225.62 250.89 L226.05 250.85 L226.47 250.81 L226.9 250.78 L227.32 250.74 L227.75 250.71 L228.18 250.68 L228.6 250.66 L229.03 250.63 L229.45 250.61 L229.88 250.59 L230.3 250.57 L230.72 250.56 L231.15 250.55 L231.57 250.53 L232 250.53 L232.43 250.52 L232.85 250.51 L233.28 250.5 L233.7 250.5 L234.12 250.49 L234.55 250.49 L234.97 250.48 L235.4 250.47 L235.82 250.46 L236.25 250.44 L236.68 250.43 L237.1 250.4 L237.53 250.37 L237.95 250.33 L238.38 250.29 L238.8 250.24 L239.22 250.17 L239.65 250.1 L240.07 250.01 L240.5 249.9 L240.93 249.79 L241.35 249.65 L241.78 249.5 L242.2 249.33 L242.62 249.15 L243.05 248.94 L243.47 248.72 L243.9 248.47 L244.32 248.21 L244.75 247.92 L245.18 247.62 L245.6 247.3 L246.03 246.96 L246.45 246.6 L246.88 246.23 L247.3 245.84 L247.72 245.44 L248.15 245.03 L248.57 244.61 L249 244.18 L249.43 243.75 L249.85 243.31 L250.28 242.86 L250.7 242.41 L251.12 241.96 L251.55 241.52 L251.97 241.07 L252.4 240.63 L252.82 240.19 L253.25 239.76 L253.68 239.33 L254.1 238.91 L254.53 238.49 L254.95 238.08 L255.38 237.69 L255.8 237.3 L256.23 236.92 L256.65 236.54 L257.07 236.18 L257.5 235.83 L257.93 235.49 L258.35 235.15 L258.77 234.83 L259.2 234.51 L259.62 234.2 L260.05 233.91 L260.48 233.62 L260.9 233.34 L261.32 233.07 L261.75 232.8 L262.18 232.55 L262.6 232.3 L263.02 232.06 L263.45 231.83 L263.88 231.6 L264.3 231.38 L264.73 231.17 L265.15 230.96 L265.57 230.76 L266 230.56 L266.43 230.37 L266.85 230.19 L267.27 230.01 L267.7 229.83 L268.12 229.66 L268.55 229.49 L268.98 229.33 L269.4 229.17 L269.82 229.02 L270.25 228.86 L270.68 228.71 L271.1 228.57 L271.52 228.43 L271.95 228.29 L272.38 228.15 L272.8 228.01 L273.23 227.88 L273.65 227.75 L274.07 227.62 L274.5 227.49 L274.93 227.37 L275.35 227.25 L275.77 227.13 L276.2 227.01 L276.62 226.89 L277.05 226.77 L277.48 226.66 L277.9 226.54 L278.32 226.43 L278.75 226.32 L279.18 226.21 L279.6 226.1 L280.02 225.99 L280.45 225.88 L280.88 225.77 L281.3 225.67 L281.73 225.56 L282.15 225.45 L282.57 225.35 L283 225.24 L283.43 225.14 L283.85 225.03 L284.27 224.93 L284.7 224.82 L285.12 224.72 L285.55 224.61 L285.98 224.5 L286.4 224.4 L286.82 224.29 L287.25 224.18 L287.68 224.06 L288.1 223.95 L288.52 223.83 L288.95 223.7 L289.38 223.57 L289.8 223.44 L290.23 223.29 L290.65 223.14 L291.07 222.98 L291.5 222.8 L291.93 222.61 L292.35 222.4 L292.77 222.17 L293.2 221.91 L293.62 221.62 L294.05 221.3 L294.48 220.94 L294.9 220.54 L295.32 220.09 L295.75 219.58 L296.18 219.02 L296.6 218.39 L297.02 217.7 L297.45 216.95 L297.88 216.14 L298.3 215.27 L298.73 214.36 L299.15 213.41 L299.57 212.44 L300 211.48 L300.43 210.53 L300.85 209.62 L301.27 208.77 L301.7 208 L302.12 207.31 L302.55 206.71 L302.98 206.2 L303.4 205.77 L303.82 205.41 L304.25 205.11 L304.68 204.87 L305.1 204.67 L305.52 204.5 L305.95 204.35 L306.38 204.22 L306.8 204.1 L307.23 203.99 L307.65 203.89 L308.07 203.79 L308.5 203.7 L308.5 203.7 L308.07 203.79 L307.65 203.88 L307.23 203.98 L306.8 204.07 L306.38 204.16 L305.95 204.25 L305.52 204.35 L305.1 204.44 L304.68 204.53 L304.25 204.62 L303.82 204.71 L303.4 204.8 L302.98 204.89 L302.55 204.99 L302.12 205.08 L301.7 205.17 L301.27 205.26 L300.85 205.34 L300.43 205.43 L300 205.52 L299.57 205.61 L299.15 205.7 L298.73 205.79 L298.3 205.87 L297.88 205.96 L297.45 206.04 L297.02 206.13 L296.6 206.21 L296.18 206.29 L295.75 206.38 L295.32 206.46 L294.9 206.54 L294.48 206.61 L294.05 206.69 L293.62 206.77 L293.2 206.84 L292.77 206.91 L292.35 206.98 L291.93 207.05 L291.5 207.12 L291.07 207.18 L290.65 207.25 L290.23 207.31 L289.8 207.37 L289.38 207.43 L288.95 207.49 L288.52 207.54 L288.1 207.6 L287.68 207.66 L287.25 207.71 L286.82 207.77 L286.4 207.84 L285.98 207.9 L285.55 207.97 L285.12 208.05 L284.7 208.14 L284.27 208.24 L283.85 208.35 L283.43 208.48 L283 208.63 L282.57 208.8 L282.15 209 L281.73 209.23 L281.3 209.49 L280.88 209.78 L280.45 210.11 L280.02 210.47 L279.6 210.87 L279.18 211.31 L278.75 211.77 L278.32 212.27 L277.9 212.8 L277.48 213.35 L277.05 213.92 L276.62 214.5 L276.2 215.08 L275.77 215.68 L275.35 216.27 L274.93 216.85 L274.5 217.43 L274.07 217.99 L273.65 218.54 L273.23 219.07 L272.8 219.58 L272.38 220.07 L271.95 220.53 L271.52 220.98 L271.1 221.4 L270.68 221.8 L270.25 222.18 L269.82 222.54 L269.4 222.88 L268.98 223.2 L268.55 223.51 L268.12 223.79 L267.7 224.06 L267.27 224.32 L266.85 224.56 L266.43 224.78 L266 225 L265.57 225.21 L265.15 225.4 L264.73 225.59 L264.3 225.76 L263.88 225.93 L263.45 226.1 L263.02 226.25 L262.6 226.4 L262.18 226.55 L261.75 226.69 L261.32 226.82 L260.9 226.95 L260.48 227.08 L260.05 227.2 L259.62 227.32 L259.2 227.44 L258.77 227.56 L258.35 227.67 L257.93 227.78 L257.5 227.89 L257.07 228 L256.65 228.11 L256.23 228.21 L255.8 228.32 L255.38 228.42 L254.95 228.52 L254.53 228.62 L254.1 228.72 L253.68 228.82 L253.25 228.92 L252.82 229.02 L252.4 229.12 L251.97 229.22 L251.55 229.31 L251.12 229.41 L250.7 229.51 L250.28 229.6 L249.85 229.7 L249.43 229.79 L249 229.89 L248.57 229.98 L248.15 230.08 L247.72 230.17 L247.3 230.27 L246.88 230.36 L246.45 230.46 L246.03 230.55 L245.6 230.65 L245.18 230.74 L244.75 230.83 L244.32 230.93 L243.9 231.02 L243.47 231.12 L243.05 231.21 L242.62 231.31 L242.2 231.4 L241.78 231.5 L241.35 231.59 L240.93 231.69 L240.5 231.78 L240.07 231.88 L239.65 231.98 L239.22 232.07 L238.8 232.17 L238.38 232.27 L237.95 232.37 L237.53 232.48 L237.1 232.58 L236.68 232.69 L236.25 232.79 L235.82 232.91 L235.4 233.02 L234.97 233.14 L234.55 233.26 L234.12 233.39 L233.7 233.53 L233.28 233.68 L232.85 233.83 L232.43 234 L232 234.18 L231.57 234.37 L231.15 234.59 L230.72 234.82 L230.3 235.08 L229.88 235.37 L229.45 235.68 L229.03 236.04 L228.6 236.43 L228.18 236.86 L227.75 237.34 L227.32 237.87 L226.9 238.45 L226.47 239.07 L226.05 239.74 L225.62 240.45 L225.2 241.2 L224.78 241.97 L224.35 242.76 L223.93 243.56 L223.5 244.35 L223.07 245.12 L222.65 245.87 L222.22 246.58 L221.8 247.25 L221.38 247.87 L220.95 248.44 L220.53 248.96 L220.1 249.43 L219.68 249.85 L219.25 250.23 L218.82 250.58 L218.4 250.88 L217.97 251.16 L217.55 251.41 L217.12 251.63 L216.7 251.84 L216.28 252.02 L215.85 252.19 L215.43 252.35 L215 252.5Z" fill="none" stroke="#5a7a34" stroke-width="1.5" stroke-linejoin="round"/>
<path d="M209.9 274.4 L210.38 274.29 L210.85 274.17 L211.33 274.06 L211.8 273.95 L212.28 273.83 L212.75 273.72 L213.23 273.61 L213.7 273.49 L214.18 273.38 L214.65 273.27 L215.13 273.16 L215.61 273.05 L216.08 272.94 L216.56 272.83 L217.03 272.72 L217.51 272.62 L217.98 272.51 L218.46 272.4 L218.93 272.3 L219.41 272.2 L219.88 272.09 L220.36 271.99 L220.84 271.9 L221.31 271.8 L221.79 271.71 L222.26 271.62 L222.74 271.53 L223.21 271.45 L223.69 271.36 L224.16 271.29 L224.64 271.22 L225.11 271.15 L225.59 271.09 L226.07 271.03 L226.54 270.98 L227.02 270.94 L227.49 270.9 L227.97 270.88 L228.44 270.86 L228.92 270.85 L229.39 270.85 L229.87 270.86 L230.34 270.87 L230.82 270.9 L231.3 270.93 L231.77 270.97 L232.25 271.02 L232.72 271.07 L233.2 271.12 L233.67 271.16 L234.15 271.2 L234.62 271.23 L235.1 271.23 L235.57 271.21 L236.05 271.16 L236.53 271.07 L237 270.92 L237.48 270.73 L237.95 270.48 L238.43 270.16 L238.9 269.79 L239.38 269.35 L239.85 268.85 L240.33 268.3 L240.8 267.71 L241.28 267.08 L241.76 266.43 L242.23 265.76 L242.71 265.08 L243.18 264.4 L243.66 263.74 L244.13 263.08 L244.61 262.45 L245.08 261.85 L245.56 261.27 L246.03 260.72 L246.51 260.2 L246.99 259.71 L247.46 259.25 L247.94 258.82 L248.41 258.41 L248.89 258.04 L249.36 257.69 L249.84 257.36 L250.31 257.05 L250.79 256.76 L251.26 256.49 L251.74 256.23 L252.22 255.99 L252.69 255.76 L253.17 255.55 L253.64 255.35 L254.12 255.15 L254.59 254.97 L255.07 254.79 L255.54 254.62 L256.02 254.46 L256.49 254.3 L256.97 254.14 L257.45 253.99 L257.92 253.85 L258.4 253.71 L258.87 253.57 L259.35 253.43 L259.82 253.3 L260.3 253.17 L260.77 253.04 L261.25 252.91 L261.72 252.78 L262.2 252.66 L262.68 252.54 L263.15 252.41 L263.63 252.29 L264.1 252.17 L264.58 252.05 L265.05 251.93 L265.53 251.81 L266 251.69 L266.48 251.57 L266.95 251.46 L267.43 251.34 L267.91 251.22 L268.38 251.1 L268.86 250.99 L269.33 250.87 L269.81 250.76 L270.28 250.64 L270.76 250.52 L271.23 250.41 L271.71 250.29 L272.18 250.18 L272.66 250.06 L273.14 249.94 L273.61 249.83 L274.09 249.71 L274.56 249.6 L275.04 249.48 L275.51 249.37 L275.99 249.25 L276.46 249.14 L276.94 249.02 L277.41 248.91 L277.89 248.79 L278.37 248.68 L278.84 248.56 L279.32 248.45 L279.79 248.33 L280.27 248.22 L280.74 248.1 L281.22 247.99 L281.69 247.87 L282.17 247.76 L282.64 247.64 L283.12 247.53 L283.6 247.41 L284.07 247.29 L284.55 247.18 L285.02 247.06 L285.5 246.95 L285.97 246.83 L286.45 246.72 L286.92 246.6 L287.4 246.49 L287.87 246.37 L288.35 246.25 L288.83 246.14 L289.3 246.02 L289.78 245.9 L290.25 245.78 L290.73 245.66 L291.2 245.54 L291.68 245.41 L292.15 245.29 L292.63 245.16 L293.1 245.02 L293.58 244.89 L294.06 244.74 L294.53 244.59 L295.01 244.43 L295.48 244.26 L295.96 244.07 L296.43 243.87 L296.91 243.64 L297.38 243.38 L297.86 243.09 L298.33 242.76 L298.81 242.38 L299.29 241.94 L299.76 241.43 L300.24 240.84 L300.71 240.15 L301.19 239.38 L301.66 238.49 L302.14 237.5 L302.61 236.41 L303.09 235.23 L303.56 233.99 L304.04 232.71 L304.52 231.45 L304.99 230.26 L305.47 229.19 L305.94 228.3 L306.42 227.6 L306.89 227.08 L307.37 226.71 L307.84 226.45 L308.32 226.26 L308.79 226.12 L309.27 226 L309.75 225.9 L310.22 225.81 L310.7 225.72 L311.17 225.62 L311.65 225.53 L312.12 225.43 L312.6 225.33 L313.07 225.22 L313.55 225.12 L314.02 225.01 L314.5 224.9 L314.5 224.9 L314.02 225.01 L313.55 225.12 L313.07 225.23 L312.6 225.34 L312.12 225.45 L311.65 225.56 L311.17 225.67 L310.7 225.78 L310.22 225.89 L309.75 226 L309.27 226.11 L308.79 226.22 L308.32 226.33 L307.84 226.44 L307.37 226.55 L306.89 226.66 L306.42 226.77 L305.94 226.87 L305.47 226.98 L304.99 227.09 L304.52 227.2 L304.04 227.31 L303.56 227.42 L303.09 227.53 L302.61 227.64 L302.14 227.75 L301.66 227.86 L301.19 227.97 L300.71 228.08 L300.24 228.19 L299.76 228.3 L299.29 228.41 L298.81 228.52 L298.33 228.63 L297.86 228.74 L297.38 228.85 L296.91 228.96 L296.43 229.07 L295.96 229.18 L295.48 229.29 L295.01 229.4 L294.53 229.51 L294.06 229.62 L293.58 229.73 L293.1 229.84 L292.63 229.95 L292.15 230.06 L291.68 230.17 L291.2 230.28 L290.73 230.39 L290.25 230.5 L289.78 230.6 L289.3 230.71 L288.83 230.82 L288.35 230.93 L287.87 231.04 L287.4 231.15 L286.92 231.26 L286.45 231.37 L285.97 231.49 L285.5 231.6 L285.02 231.71 L284.55 231.83 L284.07 231.96 L283.6 232.09 L283.12 232.23 L282.64 232.39 L282.17 232.57 L281.69 232.78 L281.22 233.04 L280.74 233.37 L280.27 233.77 L279.79 234.29 L279.32 234.93 L278.84 235.71 L278.37 236.63 L277.89 237.69 L277.41 238.83 L276.94 240.01 L276.46 241.17 L275.99 242.26 L275.51 243.24 L275.04 244.1 L274.56 244.83 L274.09 245.44 L273.61 245.94 L273.14 246.36 L272.66 246.7 L272.18 246.99 L271.71 247.24 L271.23 247.45 L270.76 247.63 L270.28 247.8 L269.81 247.95 L269.33 248.09 L268.86 248.22 L268.38 248.35 L267.91 248.47 L267.43 248.59 L266.95 248.7 L266.48 248.82 L266 248.93 L265.53 249.04 L265.05 249.16 L264.58 249.27 L264.1 249.38 L263.63 249.49 L263.15 249.6 L262.68 249.71 L262.2 249.82 L261.72 249.93 L261.25 250.04 L260.77 250.15 L260.3 250.26 L259.82 250.37 L259.35 250.48 L258.87 250.59 L258.4 250.7 L257.92 250.81 L257.45 250.92 L256.97 251.03 L256.49 251.14 L256.02 251.25 L255.54 251.36 L255.07 251.47 L254.59 251.58 L254.12 251.69 L253.64 251.8 L253.17 251.9 L252.69 252.01 L252.22 252.12 L251.74 252.23 L251.26 252.34 L250.79 252.45 L250.31 252.56 L249.84 252.67 L249.36 252.78 L248.89 252.89 L248.41 253 L247.94 253.11 L247.46 253.22 L246.99 253.33 L246.51 253.44 L246.03 253.55 L245.56 253.66 L245.08 253.77 L244.61 253.88 L244.13 253.99 L243.66 254.1 L243.18 254.21 L242.71 254.32 L242.23 254.43 L241.76 254.54 L241.28 254.65 L240.8 254.76 L240.33 254.87 L239.85 254.98 L239.38 255.09 L238.9 255.2 L238.43 255.31 L237.95 255.42 L237.48 255.53 L237 255.64 L236.53 255.75 L236.05 255.86 L235.57 255.97 L235.1 256.08 L234.62 256.19 L234.15 256.3 L233.67 256.41 L233.2 256.52 L232.72 256.64 L232.25 256.75 L231.77 256.87 L231.3 256.98 L230.82 257.1 L230.34 257.22 L229.87 257.35 L229.39 257.48 L228.92 257.62 L228.44 257.77 L227.97 257.93 L227.49 258.1 L227.02 258.3 L226.54 258.52 L226.07 258.77 L225.59 259.06 L225.11 259.4 L224.64 259.81 L224.16 260.29 L223.69 260.85 L223.21 261.51 L222.74 262.28 L222.26 263.15 L221.79 264.12 L221.31 265.16 L220.84 266.24 L220.36 267.33 L219.88 268.37 L219.41 269.32 L218.93 270.16 L218.46 270.87 L217.98 271.44 L217.51 271.9 L217.03 272.27 L216.56 272.55 L216.08 272.78 L215.61 272.97 L215.13 273.13 L214.65 273.27 L214.18 273.4 L213.7 273.52 L213.23 273.64 L212.75 273.75 L212.28 273.86 L211.8 273.97 L211.33 274.08 L210.85 274.18 L210.38 274.29 L209.9 274.4Z" fill="none" stroke="#2a5e3a" stroke-width="1.5" stroke-linejoin="round"/>
<circle cx="406.5" cy="13.8" r="1.65" fill="#14147e" stroke="none" stroke-width="0"/>
<circle cx="415.9" cy="18.4" r="1.65" fill="#14147e" stroke="none" stroke-width="0"/>
<circle cx="418.6" cy="19.4" r="1.65" fill="#14147e" stroke="none" stroke-width="0"/>
<circle cx="425.3" cy="22.5" r="1.65" fill="#14147e" stroke="none" stroke-width="0"/>
<circle cx="432" cy="25.5" r="1.65" fill="#14147e" stroke="none" stroke-width="0"/>
<circle cx="438.8" cy="28.6" r="1.65" fill="#14147e" stroke="none" stroke-width="0"/>
<circle cx="442.9" cy="29.6" r="1.65" fill="#14147e" stroke="none" stroke-width="0"/>
<circle cx="445.2" cy="31.7" r="1.65" fill="#14147e" stroke="none" stroke-width="0"/>
<circle cx="452" cy="35.2" r="1.65" fill="#14147e" stroke="none" stroke-width="0"/>
<circle cx="458.8" cy="38.5" r="1.65" fill="#14147e" stroke="none" stroke-width="0"/>
<circle cx="465.6" cy="42.1" r="1.65" fill="#14147e" stroke="none" stroke-width="0"/>
<circle cx="472.3" cy="45.6" r="1.65" fill="#14147e" stroke="none" stroke-width="0"/>
<circle cx="479" cy="48.5" r="1.65" fill="#14147e" stroke="none" stroke-width="0"/>
<circle cx="485.8" cy="52.4" r="1.65" fill="#14147e" stroke="none" stroke-width="0"/>
<circle cx="406.2" cy="49" r="1.45" fill="none" stroke="#2e3096" stroke-width="1.05"/>
<circle cx="415.9" cy="49.4" r="1.45" fill="none" stroke="#2e3096" stroke-width="1.05"/>
<circle cx="418.6" cy="50.4" r="1.45" fill="none" stroke="#2e3096" stroke-width="1.05"/>
<circle cx="425" cy="53.9" r="1.45" fill="none" stroke="#2e3096" stroke-width="1.05"/>
<circle cx="431.9" cy="55.2" r="1.45" fill="none" stroke="#2e3096" stroke-width="1.05"/>
<circle cx="438.6" cy="56.6" r="1.45" fill="none" stroke="#2e3096" stroke-width="1.05"/>
<circle cx="445.2" cy="61.5" r="1.45" fill="none" stroke="#2e3096" stroke-width="1.05"/>
<circle cx="452" cy="63.1" r="1.45" fill="none" stroke="#2e3096" stroke-width="1.05"/>
<circle cx="458.8" cy="66.1" r="1.45" fill="none" stroke="#2e3096" stroke-width="1.05"/>
<circle cx="465.6" cy="68.1" r="1.45" fill="none" stroke="#2e3096" stroke-width="1.05"/>
<circle cx="472.3" cy="68.8" r="1.45" fill="none" stroke="#2e3096" stroke-width="1.05"/>
<circle cx="479" cy="72.1" r="1.45" fill="none" stroke="#2e3096" stroke-width="1.05"/>
<circle cx="406.5" cy="99" r="1.45" fill="none" stroke="#b0232a" stroke-width="1.05"/>
<circle cx="415.9" cy="97.2" r="1.45" fill="none" stroke="#b0232a" stroke-width="1.05"/>
<circle cx="418.6" cy="96.1" r="1.45" fill="none" stroke="#b0232a" stroke-width="1.05"/>
<circle cx="425" cy="91.2" r="1.45" fill="none" stroke="#b0232a" stroke-width="1.05"/>
<circle cx="432" cy="89.1" r="1.45" fill="none" stroke="#b0232a" stroke-width="1.05"/>
<circle cx="438.8" cy="88.1" r="1.45" fill="none" stroke="#b0232a" stroke-width="1.05"/>
<circle cx="445.2" cy="83.1" r="1.45" fill="none" stroke="#b0232a" stroke-width="1.05"/>
<circle cx="452" cy="84" r="1.45" fill="none" stroke="#b0232a" stroke-width="1.05"/>
<circle cx="458.8" cy="78.2" r="1.45" fill="none" stroke="#b0232a" stroke-width="1.05"/>
<circle cx="465.6" cy="77.3" r="1.45" fill="none" stroke="#b0232a" stroke-width="1.05"/>
<circle cx="472.3" cy="74.6" r="1.45" fill="none" stroke="#b0232a" stroke-width="1.05"/>
<circle cx="479" cy="69.2" r="1.45" fill="none" stroke="#b0232a" stroke-width="1.05"/>
<circle cx="406.5" cy="132.3" r="1.65" fill="#a8101c" stroke="none" stroke-width="0"/>
<circle cx="415.9" cy="127.2" r="1.65" fill="#a8101c" stroke="none" stroke-width="0"/>
<circle cx="418.3" cy="126" r="1.65" fill="#a8101c" stroke="none" stroke-width="0"/>
<circle cx="425.3" cy="121.5" r="1.65" fill="#a8101c" stroke="none" stroke-width="0"/>
<circle cx="432" cy="119.1" r="1.65" fill="#a8101c" stroke="none" stroke-width="0"/>
<circle cx="438.8" cy="116.6" r="1.65" fill="#a8101c" stroke="none" stroke-width="0"/>
<circle cx="442.8" cy="115.9" r="1.65" fill="#a8101c" stroke="none" stroke-width="0"/>
<circle cx="445.2" cy="112.5" r="1.65" fill="#a8101c" stroke="none" stroke-width="0"/>
<circle cx="452" cy="109.8" r="1.65" fill="#a8101c" stroke="none" stroke-width="0"/>
<circle cx="458.8" cy="106" r="1.65" fill="#a8101c" stroke="none" stroke-width="0"/>
<circle cx="465.6" cy="102.8" r="1.65" fill="#a8101c" stroke="none" stroke-width="0"/>
<circle cx="472.3" cy="98.5" r="1.65" fill="#a8101c" stroke="none" stroke-width="0"/>
<circle cx="479" cy="94.7" r="1.65" fill="#a8101c" stroke="none" stroke-width="0"/>
<path d="M485.6 64.5L487.8 68.35L483.4 68.35Z" fill="#12128a"/>
<path d="M492.3 62.5L494.5 66.35L490.1 66.35Z" fill="#12128a"/>
<path d="M498.9 62.5L501.1 66.35L496.7 66.35Z" fill="#12128a"/>
<path d="M505.8 62L508 65.85L503.6 65.85Z" fill="#12128a"/>
<path d="M512.2 62.5L514.4 66.35L510 66.35Z" fill="#12128a"/>
<path d="M485.6 68.2L487.8 72.05L483.4 72.05Z" fill="#a00d1a"/>
<path d="M492.3 70.6L494.5 74.45L490.1 74.45Z" fill="#a00d1a"/>
<path d="M498.9 70.6L501.1 74.45L496.7 74.45Z" fill="#a00d1a"/>
<path d="M505.8 71L508 74.85L503.6 74.85Z" fill="#a00d1a"/>
<path d="M512.2 71.7L514.4 75.55L510 75.55Z" fill="#a00d1a"/>
<path d="M400.8 164L404.6 162L408.4 164L404.6 166Z" fill="#6e6e6e" stroke="none" stroke-width="0"/>
<path d="M412 158.6L415.8 156.6L419.6 158.6L415.8 160.6Z" fill="#6e6e6e" stroke="none" stroke-width="0"/>
<path d="M424.2 156.6L428 154.6L431.8 156.6L428 158.6Z" fill="#6e6e6e" stroke="none" stroke-width="0"/>
<path d="M436 162.8L439.8 160.8L443.6 162.8L439.8 164.8Z" fill="#6e6e6e" stroke="none" stroke-width="0"/>
<path d="M448.2 162.8L452 160.8L455.8 162.8L452 164.8Z" fill="#6e6e6e" stroke="none" stroke-width="0"/>
<path d="M491 162.8L494.8 160.8L498.6 162.8L494.8 164.8Z" fill="#6e6e6e" stroke="none" stroke-width="0"/>
<path d="M466.7 179.9L470.5 177.6L474.3 179.9L470.5 182.2Z" fill="#6e6e6e" stroke="none" stroke-width="0"/>
<path d="M464.2 154.6V163.8M461.5 154.6h5.4M461.5 163.8h5.4" stroke="#8a8a8a" stroke-width="0.75" fill="none"/>
<circle cx="464.2" cy="159.2" r="1.9" fill="#6e6e6e" stroke="none" stroke-width="0"/>
<path d="M482.7 165.5V173.2M480 165.5h5.4M480 173.2h5.4" stroke="#8a8a8a" stroke-width="0.75" fill="none"/>
<circle cx="482.7" cy="169.3" r="1.9" fill="#6e6e6e" stroke="none" stroke-width="0"/>
<path d="M476.3 191.3V200.9M473.6 191.3h5.4M473.6 200.9h5.4" stroke="#8a8a8a" stroke-width="0.75" fill="none"/>
<circle cx="476.3" cy="196.1" r="1.9" fill="#6e6e6e" stroke="none" stroke-width="0"/>
<path d="M484.6 152.0H492.0L489.0 154.7L492.0 157.4H484.6L487.6 154.7Z" fill="#6a6a6a" stroke="#8a8a8a" stroke-width="0.6"/>
<circle cx="488.3" cy="154.7" r="1.6" fill="#6e6e6e" stroke="none" stroke-width="0"/>
<circle cx="458.5" cy="171.1" r="2.0" fill="#6e6e6e" stroke="none" stroke-width="0"/>
<circle cx="501" cy="153.6" r="2.0" fill="#6e6e6e" stroke="none" stroke-width="0"/>
<path d="M401.3 271.3L404.6 269.5L407.9 271.3L404.6 273.1Z" fill="none" stroke="#555555" stroke-width="1.4"/>
<path d="M412.2 271.6L415.5 269.8L418.8 271.6L415.5 273.4Z" fill="none" stroke="#555555" stroke-width="1.4"/>
<path d="M424.7 263.7L428 261.9L431.3 263.7L428 265.5Z" fill="none" stroke="#555555" stroke-width="1.4"/>
<path d="M436.5 263.3L439.8 261.5L443.1 263.3L439.8 265.1Z" fill="none" stroke="#555555" stroke-width="1.4"/>
<path d="M448.9 260.4L452.2 258.6L455.5 260.4L452.2 262.2Z" fill="none" stroke="#555555" stroke-width="1.4"/>
<path d="M460.9 244.5L464.2 242.7L467.5 244.5L464.2 246.3Z" fill="none" stroke="#555555" stroke-width="1.4"/>
<path d="M467 248.2L470.3 246.4L473.6 248.2L470.3 250Z" fill="none" stroke="#555555" stroke-width="1.4"/>
<path d="M473 249.6L476.3 247.8L479.6 249.6L476.3 251.4Z" fill="none" stroke="#555555" stroke-width="1.4"/>
<path d="M479.1 234.2L482.4 232.4L485.7 234.2L482.4 236Z" fill="none" stroke="#555555" stroke-width="1.4"/>
<path d="M485.2 225.3L488.5 223.5L491.8 225.3L488.5 227.1Z" fill="none" stroke="#555555" stroke-width="1.4"/>
<path d="M491.2 231L494.5 229.2L497.8 231L494.5 232.8Z" fill="none" stroke="#555555" stroke-width="1.4"/>
<path d="M497.5 207.6L500.8 205.8L504.1 207.6L500.8 209.4Z" fill="none" stroke="#555555" stroke-width="1.4"/>
<circle cx="421.9" cy="265.4" r="1.6" fill="none" stroke="#555555" stroke-width="1.3"/>
<circle cx="458.1" cy="272.4" r="1.7" fill="none" stroke="#555555" stroke-width="1.3"/>
<path d="M29.4 284.77h2.6M29.4 267.19h1.6M29.4 249.6h2.6M29.4 232.01h1.6M29.4 214.43h2.6M29.4 196.84h1.6M29.4 179.25h2.6M29.4 161.66h1.6M29.4 144.07h2.6M29.4 126.49h1.6M29.4 108.9h2.6M29.4 91.31h1.6M29.4 73.72h2.6M29.4 56.14h1.6M29.4 38.55h2.6M29.4 20.96h1.6M29.4 3.38h2.6M29.4 284.7v-2.6M40.58 284.7v-1.6M51.75 284.7v-2.6M62.93 284.7v-1.6M74.1 284.7v-2.6M85.28 284.7v-1.6M96.45 284.7v-2.6M107.62 284.7v-1.6M118.8 284.7v-2.6M129.97 284.7v-1.6M141.15 284.7v-2.6M152.33 284.7v-1.6M163.5 284.7v-2.6M203.4 284.77h2.6M203.4 267.19h1.6M203.4 249.6h2.6M203.4 232.01h1.6M203.4 214.43h2.6M203.4 196.84h1.6M203.4 179.25h2.6M203.4 161.66h1.6M203.4 144.07h2.6M203.4 126.49h1.6M203.4 108.9h2.6M203.4 91.31h1.6M203.4 73.72h2.6M203.4 56.14h1.6M203.4 38.55h2.6M203.4 20.96h1.6M203.4 3.38h2.6M203.4 284.5v-1.6M215.2 284.5v-2.6M227 284.5v-1.6M238.8 284.5v-2.6M250.6 284.5v-1.6M262.4 284.5v-2.6M274.2 284.5v-1.6M286 284.5v-2.6M297.8 284.5v-1.6M309.6 284.5v-2.6M321.4 284.5v-1.6M333.2 284.5v-2.6M385.7 140.07h-1.4M385.7 124.91h-1.4M385.7 109.75h-1.4M385.7 94.59h-1.4M385.7 79.43h-1.4M385.7 64.27h-1.4M385.7 49.11h-1.4M385.7 33.95h-1.4M385.7 18.79h-1.4M385.7 3.63h-1.4M385.7 132.49h-2.4M385.7 117.33h-2.4M385.7 102.17h-2.4M385.7 87.01h-2.4M385.7 71.85h-2.4M385.7 56.69h-2.4M385.7 41.53h-2.4M385.7 26.37h-2.4M385.7 11.21h-2.4M399.4 143.6v-1.6M412.7 143.6v-1.6M426 143.6v-1.6M439.3 143.6v-1.6M452.6 143.6v-1.6M465.9 143.6v-1.6M479.2 143.6v-1.6M492.5 143.6v-1.6M505.8 143.6v-1.6M519.1 143.6v-1.6M385.7 284.6h-2.4M385.7 259.02h-2.4M385.7 233.44h-2.4M385.7 207.86h-2.4M385.7 182.28h-2.4M385.7 156.7h-2.4M386 284.7v2M398.07 284.7v1.4M410.15 284.7v2M422.23 284.7v1.4M434.3 284.7v2M446.38 284.7v1.4M458.45 284.7v2M470.52 284.7v1.4M482.6 284.7v2M494.68 284.7v1.4M506.75 284.7v2" stroke="#333333" stroke-width="0.9" fill="none"/>
<rect x="29.4" y="3.4" width="134.1" height="281.3" fill="none" stroke="#333333" stroke-width="1.1"/>
<rect x="203.4" y="3.4" width="133.9" height="281.1" fill="none" stroke="#333333" stroke-width="1.1"/>
<path d="M385.7 3.4H519.6V284.7H385.7Z" fill="none" stroke="#333333" stroke-width="1.1"/>
<path d="M385.7 143.6H519.6" fill="none" stroke="#555" stroke-width="1.2"/>
<text x="26.2" y="286.67" font-size="7.5" text-anchor="end" font-weight="normal" fill="#1a1a1a" stroke="#1a1a1a" stroke-width="0.42" >-50</text>
<text x="26.2" y="251.5" font-size="7.5" text-anchor="end" font-weight="normal" fill="#1a1a1a" stroke="#1a1a1a" stroke-width="0.42" >0</text>
<text x="26.2" y="216.33" font-size="7.5" text-anchor="end" font-weight="normal" fill="#1a1a1a" stroke="#1a1a1a" stroke-width="0.42" >50</text>
<text x="26.2" y="181.15" font-size="7.5" text-anchor="end" font-weight="normal" fill="#1a1a1a" stroke="#1a1a1a" stroke-width="0.42" >100</text>
<text x="26.2" y="145.97" font-size="7.5" text-anchor="end" font-weight="normal" fill="#1a1a1a" stroke="#1a1a1a" stroke-width="0.42" >150</text>
<text x="26.2" y="110.8" font-size="7.5" text-anchor="end" font-weight="normal" fill="#1a1a1a" stroke="#1a1a1a" stroke-width="0.42" >200</text>
<text x="26.2" y="75.62" font-size="7.5" text-anchor="end" font-weight="normal" fill="#1a1a1a" stroke="#1a1a1a" stroke-width="0.42" >250</text>
<text x="26.2" y="40.45" font-size="7.5" text-anchor="end" font-weight="normal" fill="#1a1a1a" stroke="#1a1a1a" stroke-width="0.42" >300</text>
<text x="26.2" y="5.28" font-size="7.5" text-anchor="end" font-weight="normal" fill="#1a1a1a" stroke="#1a1a1a" stroke-width="0.42" >350</text>
<text x="29.4" y="293.8" font-size="7.5" text-anchor="middle" font-weight="normal" fill="#1a1a1a" stroke="#1a1a1a" stroke-width="0.42" >-6</text>
<text x="51.75" y="293.8" font-size="7.5" text-anchor="middle" font-weight="normal" fill="#1a1a1a" stroke="#1a1a1a" stroke-width="0.42" >-4</text>
<text x="74.1" y="293.8" font-size="7.5" text-anchor="middle" font-weight="normal" fill="#1a1a1a" stroke="#1a1a1a" stroke-width="0.42" >-2</text>
<text x="96.45" y="293.8" font-size="7.5" text-anchor="middle" font-weight="normal" fill="#1a1a1a" stroke="#1a1a1a" stroke-width="0.42" >0</text>
<text x="118.8" y="293.8" font-size="7.5" text-anchor="middle" font-weight="normal" fill="#1a1a1a" stroke="#1a1a1a" stroke-width="0.42" >2</text>
<text x="141.15" y="293.8" font-size="7.5" text-anchor="middle" font-weight="normal" fill="#1a1a1a" stroke="#1a1a1a" stroke-width="0.42" >4</text>
<text x="163.5" y="293.8" font-size="7.5" text-anchor="middle" font-weight="normal" fill="#1a1a1a" stroke="#1a1a1a" stroke-width="0.42" >6</text>
<text x="200.2" y="286.97" font-size="7.5" text-anchor="end" font-weight="normal" fill="#1a1a1a" stroke="#1a1a1a" stroke-width="0.42" >-50</text>
<text x="200.2" y="251.8" font-size="7.5" text-anchor="end" font-weight="normal" fill="#1a1a1a" stroke="#1a1a1a" stroke-width="0.42" >0</text>
<text x="200.2" y="216.62" font-size="7.5" text-anchor="end" font-weight="normal" fill="#1a1a1a" stroke="#1a1a1a" stroke-width="0.42" >50</text>
<text x="200.2" y="181.45" font-size="7.5" text-anchor="end" font-weight="normal" fill="#1a1a1a" stroke="#1a1a1a" stroke-width="0.42" >100</text>
<text x="200.2" y="146.27" font-size="7.5" text-anchor="end" font-weight="normal" fill="#1a1a1a" stroke="#1a1a1a" stroke-width="0.42" >150</text>
<text x="200.2" y="111.1" font-size="7.5" text-anchor="end" font-weight="normal" fill="#1a1a1a" stroke="#1a1a1a" stroke-width="0.42" >200</text>
<text x="200.2" y="75.92" font-size="7.5" text-anchor="end" font-weight="normal" fill="#1a1a1a" stroke="#1a1a1a" stroke-width="0.42" >250</text>
<text x="200.2" y="40.75" font-size="7.5" text-anchor="end" font-weight="normal" fill="#1a1a1a" stroke="#1a1a1a" stroke-width="0.42" >300</text>
<text x="200.2" y="5.58" font-size="7.5" text-anchor="end" font-weight="normal" fill="#1a1a1a" stroke="#1a1a1a" stroke-width="0.42" >350</text>
<text x="215.2" y="294.9" font-size="7.5" text-anchor="middle" font-weight="normal" fill="#1a1a1a" stroke="#1a1a1a" stroke-width="0.42" >-1.0</text>
<text x="238.8" y="294.9" font-size="7.5" text-anchor="middle" font-weight="normal" fill="#1a1a1a" stroke="#1a1a1a" stroke-width="0.42" >-0.5</text>
<text x="262.4" y="294.9" font-size="7.5" text-anchor="middle" font-weight="normal" fill="#1a1a1a" stroke="#1a1a1a" stroke-width="0.42" >0.0</text>
<text x="286" y="294.9" font-size="7.5" text-anchor="middle" font-weight="normal" fill="#1a1a1a" stroke="#1a1a1a" stroke-width="0.42" >0.5</text>
<text x="309.6" y="294.9" font-size="7.5" text-anchor="middle" font-weight="normal" fill="#1a1a1a" stroke="#1a1a1a" stroke-width="0.42" >1.0</text>
<text x="333.2" y="294.9" font-size="7.5" text-anchor="middle" font-weight="normal" fill="#1a1a1a" stroke="#1a1a1a" stroke-width="0.42" >1.5</text>
<text x="382.1" y="134.39" font-size="7.2" text-anchor="end" font-weight="normal" fill="#1a1a1a" stroke="#1a1a1a" stroke-width="0.42" >-4</text>
<text x="382.1" y="119.23" font-size="7.2" text-anchor="end" font-weight="normal" fill="#1a1a1a" stroke="#1a1a1a" stroke-width="0.42" >-3</text>
<text x="382.1" y="104.07" font-size="7.2" text-anchor="end" font-weight="normal" fill="#1a1a1a" stroke="#1a1a1a" stroke-width="0.42" >-2</text>
<text x="382.1" y="88.91" font-size="7.2" text-anchor="end" font-weight="normal" fill="#1a1a1a" stroke="#1a1a1a" stroke-width="0.42" >-1</text>
<text x="382.1" y="73.75" font-size="7.2" text-anchor="end" font-weight="normal" fill="#1a1a1a" stroke="#1a1a1a" stroke-width="0.42" >0</text>
<text x="382.1" y="58.59" font-size="7.2" text-anchor="end" font-weight="normal" fill="#1a1a1a" stroke="#1a1a1a" stroke-width="0.42" >1</text>
<text x="382.1" y="43.43" font-size="7.2" text-anchor="end" font-weight="normal" fill="#1a1a1a" stroke="#1a1a1a" stroke-width="0.42" >2</text>
<text x="382.1" y="28.27" font-size="7.2" text-anchor="end" font-weight="normal" fill="#1a1a1a" stroke="#1a1a1a" stroke-width="0.42" >3</text>
<text x="382.1" y="13.11" font-size="7.2" text-anchor="end" font-weight="normal" fill="#1a1a1a" stroke="#1a1a1a" stroke-width="0.42" >4</text>
<text x="382.1" y="287.1" font-size="7.2" text-anchor="end" font-weight="normal" fill="#1a1a1a" stroke="#1a1a1a" stroke-width="0.42" >0</text>
<text x="382.1" y="261.52" font-size="7.2" text-anchor="end" font-weight="normal" fill="#1a1a1a" stroke="#1a1a1a" stroke-width="0.42" >5</text>
<text x="382.1" y="235.94" font-size="7.2" text-anchor="end" font-weight="normal" fill="#1a1a1a" stroke="#1a1a1a" stroke-width="0.42" >10</text>
<text x="382.1" y="210.36" font-size="7.2" text-anchor="end" font-weight="normal" fill="#1a1a1a" stroke="#1a1a1a" stroke-width="0.42" >15</text>
<text x="382.1" y="184.78" font-size="7.2" text-anchor="end" font-weight="normal" fill="#1a1a1a" stroke="#1a1a1a" stroke-width="0.42" >20</text>
<text x="382.1" y="159.2" font-size="7.2" text-anchor="end" font-weight="normal" fill="#1a1a1a" stroke="#1a1a1a" stroke-width="0.42" >25</text>
<text x="386" y="294.1" font-size="7.2" text-anchor="middle" font-weight="normal" fill="#1a1a1a" stroke="#1a1a1a" stroke-width="0.42" >0</text>
<text x="410.15" y="294.1" font-size="7.2" text-anchor="middle" font-weight="normal" fill="#1a1a1a" stroke="#1a1a1a" stroke-width="0.42" >100</text>
<text x="434.3" y="294.1" font-size="7.2" text-anchor="middle" font-weight="normal" fill="#1a1a1a" stroke="#1a1a1a" stroke-width="0.42" >200</text>
<text x="458.45" y="294.1" font-size="7.2" text-anchor="middle" font-weight="normal" fill="#1a1a1a" stroke="#1a1a1a" stroke-width="0.42" >300</text>
<text x="482.6" y="294.1" font-size="7.2" text-anchor="middle" font-weight="normal" fill="#1a1a1a" stroke="#1a1a1a" stroke-width="0.42" >400</text>
<text x="506.75" y="294.1" font-size="7.2" text-anchor="middle" font-weight="normal" fill="#1a1a1a" stroke="#1a1a1a" stroke-width="0.42" >500</text>
<text x="335.6" y="31.5" font-size="9" text-anchor="end" font-weight="bold" fill="#c81848" >470 K</text>
<text x="335.6" y="52.3" font-size="9" text-anchor="end" font-weight="bold" fill="#c81840" >440 K</text>
<text x="335.6" y="75" font-size="9" text-anchor="end" font-weight="normal" fill="#e05058" stroke="#e05058" stroke-width="0.25" >420 K</text>
<text x="335.6" y="97.4" font-size="9" text-anchor="end" font-weight="normal" fill="#e08040" stroke="#e08040" stroke-width="0.25" >400 K</text>
<text x="335.6" y="119.3" font-size="9" text-anchor="end" font-weight="normal" fill="#e8b040" stroke="#e8b040" stroke-width="0.25" >370 K</text>
<text x="335.6" y="140" font-size="9" text-anchor="end" font-weight="normal" fill="#dcc838" stroke="#dcc838" stroke-width="0.25" >345 K</text>
<text x="335.6" y="161.3" font-size="9" text-anchor="end" font-weight="normal" fill="#e0c838" stroke="#e0c838" stroke-width="0.25" >320 K</text>
<text x="335.6" y="180.4" font-size="9" text-anchor="end" font-weight="normal" fill="#b4b040" stroke="#b4b040" stroke-width="0.3" >270 K</text>
<text x="335.6" y="200.2" font-size="9" text-anchor="end" font-weight="normal" fill="#556838" stroke="#556838" stroke-width="0.45" >170 K</text>
<text x="335.6" y="220.2" font-size="9" text-anchor="end" font-weight="normal" fill="#45603a" stroke="#45603a" stroke-width="0.45" >120 K</text>
<text x="335.6" y="240.9" font-size="9" text-anchor="end" font-weight="normal" fill="#2a5a48" stroke="#2a5a48" stroke-width="0.45" >78 K</text>
<text x="415.8" y="13" font-size="7" text-anchor="start" font-weight="bold" fill="#36369a" >AFE-FE</text>
<text x="391.5" y="60.3" font-size="7.1" text-anchor="start" font-weight="bold" fill="#36369a" >FE-AFE</text>
<text x="496.3" y="58.1" font-size="7.1" text-anchor="start" font-weight="bold" fill="#36369a" >FE &gt; 0</text>
<text x="391.5" y="92.2" font-size="7.1" text-anchor="start" font-weight="bold" fill="#a8333a" >FE-AFE</text>
<text x="496.3" y="87" font-size="7.1" text-anchor="start" font-weight="bold" fill="#a8333a" >FE &lt; 0</text>
<text x="415.8" y="138" font-size="7" text-anchor="start" font-weight="bold" fill="#a8333a" >AFE-FE</text>
<text x="402.8" y="180.5" font-size="9.2" fill="#1a1a1a" stroke="#1a1a1a" stroke-width="0.35">P<tspan font-size="8.6" dy="2.7">sat</tspan></text>
<text x="402.6" y="254.2" font-size="9.2" fill="#1a1a1a" stroke="#1a1a1a" stroke-width="0.35">P<tspan font-size="8.6" dy="2.5">rem</tspan></text>
<text x="34.9" y="18.8" font-size="13.5" text-anchor="start" font-weight="normal" fill="#1a1a1a" stroke="#1a1a1a" stroke-width="0.6" >a</text>
<text x="209" y="18.8" font-size="13" text-anchor="start" font-weight="normal" fill="#1a1a1a" stroke="#1a1a1a" stroke-width="0.45" >b</text>
<text x="391.8" y="19.3" font-size="13.5" text-anchor="start" font-weight="bold" fill="#1a1a1a" >c</text>
<text x="391.6" y="159.7" font-size="13" text-anchor="start" font-weight="normal" fill="#1a1a1a" stroke="#1a1a1a" stroke-width="0.65" >d</text>
<text x="96.3" y="310.6" font-size="11.3" text-anchor="middle" font-weight="normal" fill="#1a1a1a" stroke="#1a1a1a" stroke-width="0.45" >V(V)</text>
<text x="270.6" y="310.4" font-size="11" text-anchor="middle" font-weight="normal" fill="#1a1a1a" stroke="#1a1a1a" stroke-width="0.45" >E(MV/cm)</text>
<text x="453.2" y="309.6" font-size="11.6" text-anchor="middle" font-weight="normal" fill="#1a1a1a" stroke="#1a1a1a" stroke-width="0.45" >Temperature (K)</text>
<text transform="translate(8.4 140.2) rotate(-90)" font-size="12" text-anchor="middle" fill="#1a1a1a" stroke="#1a1a1a" stroke-width="0.45">Current (μA)</text>
<text transform="translate(185.1 143.1) rotate(-90)" font-size="11.6" text-anchor="middle" fill="#1a1a1a" stroke="#1a1a1a" stroke-width="0.45">Polarization (μC/cm<tspan font-size="7.4" dy="-4.3">2</tspan><tspan dy="4.3">)</tspan></text>
<text transform="translate(366.4 74.5) rotate(-90)" font-size="11.5" text-anchor="middle" fill="#1a1a1a" stroke="#1a1a1a" stroke-width="0.45">Coercive voltage (V)</text>
<text transform="translate(367.2 217.4) rotate(-90)" font-size="11.6" text-anchor="middle" fill="#1a1a1a" stroke="#1a1a1a" stroke-width="0.45">Polarization (μC/cm<tspan font-size="7.4" dy="-4.3">2</tspan><tspan dy="4.3">)</tspan></text>
</svg>
</body></html>
